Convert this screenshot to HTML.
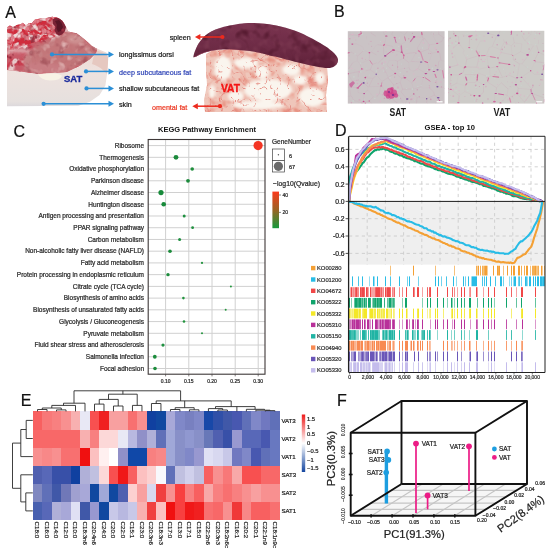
<!DOCTYPE html>
<html><head><meta charset="utf-8"><style>
html,body{margin:0;padding:0;background:#fff;}
body{width:549px;height:550px;overflow:hidden;}
svg{display:block;font-family:'Liberation Sans', Arial, sans-serif;}
</style></head><body>
<svg width="549" height="550" viewBox="0 0 549 550">
<rect width="549" height="550" fill="#fff"/>
<defs><clipPath id="cpA"><path d="M7,27.4 L9.7,25.6 L13,27 L16.8,25 L20,24.5 L22.8,22.7 L26,25.5 L28.7,23.2 L32,23 L34.6,19.7 L40.5,18.5 L46.4,17.9 L52.3,16.7 L58.3,17.9 L62,20.5 L64.2,23.8 L66.8,28.6 L68,31.4 L76.4,33.3 L84.2,39.1 L91.9,45.9 L99.6,49.7 L106.4,52.6 L108.3,58.4 L107.3,71.9 L105.4,85.4 L99.6,95.1 L90,101.8 L78.4,105.7 L7,106.3 Z"/></clipPath>
<linearGradient id="fatG" x1="0" y1="0" x2="0" y2="1"><stop offset="0" stop-color="#ecd4cc"/><stop offset="0.45" stop-color="#eee2de"/><stop offset="0.88" stop-color="#e6e0de"/><stop offset="1" stop-color="#d4d2da"/></linearGradient></defs>
<g clip-path="url(#cpA)">
<rect x="0" y="40" width="115" height="70" fill="url(#fatG)"/>
<path d="M95,50 Q104,52 108,56 L108,75 Q100,66 92,64 Z" fill="#e6c8c0"/>
</g>
<defs><clipPath id="cpM"><path d="M7,27.4 L9.7,25.6 L13,27 L16.8,25 L20,24.5 L22.8,22.7 L26,25.5 L28.7,23.2 L32,23 L34.6,19.7 L40.5,18.5 L46.4,17.9 L52.3,16.7 L58.3,17.9 L62,20.5 L64.2,23.8 L66.8,28.6 L68,31.4 L76.4,33.3 L84.2,39.1 L91.9,45.9 L97,49 L96,53 L90,59 L80.3,65.5 L66.8,71.9 L53.3,72.9 L37.8,73.8 L24.3,71.9 L7,70 Z"/></clipPath></defs>
<path d="M7,27.4 L9.7,25.6 L13,27 L16.8,25 L20,24.5 L22.8,22.7 L26,25.5 L28.7,23.2 L32,23 L34.6,19.7 L40.5,18.5 L46.4,17.9 L52.3,16.7 L58.3,17.9 L62,20.5 L64.2,23.8 L66.8,28.6 L68,31.4 L76.4,33.3 L84.2,39.1 L91.9,45.9 L97,49 L96,53 L90,59 L80.3,65.5 L66.8,71.9 L53.3,72.9 L37.8,73.8 L24.3,71.9 L7,70 Z" fill="#c8626c"/>
<g clip-path="url(#cpM)"><path d="M7,45 Q20,42 35,45 L40,60 L30,70 L7,70 Z" fill="#c85a68"/></g>
<defs>
<filter id="f9" x="0" y="0" width="100%" height="100%" filterUnits="userSpaceOnUse" color-interpolation-filters="sRGB"><feTurbulence type="fractalNoise" baseFrequency="0.15" numOctaves="2" seed="3"/><feColorMatrix type="matrix" values="0 0 0 0 0.784 0 0 0 0 0.227 0 0 0 0 0.298 5 0 0 0 -2.3"/></filter>
</defs>
<g clip-path="url(#cpM)"><rect x="0" y="10" width="110" height="70" filter="url(#f9)" fill="#000"/></g>
<defs>
<filter id="f13" x="0" y="0" width="100%" height="100%" filterUnits="userSpaceOnUse" color-interpolation-filters="sRGB"><feTurbulence type="fractalNoise" baseFrequency="0.12" numOctaves="2" seed="11"/><feColorMatrix type="matrix" values="0 0 0 0 0.91 0 0 0 0 0.8 0 0 0 0 0.8 6 0 0 0 -3.1"/></filter>
</defs>
<g clip-path="url(#cpM)"><rect x="0" y="10" width="110" height="70" filter="url(#f13)" fill="#000"/></g>
<defs>
<filter id="f17" x="0" y="0" width="100%" height="100%" filterUnits="userSpaceOnUse" color-interpolation-filters="sRGB"><feTurbulence type="fractalNoise" baseFrequency="0.2" numOctaves="2" seed="8"/><feColorMatrix type="matrix" values="0 0 0 0 0.596 0 0 0 0 0.157 0 0 0 0 0.227 5 0 0 0 -3.0"/></filter>
</defs>
<g clip-path="url(#cpM)"><rect x="0" y="10" width="110" height="70" filter="url(#f17)" fill="#000"/></g>
<defs><clipPath id="cpT"><path d="M0,10 L70,10 L66,31 L55,37 L40,41 L26,45 L16,50 L0,52 Z"/></clipPath></defs>
<g clip-path="url(#cpM)">
<defs>
<filter id="f23" x="0" y="0" width="100%" height="100%" filterUnits="userSpaceOnUse" color-interpolation-filters="sRGB"><feTurbulence type="fractalNoise" baseFrequency="0.2" numOctaves="2" seed="51"/><feColorMatrix type="matrix" values="0 0 0 0 0.816 0 0 0 0 0.173 0 0 0 0 0.235 6 0 0 0 -2.6"/></filter>
</defs>
<g clip-path="url(#cpT)"><rect x="0" y="10" width="75" height="45" filter="url(#f23)" fill="#000"/></g>
<defs>
<filter id="f27" x="0" y="0" width="100%" height="100%" filterUnits="userSpaceOnUse" color-interpolation-filters="sRGB"><feTurbulence type="fractalNoise" baseFrequency="0.18" numOctaves="2" seed="53"/><feColorMatrix type="matrix" values="0 0 0 0 0.933 0 0 0 0 0.847 0 0 0 0 0.847 6 0 0 0 -3.2"/></filter>
</defs>
<g clip-path="url(#cpT)"><rect x="0" y="10" width="75" height="45" filter="url(#f27)" fill="#000"/></g>
<defs>
<filter id="f31" x="0" y="0" width="100%" height="100%" filterUnits="userSpaceOnUse" color-interpolation-filters="sRGB"><feTurbulence type="fractalNoise" baseFrequency="0.2" numOctaves="2" seed="57"/><feColorMatrix type="matrix" values="0 0 0 0 0.878 0 0 0 0 0.486 0 0 0 0 0.533 5 0 0 0 -2.6"/></filter>
</defs>
<g clip-path="url(#cpT)"><rect x="0" y="10" width="75" height="45" filter="url(#f31)" fill="#000"/></g>
</g>
<defs><filter id="blurM" x="-20%" y="-20%" width="140%" height="140%"><feGaussianBlur stdDeviation="1.5"/></filter></defs>
<defs><clipPath id="cpL"><path d="M24,58 Q32,46 48,41 Q60,37 66,31 L76.4,33.3 L84.2,39.1 L91.9,45.9 L97,49 L96,53 L90,59 L80.3,65.5 L66.8,71.9 L53.3,72.9 L37.8,73.8 L24,71 Z"/></clipPath></defs>
<g clip-path="url(#cpM)"><g filter="url(#blurM)">
<path d="M24,58 Q32,46 48,41 Q60,37 66,31 L76.4,33.3 L84.2,39.1 L91.9,45.9 L97,49 L96,53 L90,59 L80.3,65.5 L66.8,71.9 L53.3,72.9 L37.8,73.8 L24,71 Z" fill="#c27a7c" opacity="0.92"/>
<ellipse cx="76" cy="39" rx="9" ry="5" fill="#d6a0a0" opacity="0.6"/>
<path d="M26,64 Q40,60 58,64 Q70,68 66,74 L40,75 L24,73 Z" fill="#cc8088" opacity="0.6"/>
<path d="M7,49 Q20,47 30,50 L30,53 Q18,52 7,53 Z" fill="#e4c8c8" opacity="0.7"/>
</g></g>
<defs>
<filter id="f44" x="0" y="0" width="100%" height="100%" filterUnits="userSpaceOnUse" color-interpolation-filters="sRGB"><feTurbulence type="fractalNoise" baseFrequency="0.12" numOctaves="2" seed="41"/><feColorMatrix type="matrix" values="0 0 0 0 0.659 0 0 0 0 0.345 0 0 0 0 0.376 4 0 0 0 -2.2"/></filter>
</defs>
<g clip-path="url(#cpL)"><rect x="20" y="28" width="80" height="48" filter="url(#f44)" fill="#000"/></g>
<defs>
<filter id="f48" x="0" y="0" width="100%" height="100%" filterUnits="userSpaceOnUse" color-interpolation-filters="sRGB"><feTurbulence type="fractalNoise" baseFrequency="0.12" numOctaves="2" seed="43"/><feColorMatrix type="matrix" values="0 0 0 0 0.863 0 0 0 0 0.675 0 0 0 0 0.675 4 0 0 0 -2.3"/></filter>
</defs>
<g clip-path="url(#cpL)"><rect x="20" y="28" width="80" height="48" filter="url(#f48)" fill="#000"/></g>
<path d="M52.5,19.5 L56,17.8 L59,18.5 L62,20.5 L64,23.5 L66,27 L65,31 L62,34.5 L59,35.7 L56,33.5 L54.5,30 L55.5,27 L53,24 Z" fill="#7a2436"/>
<path d="M55,21 L59,20 L61.5,23 L63,27 L61,31 L58,32 L56.5,28 L57,25 Z" fill="#581626"/>
<circle cx="63" cy="30" r="1.6" fill="#9a3040"/>
<path d="M30,37 L34,36 L35,42 L31,43 Z" fill="#8a3040" opacity="0.7"/>
<path d="M38,74.5 Q45,73 55,73.4 Q61,74 62,76 Q60,80.5 50,80.5 Q41,80 38,74.5 Z" fill="#f8f3e6"/>
<defs><clipPath id="cpV"><path d="M206,54 L212,50.5 L240,48.5 L270,53 L300,60 L327,65.5 L328,80 L326,95 L327,112 L205,112 L204,100 L207,85 L206,70 Z"/></clipPath></defs>
<path d="M206,54 L212,50.5 L240,48.5 L270,53 L300,60 L327,65.5 L328,80 L326,95 L327,112 L205,112 L204,100 L207,85 L206,70 Z" fill="#efc6ba"/>
<defs>
<filter id="f59" x="0" y="0" width="100%" height="100%" filterUnits="userSpaceOnUse" color-interpolation-filters="sRGB"><feTurbulence type="fractalNoise" baseFrequency="0.12" numOctaves="2" seed="6"/><feColorMatrix type="matrix" values="0 0 0 0 0.91 0 0 0 0 0.58 0 0 0 0 0.518 3 0 0 0 -1.4"/></filter>
</defs>
<g clip-path="url(#cpV)"><rect x="200" y="50" width="130" height="65" filter="url(#f59)" fill="#000"/></g>
<defs>
<filter id="f63" x="0" y="0" width="100%" height="100%" filterUnits="userSpaceOnUse" color-interpolation-filters="sRGB"><feTurbulence type="turbulence" baseFrequency="0.05" numOctaves="2" seed="21"/><feColorMatrix type="matrix" values="0 0 0 0 0.902 0 0 0 0 0.525 0 0 0 0 0.478 -8 0 0 0 1.0"/></filter>
</defs>
<g clip-path="url(#cpV)"><rect x="200" y="50" width="130" height="65" filter="url(#f63)" fill="#000"/></g>
<defs><filter id="blurV" x="-50%" y="-50%" width="200%" height="200%"><feGaussianBlur stdDeviation="1.8"/></filter></defs>
<g clip-path="url(#cpV)"><g filter="url(#blurV)" fill="#faf5ee">
<ellipse cx="223" cy="68" rx="9" ry="12"/>
<ellipse cx="246" cy="63" rx="12" ry="5.5"/>
<ellipse cx="268" cy="90" rx="24" ry="11"/>
<ellipse cx="312" cy="97" rx="13" ry="10"/>
<ellipse cx="291" cy="70" rx="9" ry="6"/>
<ellipse cx="236" cy="96" rx="8" ry="6"/>
<ellipse cx="258" cy="105" rx="26" ry="4.5"/>
<ellipse cx="262" cy="72" rx="7" ry="7"/>
<ellipse cx="212" cy="92" rx="3.5" ry="7"/>
<ellipse cx="300" cy="80" rx="7" ry="5"/>
<ellipse cx="320" cy="78" rx="5" ry="6"/>
</g></g>
<defs>
<filter id="f81" x="0" y="0" width="100%" height="100%" filterUnits="userSpaceOnUse" color-interpolation-filters="sRGB"><feTurbulence type="turbulence" baseFrequency="0.09" numOctaves="2" seed="33"/><feColorMatrix type="matrix" values="0 0 0 0 0.894 0 0 0 0 0.541 0 0 0 0 0.502 -9 0 0 0 0.9"/></filter>
</defs>
<g clip-path="url(#cpV)"><rect x="200" y="50" width="130" height="65" filter="url(#f81)" fill="#000"/></g>
<defs><clipPath id="cpS"><path d="M193.3,57.3 C195,48 200,39 208,33.5 C216,28 230,24.5 245,23.2 C258,22.5 272,24 285,27.5 C298,31 310,37 320,43 C330,49 337,54 338,59.5 C338,64 335,67 330,68 C322,68.5 312,65.5 299.3,62.8 C288,60 280,57.5 272,56 C262,53 252,51 244.6,50.5 C235,49.5 228,49 222.8,49.2 C214,49.8 206,51.5 200,54.5 C197,56 195,57.5 193.3,57.3 Z"/></clipPath><linearGradient id="splG" x1="0" y1="0" x2="0" y2="1"><stop offset="0" stop-color="#7a3450"/><stop offset="0.6" stop-color="#6c2a44"/><stop offset="1" stop-color="#5e2038"/></linearGradient></defs>
<path d="M193.3,57.3 C195,48 200,39 208,33.5 C216,28 230,24.5 245,23.2 C258,22.5 272,24 285,27.5 C298,31 310,37 320,43 C330,49 337,54 338,59.5 C338,64 335,67 330,68 C322,68.5 312,65.5 299.3,62.8 C288,60 280,57.5 272,56 C262,53 252,51 244.6,50.5 C235,49.5 228,49 222.8,49.2 C214,49.8 206,51.5 200,54.5 C197,56 195,57.5 193.3,57.3 Z" fill="url(#splG)"/>
<defs>
<filter id="f87" x="0" y="0" width="100%" height="100%" filterUnits="userSpaceOnUse" color-interpolation-filters="sRGB"><feTurbulence type="fractalNoise" baseFrequency="0.1" numOctaves="2" seed="12"/><feColorMatrix type="matrix" values="0 0 0 0 0.494 0 0 0 0 0.227 0 0 0 0 0.322 3 0 0 0 -1.5"/></filter>
</defs>
<g clip-path="url(#cpS)"><rect x="190" y="20" width="150" height="50" filter="url(#f87)" fill="#000"/></g>
<defs>
<filter id="f91" x="0" y="0" width="100%" height="100%" filterUnits="userSpaceOnUse" color-interpolation-filters="sRGB"><feTurbulence type="fractalNoise" baseFrequency="0.1" numOctaves="2" seed="14"/><feColorMatrix type="matrix" values="0 0 0 0 0.337 0 0 0 0 0.102 0 0 0 0 0.188 3 0 0 0 -1.5"/></filter>
</defs>
<g clip-path="url(#cpS)"><rect x="190" y="20" width="150" height="50" filter="url(#f91)" fill="#000"/></g>
<g clip-path="url(#cpS)"><path d="M194,58 C200,54 210,50.5 222.8,49.8 C235,49.8 250,51.5 262,54" stroke="#a04862" stroke-width="1.4" fill="none" opacity="0.8"/></g>
<line x1="52" y1="54.4" x2="110" y2="54.4" stroke="#2b8fd6" stroke-width="1.5"/>
<circle cx="52" cy="54.4" r="2.1" fill="#2b8fd6"/>
<path d="M108.5,51.4 L114,54.4 L108.5,57.4 Z" fill="#2b8fd6"/>
<line x1="86" y1="71.4" x2="110" y2="71.4" stroke="#2b8fd6" stroke-width="1.5"/>
<circle cx="86" cy="71.4" r="2.1" fill="#2b8fd6"/>
<path d="M108.5,68.4 L114,71.4 L108.5,74.4 Z" fill="#2b8fd6"/>
<line x1="86.5" y1="88.4" x2="110" y2="88.4" stroke="#2b8fd6" stroke-width="1.5"/>
<circle cx="86.5" cy="88.4" r="2.1" fill="#2b8fd6"/>
<path d="M108.5,85.4 L114,88.4 L108.5,91.4 Z" fill="#2b8fd6"/>
<line x1="43.6" y1="103.8" x2="110" y2="103.8" stroke="#2b8fd6" stroke-width="1.5"/>
<circle cx="43.6" cy="103.8" r="2.1" fill="#2b8fd6"/>
<path d="M108.5,100.8 L114,103.8 L108.5,106.8 Z" fill="#2b8fd6"/>
<line x1="222.4" y1="37" x2="198.9" y2="37" stroke="#ec2a1e" stroke-width="1.5"/>
<circle cx="222.4" cy="37" r="2.1" fill="#ec2a1e"/>
<path d="M200.4,34 L194.9,37 L200.4,40 Z" fill="#ec2a1e"/>
<line x1="220" y1="106.2" x2="196.3" y2="106.2" stroke="#ec2a1e" stroke-width="1.5"/>
<circle cx="220" cy="106.2" r="2.1" fill="#ec2a1e"/>
<path d="M197.8,103.2 L192.3,106.2 L197.8,109.2 Z" fill="#ec2a1e"/>
<text x="119" y="57" font-size="7.15" fill="#1a1a1a" stroke="#1a1a1a" stroke-width="0.22" text-anchor="start" font-weight="normal" >longissimus dorsi</text>
<text x="119" y="74.6" font-size="7.15" fill="#3348b8" stroke="#3348b8" stroke-width="0.22" text-anchor="start" font-weight="normal" >deep subcutaneous fat</text>
<text x="119" y="91.2" font-size="7.15" fill="#1a1a1a" stroke="#1a1a1a" stroke-width="0.22" text-anchor="start" font-weight="normal" >shallow subcutaneous fat</text>
<text x="119" y="106.6" font-size="7.15" fill="#1a1a1a" stroke="#1a1a1a" stroke-width="0.22" text-anchor="start" font-weight="normal" >skin</text>
<text x="169.7" y="40" font-size="7.15" fill="#1a1a1a" stroke="#1a1a1a" stroke-width="0.22" text-anchor="start" font-weight="normal" >spleen</text>
<text x="152" y="109.6" font-size="7.15" fill="#ec3a24" stroke="#ec3a24" stroke-width="0.22" text-anchor="start" font-weight="normal" >omental fat</text>
<text x="64" y="81.6" font-size="9.3" font-weight="bold" fill="#1a2a9c" stroke="#1a2a9c" stroke-width="0.3" textLength="18.2" lengthAdjust="spacingAndGlyphs">SAT</text>
<text x="221" y="92.2" font-size="10.5" font-weight="bold" fill="#f41414" stroke="#f41414" stroke-width="0.35" textLength="19" lengthAdjust="spacingAndGlyphs">VAT</text>
<rect x="347.8" y="31.2" width="96.8" height="72.4" fill="#cac3c5"/>
<clipPath id="cpB1"><rect x="347.8" y="31.2" width="96.8" height="72.4"/></clipPath><g clip-path="url(#cpB1)">
<line x1="347.0" y1="40.3" x2="347.3" y2="37.1" stroke="#d080a8" stroke-width="0.7" opacity="0.11"/>
<line x1="348.0" y1="74.2" x2="351.9" y2="80.6" stroke="#d080a8" stroke-width="0.7" opacity="0.10"/>
<line x1="351.9" y1="80.6" x2="350.3" y2="86.7" stroke="#d080a8" stroke-width="0.7" opacity="0.18"/>
<line x1="350.3" y1="86.7" x2="349.6" y2="87.6" stroke="#d080a8" stroke-width="0.7" opacity="0.10"/>
<line x1="349.6" y1="87.6" x2="341.1" y2="86.5" stroke="#d080a8" stroke-width="0.7" opacity="0.13"/>
<line x1="412.4" y1="28.5" x2="421.2" y2="29.8" stroke="#d080a8" stroke-width="0.7" opacity="0.14"/>
<line x1="394.8" y1="60.3" x2="389.1" y2="60.6" stroke="#d080a8" stroke-width="0.7" opacity="0.06"/>
<line x1="393.8" y1="50.2" x2="393.3" y2="49.7" stroke="#d080a8" stroke-width="0.7" opacity="0.09"/>
<line x1="376.2" y1="74.2" x2="370.3" y2="69.7" stroke="#d080a8" stroke-width="0.7" opacity="0.12"/>
<line x1="376.2" y1="74.2" x2="382.7" y2="67.8" stroke="#d080a8" stroke-width="0.7" opacity="0.07"/>
<line x1="370.3" y1="69.7" x2="372.4" y2="64.4" stroke="#d080a8" stroke-width="0.7" opacity="0.17"/>
<line x1="378.0" y1="63.3" x2="376.4" y2="62.9" stroke="#d080a8" stroke-width="0.7" opacity="0.08"/>
<line x1="372.4" y1="64.4" x2="376.4" y2="62.9" stroke="#d080a8" stroke-width="0.7" opacity="0.20"/>
<line x1="383.8" y1="54.4" x2="385.2" y2="55.8" stroke="#d080a8" stroke-width="0.7" opacity="0.10"/>
<line x1="378.0" y1="63.3" x2="385.3" y2="56.1" stroke="#d080a8" stroke-width="0.7" opacity="0.19"/>
<line x1="375.7" y1="45.7" x2="371.4" y2="52.1" stroke="#d080a8" stroke-width="0.7" opacity="0.07"/>
<line x1="375.7" y1="45.7" x2="377.6" y2="44.6" stroke="#d080a8" stroke-width="0.7" opacity="0.05"/>
<line x1="377.6" y1="44.6" x2="383.4" y2="45.5" stroke="#d080a8" stroke-width="0.7" opacity="0.19"/>
<line x1="383.8" y1="54.4" x2="383.4" y2="45.5" stroke="#d080a8" stroke-width="0.7" opacity="0.19"/>
<line x1="376.6" y1="55.0" x2="371.4" y2="52.1" stroke="#d080a8" stroke-width="0.7" opacity="0.16"/>
<line x1="383.4" y1="45.5" x2="384.5" y2="44.6" stroke="#d080a8" stroke-width="0.7" opacity="0.08"/>
<line x1="393.3" y1="49.7" x2="392.7" y2="46.4" stroke="#d080a8" stroke-width="0.7" opacity="0.07"/>
<line x1="392.7" y1="46.4" x2="384.5" y2="44.6" stroke="#d080a8" stroke-width="0.7" opacity="0.15"/>
<line x1="384.2" y1="34.7" x2="386.3" y2="36.1" stroke="#d080a8" stroke-width="0.7" opacity="0.17"/>
<line x1="384.5" y1="44.6" x2="386.3" y2="36.1" stroke="#d080a8" stroke-width="0.7" opacity="0.13"/>
<line x1="393.8" y1="29.1" x2="391.8" y2="34.4" stroke="#d080a8" stroke-width="0.7" opacity="0.12"/>
<line x1="384.2" y1="34.7" x2="381.3" y2="25.3" stroke="#d080a8" stroke-width="0.7" opacity="0.10"/>
<line x1="408.3" y1="30.4" x2="404.3" y2="35.0" stroke="#d080a8" stroke-width="0.7" opacity="0.11"/>
<line x1="404.3" y1="35.0" x2="395.8" y2="28.0" stroke="#d080a8" stroke-width="0.7" opacity="0.06"/>
<line x1="410.1" y1="30.4" x2="412.4" y2="28.5" stroke="#d080a8" stroke-width="0.7" opacity="0.07"/>
<line x1="401.2" y1="44.3" x2="405.8" y2="41.6" stroke="#d080a8" stroke-width="0.7" opacity="0.11"/>
<line x1="401.2" y1="44.3" x2="396.1" y2="43.0" stroke="#d080a8" stroke-width="0.7" opacity="0.14"/>
<line x1="404.2" y1="35.3" x2="405.8" y2="41.6" stroke="#d080a8" stroke-width="0.7" opacity="0.13"/>
<line x1="401.8" y1="52.2" x2="401.2" y2="44.3" stroke="#d080a8" stroke-width="0.7" opacity="0.12"/>
<line x1="401.8" y1="52.2" x2="393.8" y2="50.2" stroke="#d080a8" stroke-width="0.7" opacity="0.16"/>
<line x1="391.8" y1="34.4" x2="394.6" y2="37.4" stroke="#d080a8" stroke-width="0.7" opacity="0.12"/>
<line x1="344.3" y1="58.3" x2="345.4" y2="53.4" stroke="#d080a8" stroke-width="0.7" opacity="0.13"/>
<line x1="344.3" y1="58.3" x2="340.7" y2="61.7" stroke="#d080a8" stroke-width="0.7" opacity="0.19"/>
<line x1="347.0" y1="40.3" x2="352.3" y2="44.1" stroke="#d080a8" stroke-width="0.7" opacity="0.06"/>
<line x1="351.6" y1="52.3" x2="345.4" y2="53.4" stroke="#d080a8" stroke-width="0.7" opacity="0.18"/>
<line x1="352.9" y1="62.5" x2="347.2" y2="71.0" stroke="#d080a8" stroke-width="0.7" opacity="0.18"/>
<line x1="348.0" y1="74.2" x2="348.1" y2="73.8" stroke="#d080a8" stroke-width="0.7" opacity="0.15"/>
<line x1="358.5" y1="80.7" x2="351.9" y2="80.6" stroke="#d080a8" stroke-width="0.7" opacity="0.11"/>
<line x1="358.5" y1="80.7" x2="358.2" y2="71.6" stroke="#d080a8" stroke-width="0.7" opacity="0.16"/>
<line x1="358.2" y1="71.6" x2="348.1" y2="73.8" stroke="#d080a8" stroke-width="0.7" opacity="0.18"/>
<line x1="348.1" y1="73.8" x2="347.2" y2="71.0" stroke="#d080a8" stroke-width="0.7" opacity="0.19"/>
<line x1="405.4" y1="105.7" x2="416.2" y2="104.4" stroke="#d080a8" stroke-width="0.7" opacity="0.08"/>
<line x1="373.4" y1="96.9" x2="369.2" y2="101.0" stroke="#d080a8" stroke-width="0.7" opacity="0.16"/>
<line x1="369.2" y1="101.0" x2="376.8" y2="109.0" stroke="#d080a8" stroke-width="0.7" opacity="0.16"/>
<line x1="386.7" y1="104.1" x2="380.2" y2="105.0" stroke="#d080a8" stroke-width="0.7" opacity="0.13"/>
<line x1="389.9" y1="99.1" x2="379.3" y2="93.6" stroke="#d080a8" stroke-width="0.7" opacity="0.06"/>
<line x1="379.3" y1="93.6" x2="376.5" y2="97.2" stroke="#d080a8" stroke-width="0.7" opacity="0.17"/>
<line x1="358.5" y1="80.7" x2="362.6" y2="83.0" stroke="#d080a8" stroke-width="0.7" opacity="0.09"/>
<line x1="350.3" y1="86.7" x2="357.8" y2="87.9" stroke="#d080a8" stroke-width="0.7" opacity="0.19"/>
<line x1="369.2" y1="101.0" x2="364.9" y2="102.1" stroke="#d080a8" stroke-width="0.7" opacity="0.18"/>
<line x1="364.9" y1="102.1" x2="371.6" y2="121.2" stroke="#d080a8" stroke-width="0.7" opacity="0.16"/>
<line x1="345.6" y1="96.6" x2="342.7" y2="102.9" stroke="#d080a8" stroke-width="0.7" opacity="0.19"/>
<line x1="349.6" y1="87.6" x2="350.9" y2="96.0" stroke="#d080a8" stroke-width="0.7" opacity="0.11"/>
<line x1="345.6" y1="96.6" x2="350.9" y2="96.0" stroke="#d080a8" stroke-width="0.7" opacity="0.11"/>
<line x1="366.4" y1="39.3" x2="366.6" y2="36.0" stroke="#d080a8" stroke-width="0.7" opacity="0.07"/>
<line x1="375.7" y1="36.1" x2="371.1" y2="33.2" stroke="#d080a8" stroke-width="0.7" opacity="0.19"/>
<line x1="371.1" y1="33.2" x2="371.5" y2="31.8" stroke="#d080a8" stroke-width="0.7" opacity="0.11"/>
<line x1="430.8" y1="34.9" x2="432.1" y2="28.1" stroke="#d080a8" stroke-width="0.7" opacity="0.05"/>
<line x1="433.0" y1="35.9" x2="438.8" y2="34.3" stroke="#d080a8" stroke-width="0.7" opacity="0.05"/>
<line x1="438.1" y1="27.2" x2="438.8" y2="34.3" stroke="#d080a8" stroke-width="0.7" opacity="0.14"/>
<line x1="429.2" y1="61.3" x2="432.3" y2="53.1" stroke="#d080a8" stroke-width="0.7" opacity="0.08"/>
<line x1="432.3" y1="53.1" x2="438.0" y2="51.8" stroke="#d080a8" stroke-width="0.7" opacity="0.09"/>
<line x1="438.9" y1="61.2" x2="440.9" y2="60.1" stroke="#d080a8" stroke-width="0.7" opacity="0.09"/>
<line x1="440.9" y1="60.1" x2="439.7" y2="52.8" stroke="#d080a8" stroke-width="0.7" opacity="0.17"/>
<line x1="438.0" y1="51.8" x2="439.7" y2="52.8" stroke="#d080a8" stroke-width="0.7" opacity="0.20"/>
<line x1="432.3" y1="53.1" x2="428.4" y2="49.1" stroke="#d080a8" stroke-width="0.7" opacity="0.12"/>
<line x1="429.4" y1="44.8" x2="428.4" y2="49.1" stroke="#d080a8" stroke-width="0.7" opacity="0.17"/>
<line x1="429.4" y1="44.8" x2="437.1" y2="43.7" stroke="#d080a8" stroke-width="0.7" opacity="0.11"/>
<line x1="433.0" y1="35.9" x2="437.2" y2="43.4" stroke="#d080a8" stroke-width="0.7" opacity="0.07"/>
<line x1="429.4" y1="44.8" x2="424.5" y2="38.3" stroke="#d080a8" stroke-width="0.7" opacity="0.13"/>
<line x1="437.1" y1="43.7" x2="437.2" y2="43.4" stroke="#d080a8" stroke-width="0.7" opacity="0.16"/>
<line x1="401.8" y1="52.2" x2="403.8" y2="55.3" stroke="#d080a8" stroke-width="0.7" opacity="0.07"/>
<line x1="394.8" y1="60.3" x2="397.4" y2="61.1" stroke="#d080a8" stroke-width="0.7" opacity="0.14"/>
<line x1="403.8" y1="55.3" x2="403.5" y2="58.3" stroke="#d080a8" stroke-width="0.7" opacity="0.13"/>
<line x1="397.4" y1="61.1" x2="403.5" y2="58.3" stroke="#d080a8" stroke-width="0.7" opacity="0.13"/>
<line x1="383.8" y1="67.7" x2="388.3" y2="77.3" stroke="#d080a8" stroke-width="0.7" opacity="0.12"/>
<line x1="387.1" y1="65.1" x2="395.2" y2="73.5" stroke="#d080a8" stroke-width="0.7" opacity="0.11"/>
<line x1="388.3" y1="77.3" x2="395.2" y2="73.5" stroke="#d080a8" stroke-width="0.7" opacity="0.15"/>
<line x1="382.7" y1="67.8" x2="383.8" y2="67.7" stroke="#d080a8" stroke-width="0.7" opacity="0.15"/>
<line x1="389.1" y1="60.6" x2="387.1" y2="65.1" stroke="#d080a8" stroke-width="0.7" opacity="0.08"/>
<line x1="397.4" y1="61.1" x2="397.4" y2="69.7" stroke="#d080a8" stroke-width="0.7" opacity="0.18"/>
<line x1="396.0" y1="73.4" x2="401.5" y2="78.5" stroke="#d080a8" stroke-width="0.7" opacity="0.13"/>
<line x1="400.2" y1="82.4" x2="401.5" y2="78.5" stroke="#d080a8" stroke-width="0.7" opacity="0.12"/>
<line x1="400.2" y1="82.4" x2="393.8" y2="85.0" stroke="#d080a8" stroke-width="0.7" opacity="0.11"/>
<line x1="387.9" y1="77.8" x2="393.8" y2="85.0" stroke="#d080a8" stroke-width="0.7" opacity="0.20"/>
<line x1="387.9" y1="77.8" x2="388.3" y2="77.3" stroke="#d080a8" stroke-width="0.7" opacity="0.08"/>
<line x1="413.8" y1="93.9" x2="407.2" y2="99.0" stroke="#d080a8" stroke-width="0.7" opacity="0.13"/>
<line x1="413.8" y1="93.9" x2="413.7" y2="89.1" stroke="#d080a8" stroke-width="0.7" opacity="0.05"/>
<line x1="413.7" y1="89.1" x2="413.5" y2="89.0" stroke="#d080a8" stroke-width="0.7" opacity="0.11"/>
<line x1="413.5" y1="89.0" x2="402.6" y2="89.2" stroke="#d080a8" stroke-width="0.7" opacity="0.18"/>
<line x1="407.2" y1="99.0" x2="401.0" y2="91.9" stroke="#d080a8" stroke-width="0.7" opacity="0.16"/>
<line x1="402.6" y1="89.2" x2="401.0" y2="91.9" stroke="#d080a8" stroke-width="0.7" opacity="0.16"/>
<line x1="417.1" y1="97.6" x2="416.2" y2="104.4" stroke="#d080a8" stroke-width="0.7" opacity="0.16"/>
<line x1="417.1" y1="97.6" x2="413.8" y2="93.9" stroke="#d080a8" stroke-width="0.7" opacity="0.15"/>
<line x1="405.4" y1="105.7" x2="405.0" y2="104.9" stroke="#d080a8" stroke-width="0.7" opacity="0.11"/>
<line x1="405.0" y1="104.9" x2="407.2" y2="99.0" stroke="#d080a8" stroke-width="0.7" opacity="0.15"/>
<line x1="400.2" y1="82.4" x2="402.6" y2="89.2" stroke="#d080a8" stroke-width="0.7" opacity="0.17"/>
<line x1="401.5" y1="78.5" x2="404.9" y2="77.7" stroke="#d080a8" stroke-width="0.7" opacity="0.17"/>
<line x1="404.9" y1="77.7" x2="411.8" y2="83.0" stroke="#d080a8" stroke-width="0.7" opacity="0.14"/>
<line x1="411.8" y1="83.0" x2="413.5" y2="89.0" stroke="#d080a8" stroke-width="0.7" opacity="0.09"/>
<line x1="417.1" y1="76.3" x2="411.8" y2="83.0" stroke="#d080a8" stroke-width="0.7" opacity="0.18"/>
<line x1="417.1" y1="76.3" x2="423.4" y2="77.6" stroke="#d080a8" stroke-width="0.7" opacity="0.07"/>
<line x1="413.7" y1="89.1" x2="421.1" y2="86.8" stroke="#d080a8" stroke-width="0.7" opacity="0.12"/>
<line x1="423.4" y1="77.6" x2="421.1" y2="86.8" stroke="#d080a8" stroke-width="0.7" opacity="0.06"/>
<line x1="446.2" y1="67.4" x2="442.7" y2="70.6" stroke="#d080a8" stroke-width="0.7" opacity="0.16"/>
<line x1="443.8" y1="78.0" x2="442.7" y2="70.6" stroke="#d080a8" stroke-width="0.7" opacity="0.10"/>
<line x1="445.9" y1="62.1" x2="440.9" y2="60.1" stroke="#d080a8" stroke-width="0.7" opacity="0.05"/>
<line x1="438.9" y1="61.2" x2="437.5" y2="69.8" stroke="#d080a8" stroke-width="0.7" opacity="0.19"/>
<line x1="442.7" y1="70.6" x2="437.5" y2="69.8" stroke="#d080a8" stroke-width="0.7" opacity="0.11"/>
<line x1="427.6" y1="62.5" x2="429.2" y2="69.8" stroke="#d080a8" stroke-width="0.7" opacity="0.14"/>
<line x1="433.9" y1="71.5" x2="437.5" y2="69.8" stroke="#d080a8" stroke-width="0.7" opacity="0.09"/>
<line x1="423.2" y1="105.9" x2="444.5" y2="272.0" stroke="#d080a8" stroke-width="0.7" opacity="0.13"/>
<line x1="426.6" y1="102.6" x2="431.7" y2="107.7" stroke="#d080a8" stroke-width="0.7" opacity="0.13"/>
<line x1="431.7" y1="107.7" x2="439.3" y2="146.0" stroke="#d080a8" stroke-width="0.7" opacity="0.08"/>
<line x1="417.2" y1="105.6" x2="423.2" y2="105.9" stroke="#d080a8" stroke-width="0.7" opacity="0.16"/>
<line x1="359.9" y1="63.8" x2="357.2" y2="60.8" stroke="#d080a8" stroke-width="0.7" opacity="0.09"/>
<line x1="359.9" y1="63.8" x2="369.3" y2="59.6" stroke="#d080a8" stroke-width="0.7" opacity="0.08"/>
<line x1="357.2" y1="60.8" x2="357.7" y2="56.0" stroke="#d080a8" stroke-width="0.7" opacity="0.08"/>
<line x1="357.7" y1="56.0" x2="363.8" y2="50.4" stroke="#d080a8" stroke-width="0.7" opacity="0.18"/>
<line x1="363.8" y1="50.4" x2="369.4" y2="52.7" stroke="#d080a8" stroke-width="0.7" opacity="0.08"/>
<line x1="369.3" y1="59.6" x2="369.4" y2="52.7" stroke="#d080a8" stroke-width="0.7" opacity="0.16"/>
<line x1="352.9" y1="62.5" x2="357.2" y2="60.8" stroke="#d080a8" stroke-width="0.7" opacity="0.05"/>
<line x1="361.8" y1="68.9" x2="359.9" y2="63.8" stroke="#d080a8" stroke-width="0.7" opacity="0.14"/>
<line x1="361.8" y1="68.9" x2="358.2" y2="71.6" stroke="#d080a8" stroke-width="0.7" opacity="0.11"/>
<line x1="365.7" y1="70.8" x2="370.3" y2="69.7" stroke="#d080a8" stroke-width="0.7" opacity="0.17"/>
<line x1="372.4" y1="64.4" x2="369.3" y2="59.6" stroke="#d080a8" stroke-width="0.7" opacity="0.07"/>
<line x1="351.6" y1="52.3" x2="357.7" y2="56.0" stroke="#d080a8" stroke-width="0.7" opacity="0.12"/>
<line x1="352.3" y1="44.1" x2="356.4" y2="43.8" stroke="#d080a8" stroke-width="0.7" opacity="0.16"/>
<line x1="356.4" y1="43.8" x2="362.9" y2="46.9" stroke="#d080a8" stroke-width="0.7" opacity="0.09"/>
<line x1="362.9" y1="46.9" x2="363.8" y2="50.4" stroke="#d080a8" stroke-width="0.7" opacity="0.07"/>
<line x1="371.4" y1="52.1" x2="369.4" y2="52.7" stroke="#d080a8" stroke-width="0.7" opacity="0.10"/>
<line x1="398.9" y1="104.1" x2="404.2" y2="104.7" stroke="#d080a8" stroke-width="0.7" opacity="0.09"/>
<line x1="398.9" y1="104.1" x2="391.3" y2="98.3" stroke="#d080a8" stroke-width="0.7" opacity="0.16"/>
<line x1="404.2" y1="104.7" x2="397.7" y2="93.6" stroke="#d080a8" stroke-width="0.7" opacity="0.07"/>
<line x1="391.3" y1="98.3" x2="394.1" y2="94.2" stroke="#d080a8" stroke-width="0.7" opacity="0.12"/>
<line x1="390.4" y1="98.7" x2="391.3" y2="98.3" stroke="#d080a8" stroke-width="0.7" opacity="0.18"/>
<line x1="392.1" y1="88.7" x2="394.1" y2="94.2" stroke="#d080a8" stroke-width="0.7" opacity="0.17"/>
<line x1="390.4" y1="98.7" x2="381.8" y2="86.2" stroke="#d080a8" stroke-width="0.7" opacity="0.14"/>
<line x1="392.1" y1="88.7" x2="393.8" y2="85.0" stroke="#d080a8" stroke-width="0.7" opacity="0.18"/>
<line x1="362.6" y1="83.0" x2="363.6" y2="82.9" stroke="#d080a8" stroke-width="0.7" opacity="0.06"/>
<line x1="365.3" y1="77.6" x2="363.6" y2="82.9" stroke="#d080a8" stroke-width="0.7" opacity="0.12"/>
<line x1="358.2" y1="92.7" x2="364.1" y2="93.6" stroke="#d080a8" stroke-width="0.7" opacity="0.08"/>
<line x1="352.3" y1="97.2" x2="353.3" y2="100.0" stroke="#d080a8" stroke-width="0.7" opacity="0.12"/>
<line x1="353.3" y1="100.0" x2="360.3" y2="102.4" stroke="#d080a8" stroke-width="0.7" opacity="0.08"/>
<line x1="364.1" y1="93.6" x2="363.6" y2="101.5" stroke="#d080a8" stroke-width="0.7" opacity="0.10"/>
<line x1="363.6" y1="101.5" x2="360.3" y2="102.4" stroke="#d080a8" stroke-width="0.7" opacity="0.19"/>
<line x1="367.7" y1="90.0" x2="368.2" y2="86.9" stroke="#d080a8" stroke-width="0.7" opacity="0.06"/>
<line x1="367.7" y1="90.0" x2="364.1" y2="93.6" stroke="#d080a8" stroke-width="0.7" opacity="0.18"/>
<line x1="357.8" y1="87.9" x2="358.2" y2="92.7" stroke="#d080a8" stroke-width="0.7" opacity="0.11"/>
<line x1="368.2" y1="86.9" x2="363.6" y2="82.9" stroke="#d080a8" stroke-width="0.7" opacity="0.19"/>
<line x1="350.9" y1="96.0" x2="352.3" y2="97.2" stroke="#d080a8" stroke-width="0.7" opacity="0.18"/>
<line x1="373.4" y1="96.9" x2="367.7" y2="90.0" stroke="#d080a8" stroke-width="0.7" opacity="0.07"/>
<line x1="364.9" y1="102.1" x2="363.6" y2="101.5" stroke="#d080a8" stroke-width="0.7" opacity="0.05"/>
<line x1="351.1" y1="26.2" x2="349.7" y2="34.8" stroke="#d080a8" stroke-width="0.7" opacity="0.06"/>
<line x1="351.1" y1="26.2" x2="357.6" y2="25.8" stroke="#d080a8" stroke-width="0.7" opacity="0.07"/>
<line x1="349.7" y1="34.8" x2="358.0" y2="35.2" stroke="#d080a8" stroke-width="0.7" opacity="0.18"/>
<line x1="359.6" y1="27.4" x2="361.4" y2="33.6" stroke="#d080a8" stroke-width="0.7" opacity="0.06"/>
<line x1="347.3" y1="37.1" x2="349.7" y2="34.8" stroke="#d080a8" stroke-width="0.7" opacity="0.06"/>
<line x1="409.5" y1="43.0" x2="414.1" y2="36.8" stroke="#d080a8" stroke-width="0.7" opacity="0.16"/>
<line x1="421.2" y1="29.8" x2="422.5" y2="37.2" stroke="#d080a8" stroke-width="0.7" opacity="0.18"/>
<line x1="414.1" y1="36.8" x2="422.5" y2="37.2" stroke="#d080a8" stroke-width="0.7" opacity="0.11"/>
<line x1="424.5" y1="38.3" x2="423.3" y2="38.1" stroke="#d080a8" stroke-width="0.7" opacity="0.20"/>
<line x1="422.5" y1="37.2" x2="423.3" y2="38.1" stroke="#d080a8" stroke-width="0.7" opacity="0.09"/>
<line x1="446.9" y1="49.9" x2="451.8" y2="55.9" stroke="#d080a8" stroke-width="0.7" opacity="0.14"/>
<line x1="443.7" y1="37.8" x2="447.9" y2="35.4" stroke="#d080a8" stroke-width="0.7" opacity="0.14"/>
<line x1="443.7" y1="37.8" x2="441.8" y2="41.3" stroke="#d080a8" stroke-width="0.7" opacity="0.13"/>
<line x1="447.9" y1="35.4" x2="452.8" y2="39.4" stroke="#d080a8" stroke-width="0.7" opacity="0.11"/>
<line x1="448.7" y1="29.3" x2="447.9" y2="35.4" stroke="#d080a8" stroke-width="0.7" opacity="0.11"/>
<line x1="438.8" y1="34.3" x2="443.7" y2="37.8" stroke="#d080a8" stroke-width="0.7" opacity="0.16"/>
<line x1="437.2" y1="43.4" x2="441.8" y2="41.3" stroke="#d080a8" stroke-width="0.7" opacity="0.16"/>
<line x1="446.9" y1="49.9" x2="447.1" y2="48.5" stroke="#d080a8" stroke-width="0.7" opacity="0.09"/>
<line x1="397.4" y1="69.7" x2="409.1" y2="67.7" stroke="#d080a8" stroke-width="0.7" opacity="0.07"/>
<line x1="403.5" y1="58.3" x2="408.6" y2="62.4" stroke="#d080a8" stroke-width="0.7" opacity="0.18"/>
<line x1="408.6" y1="62.4" x2="409.1" y2="67.7" stroke="#d080a8" stroke-width="0.7" opacity="0.06"/>
<line x1="425.9" y1="73.6" x2="418.0" y2="68.5" stroke="#d080a8" stroke-width="0.7" opacity="0.12"/>
<line x1="425.9" y1="73.6" x2="424.3" y2="77.1" stroke="#d080a8" stroke-width="0.7" opacity="0.20"/>
<line x1="418.0" y1="68.5" x2="413.6" y2="71.3" stroke="#d080a8" stroke-width="0.7" opacity="0.12"/>
<line x1="409.1" y1="67.7" x2="410.0" y2="70.1" stroke="#d080a8" stroke-width="0.7" opacity="0.16"/>
<line x1="413.6" y1="71.3" x2="410.0" y2="70.1" stroke="#d080a8" stroke-width="0.7" opacity="0.05"/>
<line x1="417.1" y1="97.6" x2="425.6" y2="98.0" stroke="#d080a8" stroke-width="0.7" opacity="0.06"/>
<line x1="421.1" y1="86.8" x2="423.3" y2="88.1" stroke="#d080a8" stroke-width="0.7" opacity="0.06"/>
<line x1="426.6" y1="102.6" x2="426.7" y2="98.7" stroke="#d080a8" stroke-width="0.7" opacity="0.16"/>
<line x1="425.6" y1="98.0" x2="426.7" y2="98.7" stroke="#d080a8" stroke-width="0.7" opacity="0.07"/>
<line x1="368.8" y1="86.7" x2="372.9" y2="78.4" stroke="#d080a8" stroke-width="0.7" opacity="0.17"/>
<line x1="368.8" y1="86.7" x2="380.6" y2="86.4" stroke="#d080a8" stroke-width="0.7" opacity="0.10"/>
<line x1="382.1" y1="81.4" x2="381.2" y2="85.9" stroke="#d080a8" stroke-width="0.7" opacity="0.09"/>
<line x1="382.1" y1="81.4" x2="376.5" y2="75.2" stroke="#d080a8" stroke-width="0.7" opacity="0.10"/>
<line x1="376.5" y1="75.2" x2="372.9" y2="78.4" stroke="#d080a8" stroke-width="0.7" opacity="0.17"/>
<line x1="380.6" y1="86.4" x2="381.2" y2="85.9" stroke="#d080a8" stroke-width="0.7" opacity="0.14"/>
<line x1="365.3" y1="77.6" x2="372.9" y2="78.4" stroke="#d080a8" stroke-width="0.7" opacity="0.12"/>
<line x1="379.3" y1="93.6" x2="380.6" y2="86.4" stroke="#d080a8" stroke-width="0.7" opacity="0.16"/>
<line x1="387.9" y1="77.8" x2="382.1" y2="81.4" stroke="#d080a8" stroke-width="0.7" opacity="0.16"/>
<line x1="381.8" y1="86.2" x2="381.2" y2="85.9" stroke="#d080a8" stroke-width="0.7" opacity="0.18"/>
<line x1="376.2" y1="74.2" x2="376.5" y2="75.2" stroke="#d080a8" stroke-width="0.7" opacity="0.09"/>
<line x1="423.3" y1="38.1" x2="417.4" y2="47.9" stroke="#d080a8" stroke-width="0.7" opacity="0.13"/>
<line x1="403.8" y1="55.3" x2="405.8" y2="53.7" stroke="#d080a8" stroke-width="0.7" opacity="0.14"/>
<line x1="411.1" y1="61.4" x2="421.1" y2="62.0" stroke="#d080a8" stroke-width="0.7" opacity="0.15"/>
<line x1="411.1" y1="61.4" x2="416.0" y2="52.4" stroke="#d080a8" stroke-width="0.7" opacity="0.09"/>
<line x1="420.5" y1="52.2" x2="418.3" y2="50.6" stroke="#d080a8" stroke-width="0.7" opacity="0.10"/>
<line x1="420.5" y1="52.2" x2="423.4" y2="60.8" stroke="#d080a8" stroke-width="0.7" opacity="0.13"/>
<line x1="423.4" y1="60.8" x2="421.1" y2="62.0" stroke="#d080a8" stroke-width="0.7" opacity="0.07"/>
<line x1="416.0" y1="52.4" x2="418.3" y2="50.6" stroke="#d080a8" stroke-width="0.7" opacity="0.10"/>
<line x1="408.6" y1="62.4" x2="411.1" y2="61.4" stroke="#d080a8" stroke-width="0.7" opacity="0.06"/>
<line x1="418.0" y1="68.5" x2="421.1" y2="62.0" stroke="#d080a8" stroke-width="0.7" opacity="0.12"/>
<line x1="405.8" y1="53.7" x2="416.0" y2="52.4" stroke="#d080a8" stroke-width="0.7" opacity="0.19"/>
<line x1="428.4" y1="49.1" x2="420.5" y2="52.2" stroke="#d080a8" stroke-width="0.7" opacity="0.17"/>
<line x1="417.4" y1="47.9" x2="418.3" y2="50.6" stroke="#d080a8" stroke-width="0.7" opacity="0.19"/>
<line x1="427.6" y1="62.5" x2="423.4" y2="60.8" stroke="#d080a8" stroke-width="0.7" opacity="0.07"/>
<line x1="429.2" y1="69.8" x2="425.9" y2="73.6" stroke="#d080a8" stroke-width="0.7" opacity="0.14"/>
<line x1="431.7" y1="107.7" x2="438.9" y2="99.7" stroke="#d080a8" stroke-width="0.7" opacity="0.17"/>
<line x1="426.7" y1="98.7" x2="434.3" y2="95.2" stroke="#d080a8" stroke-width="0.7" opacity="0.16"/>
<line x1="434.3" y1="95.2" x2="438.2" y2="97.7" stroke="#d080a8" stroke-width="0.7" opacity="0.19"/>
<line x1="438.9" y1="99.7" x2="438.2" y2="97.7" stroke="#d080a8" stroke-width="0.7" opacity="0.11"/>
<line x1="438.9" y1="99.7" x2="440.6" y2="101.6" stroke="#d080a8" stroke-width="0.7" opacity="0.20"/>
<line x1="440.6" y1="101.6" x2="447.1" y2="102.8" stroke="#d080a8" stroke-width="0.7" opacity="0.08"/>
<line x1="447.1" y1="102.8" x2="449.4" y2="94.3" stroke="#d080a8" stroke-width="0.7" opacity="0.13"/>
<line x1="444.6" y1="93.1" x2="449.4" y2="94.3" stroke="#d080a8" stroke-width="0.7" opacity="0.08"/>
<line x1="443.8" y1="78.0" x2="443.4" y2="78.6" stroke="#d080a8" stroke-width="0.7" opacity="0.16"/>
<line x1="443.4" y1="78.6" x2="446.0" y2="84.4" stroke="#d080a8" stroke-width="0.7" opacity="0.09"/>
<line x1="429.1" y1="87.6" x2="433.9" y2="92.3" stroke="#d080a8" stroke-width="0.7" opacity="0.13"/>
<line x1="437.4" y1="86.8" x2="436.0" y2="80.6" stroke="#d080a8" stroke-width="0.7" opacity="0.15"/>
<line x1="423.3" y1="88.1" x2="429.1" y2="87.6" stroke="#d080a8" stroke-width="0.7" opacity="0.05"/>
<line x1="434.3" y1="95.2" x2="433.9" y2="92.3" stroke="#d080a8" stroke-width="0.7" opacity="0.18"/>
<line x1="424.3" y1="77.1" x2="430.9" y2="81.7" stroke="#d080a8" stroke-width="0.7" opacity="0.09"/>
<line x1="443.8" y1="87.4" x2="437.4" y2="86.8" stroke="#d080a8" stroke-width="0.7" opacity="0.14"/>
<line x1="436.9" y1="79.4" x2="436.0" y2="80.6" stroke="#d080a8" stroke-width="0.7" opacity="0.18"/>
<line x1="401.7" y1="51.3" x2="401.3" y2="45.9" stroke="#c84090" stroke-width="1.4" opacity="0.49" stroke-linecap="round"/>
<line x1="419.7" y1="51.6" x2="418.5" y2="50.8" stroke="#d86098" stroke-width="1.3" opacity="0.69" stroke-linecap="round"/>
<line x1="435.0" y1="74.2" x2="436.2" y2="77.5" stroke="#d86098" stroke-width="1.1" opacity="0.74" stroke-linecap="round"/>
<line x1="390.3" y1="98.8" x2="390.0" y2="99.0" stroke="#c84090" stroke-width="1.0" opacity="0.54" stroke-linecap="round"/>
<line x1="389.4" y1="97.2" x2="384.8" y2="90.6" stroke="#d86098" stroke-width="1.1" opacity="0.52" stroke-linecap="round"/>
<line x1="372.2" y1="64.0" x2="370.0" y2="60.7" stroke="#d86098" stroke-width="0.8" opacity="0.67" stroke-linecap="round"/>
<line x1="415.1" y1="78.8" x2="413.4" y2="81.0" stroke="#d04888" stroke-width="1.0" opacity="0.49" stroke-linecap="round"/>
<line x1="425.2" y1="77.8" x2="430.0" y2="81.1" stroke="#d86098" stroke-width="1.0" opacity="0.67" stroke-linecap="round"/>
<line x1="381.8" y1="82.8" x2="381.4" y2="85.0" stroke="#d86098" stroke-width="0.8" opacity="0.57" stroke-linecap="round"/>
<line x1="447.7" y1="100.5" x2="448.6" y2="97.2" stroke="#d86098" stroke-width="0.9" opacity="0.80" stroke-linecap="round"/>
<line x1="396.0" y1="42.5" x2="394.7" y2="37.7" stroke="#c84090" stroke-width="1.0" opacity="0.57" stroke-linecap="round"/>
<line x1="439.0" y1="99.8" x2="440.5" y2="101.5" stroke="#c84090" stroke-width="1.0" opacity="0.84" stroke-linecap="round"/>
<line x1="365.3" y1="103.2" x2="369.7" y2="115.8" stroke="#d86098" stroke-width="1.3" opacity="0.69" stroke-linecap="round"/>
<line x1="443.8" y1="78.0" x2="442.7" y2="70.7" stroke="#d86098" stroke-width="0.9" opacity="0.75" stroke-linecap="round"/>
<line x1="421.7" y1="32.6" x2="422.0" y2="34.5" stroke="#d04888" stroke-width="1.3" opacity="0.69" stroke-linecap="round"/>
<line x1="386.6" y1="54.8" x2="393.1" y2="49.9" stroke="#c84090" stroke-width="1.0" opacity="0.63" stroke-linecap="round"/>
<line x1="420.7" y1="52.6" x2="423.1" y2="60.1" stroke="#d86098" stroke-width="1.2" opacity="0.45" stroke-linecap="round"/>
<line x1="427.5" y1="62.5" x2="424.9" y2="61.4" stroke="#d04888" stroke-width="1.1" opacity="0.76" stroke-linecap="round"/>
<line x1="358.8" y1="34.8" x2="361.1" y2="33.7" stroke="#d86098" stroke-width="1.3" opacity="0.71" stroke-linecap="round"/>
<line x1="383.7" y1="45.2" x2="384.4" y2="44.6" stroke="#d04888" stroke-width="1.4" opacity="0.70" stroke-linecap="round"/>
<line x1="403.8" y1="55.5" x2="403.5" y2="58.3" stroke="#d04888" stroke-width="0.9" opacity="0.47" stroke-linecap="round"/>
<line x1="402.4" y1="53.1" x2="403.4" y2="54.6" stroke="#d86098" stroke-width="1.0" opacity="0.71" stroke-linecap="round"/>
<line x1="349.2" y1="52.7" x2="346.0" y2="53.3" stroke="#d04888" stroke-width="1.2" opacity="0.62" stroke-linecap="round"/>
<line x1="361.9" y1="83.7" x2="358.3" y2="87.4" stroke="#c84090" stroke-width="1.1" opacity="0.73" stroke-linecap="round"/>
<line x1="404.6" y1="36.9" x2="405.5" y2="40.4" stroke="#d04888" stroke-width="1.0" opacity="0.50" stroke-linecap="round"/>
<line x1="385.3" y1="56.1" x2="385.2" y2="55.9" stroke="#d86098" stroke-width="1.1" opacity="0.59" stroke-linecap="round"/>
<line x1="360.1" y1="29.2" x2="361.4" y2="33.5" stroke="#d04888" stroke-width="1.1" opacity="0.53" stroke-linecap="round"/>
<line x1="410.6" y1="41.4" x2="414.0" y2="36.9" stroke="#c84090" stroke-width="1.2" opacity="0.49" stroke-linecap="round"/>
<circle cx="380.3" cy="101.4" r="0.8" fill="#e0b0c8" opacity="0.6"/>
<circle cx="392.5" cy="65.3" r="0.7" fill="#d090b0" opacity="0.6"/>
<circle cx="412.0" cy="99.0" r="0.6" fill="#d090b0" opacity="0.6"/>
<circle cx="400.3" cy="72.6" r="0.8" fill="#c8d8d0" opacity="0.6"/>
<circle cx="362.3" cy="58.4" r="0.8" fill="#d8a0bc" opacity="0.6"/>
<circle cx="411.0" cy="99.4" r="0.8" fill="#d090b0" opacity="0.6"/>
<circle cx="412.4" cy="89.0" r="0.9" fill="#c8d8d0" opacity="0.6"/>
<circle cx="362.7" cy="69.2" r="0.9" fill="#d8a0bc" opacity="0.6"/>
<circle cx="349.6" cy="59.9" r="0.7" fill="#e0b0c8" opacity="0.6"/>
<circle cx="385.6" cy="31.6" r="0.9" fill="#e0b0c8" opacity="0.6"/>
<circle cx="435.6" cy="79.1" r="0.7" fill="#c8d8d0" opacity="0.6"/>
<circle cx="355.2" cy="70.0" r="0.5" fill="#e0b0c8" opacity="0.6"/>
<circle cx="404.5" cy="68.3" r="0.5" fill="#d090b0" opacity="0.6"/>
<circle cx="351.7" cy="68.5" r="0.8" fill="#e0b0c8" opacity="0.6"/>
<circle cx="414.7" cy="78.5" r="0.5" fill="#d8a0bc" opacity="0.6"/>
<circle cx="423.3" cy="39.8" r="0.6" fill="#d8a0bc" opacity="0.6"/>
<circle cx="402.0" cy="77.6" r="0.4" fill="#d090b0" opacity="0.6"/>
<circle cx="398.0" cy="87.5" r="0.9" fill="#d8a0bc" opacity="0.6"/>
<circle cx="378.0" cy="51.3" r="0.5" fill="#d090b0" opacity="0.6"/>
<circle cx="360.7" cy="71.9" r="0.8" fill="#c8d8d0" opacity="0.6"/>
<circle cx="409.4" cy="103.0" r="0.7" fill="#d090b0" opacity="0.6"/>
<circle cx="415.5" cy="81.8" r="0.6" fill="#e0b0c8" opacity="0.6"/>
<circle cx="374.8" cy="98.4" r="0.7" fill="#c8d8d0" opacity="0.6"/>
<circle cx="429.6" cy="87.7" r="0.8" fill="#d8a0bc" opacity="0.6"/>
<circle cx="380.3" cy="41.5" r="0.5" fill="#c8d8d0" opacity="0.6"/>
<circle cx="385.0" cy="72.1" r="0.5" fill="#d8a0bc" opacity="0.6"/>
<circle cx="360.4" cy="49.5" r="0.4" fill="#e0b0c8" opacity="0.6"/>
<circle cx="403.9" cy="76.0" r="0.8" fill="#d090b0" opacity="0.6"/>
<circle cx="371.0" cy="41.3" r="0.6" fill="#d090b0" opacity="0.6"/>
<circle cx="366.8" cy="76.5" r="0.5" fill="#d8a0bc" opacity="0.6"/>
<circle cx="412.4" cy="33.4" r="0.6" fill="#d090b0" opacity="0.6"/>
<circle cx="413.9" cy="74.0" r="0.7" fill="#e0b0c8" opacity="0.6"/>
<circle cx="400.7" cy="98.3" r="0.5" fill="#d090b0" opacity="0.6"/>
<circle cx="367.4" cy="83.2" r="0.6" fill="#d090b0" opacity="0.6"/>
<circle cx="429.0" cy="47.5" r="0.6" fill="#e0b0c8" opacity="0.6"/>
<circle cx="399.6" cy="37.6" r="0.5" fill="#c8d8d0" opacity="0.6"/>
<circle cx="392.7" cy="52.2" r="0.7" fill="#d8a0bc" opacity="0.6"/>
<circle cx="420.9" cy="49.7" r="0.4" fill="#d8a0bc" opacity="0.6"/>
<circle cx="423.4" cy="42.8" r="0.9" fill="#e0b0c8" opacity="0.6"/>
<circle cx="408.7" cy="38.7" r="0.7" fill="#d090b0" opacity="0.6"/>
<circle cx="371.6" cy="46.2" r="0.5" fill="#d090b0" opacity="0.6"/>
<circle cx="435.5" cy="82.4" r="0.7" fill="#d090b0" opacity="0.6"/>
<circle cx="397.9" cy="90.1" r="0.8" fill="#c8d8d0" opacity="0.6"/>
<circle cx="417.3" cy="89.7" r="0.7" fill="#d090b0" opacity="0.6"/>
<circle cx="400.6" cy="47.9" r="0.7" fill="#d8a0bc" opacity="0.6"/>
<circle cx="412.8" cy="97.9" r="0.8" fill="#e0b0c8" opacity="0.6"/>
<circle cx="441.5" cy="86.9" r="0.6" fill="#d090b0" opacity="0.6"/>
<circle cx="395.6" cy="79.7" r="0.5" fill="#e0b0c8" opacity="0.6"/>
<circle cx="349.3" cy="85.8" r="0.5" fill="#d090b0" opacity="0.6"/>
<circle cx="427.5" cy="70.2" r="0.9" fill="#c8d8d0" opacity="0.6"/>
<circle cx="356.9" cy="80.3" r="0.8" fill="#d8a0bc" opacity="0.6"/>
<circle cx="428.5" cy="44.9" r="0.7" fill="#e0b0c8" opacity="0.6"/>
<circle cx="366.2" cy="68.1" r="0.5" fill="#c8d8d0" opacity="0.6"/>
<circle cx="382.6" cy="94.7" r="0.6" fill="#d8a0bc" opacity="0.6"/>
<circle cx="352.8" cy="34.4" r="0.8" fill="#e0b0c8" opacity="0.6"/>
<circle cx="430.4" cy="99.1" r="0.4" fill="#d090b0" opacity="0.6"/>
<circle cx="396.3" cy="102.9" r="0.4" fill="#d090b0" opacity="0.6"/>
<circle cx="386.5" cy="68.2" r="0.6" fill="#c8d8d0" opacity="0.6"/>
<circle cx="435.5" cy="65.3" r="0.7" fill="#d8a0bc" opacity="0.6"/>
<circle cx="435.9" cy="65.7" r="0.6" fill="#d090b0" opacity="0.6"/>
<circle cx="420.3" cy="88.8" r="0.4" fill="#c8d8d0" opacity="0.6"/>
<circle cx="406.6" cy="88.5" r="0.6" fill="#c8d8d0" opacity="0.6"/>
<circle cx="444.5" cy="88.5" r="0.4" fill="#d8a0bc" opacity="0.6"/>
<circle cx="399.1" cy="38.5" r="0.6" fill="#c8d8d0" opacity="0.6"/>
<circle cx="383.5" cy="71.1" r="0.7" fill="#c8d8d0" opacity="0.6"/>
<circle cx="394.7" cy="77.1" r="0.6" fill="#d090b0" opacity="0.6"/>
<circle cx="436.8" cy="70.6" r="0.9" fill="#e0b0c8" opacity="0.6"/>
<circle cx="382.7" cy="41.8" r="0.7" fill="#e0b0c8" opacity="0.6"/>
<circle cx="386.9" cy="94.0" r="0.8" fill="#d090b0" opacity="0.6"/>
<circle cx="444.2" cy="92.9" r="0.4" fill="#c8d8d0" opacity="0.6"/>
<circle cx="353.9" cy="76.9" r="0.8" fill="#c8d8d0" opacity="0.6"/>
<circle cx="386.2" cy="51.8" r="0.4" fill="#d8a0bc" opacity="0.6"/>
<circle cx="364.3" cy="99.0" r="0.6" fill="#c8d8d0" opacity="0.6"/>
<circle cx="360.0" cy="71.1" r="0.5" fill="#c8d8d0" opacity="0.6"/>
<circle cx="357.4" cy="83.5" r="0.8" fill="#d8a0bc" opacity="0.6"/>
<circle cx="377.0" cy="94.4" r="0.8" fill="#e0b0c8" opacity="0.6"/>
<circle cx="355.1" cy="54.0" r="0.8" fill="#c8d8d0" opacity="0.6"/>
<circle cx="360.7" cy="63.2" r="0.8" fill="#c8d8d0" opacity="0.6"/>
<circle cx="351.4" cy="102.8" r="0.8" fill="#d090b0" opacity="0.6"/>
<circle cx="433.6" cy="34.1" r="0.5" fill="#d090b0" opacity="0.6"/>
<circle cx="435.2" cy="48.1" r="0.9" fill="#e0b0c8" opacity="0.6"/>
<circle cx="396.8" cy="83.4" r="0.5" fill="#d090b0" opacity="0.6"/>
<circle cx="353.2" cy="100.9" r="0.9" fill="#c8d8d0" opacity="0.6"/>
<circle cx="407.3" cy="56.9" r="0.4" fill="#d8a0bc" opacity="0.6"/>
<circle cx="395.1" cy="43.1" r="0.4" fill="#d8a0bc" opacity="0.6"/>
<circle cx="421.8" cy="37.3" r="0.4" fill="#e0b0c8" opacity="0.6"/>
<circle cx="398.9" cy="46.4" r="0.5" fill="#c8d8d0" opacity="0.6"/>
<circle cx="396.8" cy="54.7" r="0.5" fill="#d8a0bc" opacity="0.6"/>
<circle cx="365.4" cy="80.8" r="0.9" fill="#c8d8d0" opacity="0.6"/>
<circle cx="404.1" cy="75.6" r="0.4" fill="#c8d8d0" opacity="0.6"/>
<circle cx="349.8" cy="38.8" r="0.8" fill="#d090b0" opacity="0.6"/>
<circle cx="404.2" cy="55.7" r="0.5" fill="#d090b0" opacity="0.6"/>
<circle cx="397.6" cy="67.0" r="0.7" fill="#d090b0" opacity="0.6"/>
<circle cx="419.3" cy="96.7" r="0.7" fill="#d090b0" opacity="0.6"/>
<circle cx="363.8" cy="50.6" r="0.7" fill="#c8d8d0" opacity="0.6"/>
<circle cx="425.8" cy="75.2" r="0.5" fill="#c8d8d0" opacity="0.6"/>
<circle cx="349.2" cy="86.0" r="0.6" fill="#d090b0" opacity="0.6"/>
<circle cx="382.2" cy="68.0" r="0.7" fill="#e0b0c8" opacity="0.6"/>
<circle cx="437.4" cy="81.6" r="0.6" fill="#e0b0c8" opacity="0.6"/>
<circle cx="390.1" cy="77.7" r="0.8" fill="#c8d8d0" opacity="0.6"/>
<circle cx="436.4" cy="49.7" r="0.6" fill="#d8a0bc" opacity="0.6"/>
<circle cx="349.2" cy="55.7" r="0.5" fill="#d8a0bc" opacity="0.6"/>
<circle cx="355.7" cy="39.9" r="0.5" fill="#d8a0bc" opacity="0.6"/>
<circle cx="414.7" cy="100.7" r="0.5" fill="#c8d8d0" opacity="0.6"/>
<circle cx="441.0" cy="81.9" r="0.8" fill="#e0b0c8" opacity="0.6"/>
<circle cx="421.1" cy="85.5" r="0.6" fill="#c8d8d0" opacity="0.6"/>
<circle cx="384.4" cy="98.3" r="0.8" fill="#d090b0" opacity="0.6"/>
<circle cx="430.8" cy="99.3" r="0.9" fill="#d090b0" opacity="0.6"/>
<circle cx="406.6" cy="75.9" r="0.5" fill="#e0b0c8" opacity="0.6"/>
<circle cx="386.0" cy="46.4" r="0.8" fill="#e0b0c8" opacity="0.6"/>
<circle cx="376.8" cy="83.2" r="0.4" fill="#c8d8d0" opacity="0.6"/>
<circle cx="416.0" cy="53.4" r="0.5" fill="#d090b0" opacity="0.6"/>
<circle cx="362.0" cy="103.0" r="0.7" fill="#d090b0" opacity="0.6"/>
<circle cx="432.4" cy="68.4" r="0.9" fill="#c8d8d0" opacity="0.6"/>
<circle cx="358.6" cy="78.0" r="0.6" fill="#c8d8d0" opacity="0.6"/>
<circle cx="429.3" cy="85.7" r="0.5" fill="#d090b0" opacity="0.6"/>
<circle cx="369.2" cy="75.0" r="0.6" fill="#c8d8d0" opacity="0.6"/>
<circle cx="423.7" cy="35.1" r="0.5" fill="#e0b0c8" opacity="0.6"/>
<circle cx="437.1" cy="102.0" r="0.5" fill="#d8a0bc" opacity="0.6"/>
<circle cx="412.9" cy="61.8" r="0.4" fill="#d8a0bc" opacity="0.6"/>
<circle cx="348.7" cy="70.1" r="0.8" fill="#c8d8d0" opacity="0.6"/>
<circle cx="407.0" cy="71.7" r="0.5" fill="#d090b0" opacity="0.6"/>
<circle cx="376.4" cy="71.1" r="0.8" fill="#c8d8d0" opacity="0.6"/>
<circle cx="365.5" cy="59.5" r="0.5" fill="#d8a0bc" opacity="0.6"/>
<circle cx="401.6" cy="64.0" r="0.6" fill="#c8d8d0" opacity="0.6"/>
<circle cx="359.4" cy="71.9" r="0.8" fill="#d8a0bc" opacity="0.6"/>
<circle cx="368.9" cy="44.0" r="0.4" fill="#d8a0bc" opacity="0.6"/>
<circle cx="378.2" cy="83.8" r="0.8" fill="#d8a0bc" opacity="0.6"/>
<circle cx="362.3" cy="34.3" r="0.9" fill="#c8d8d0" opacity="0.6"/>
<circle cx="353.4" cy="37.7" r="0.8" fill="#e0b0c8" opacity="0.6"/>
<circle cx="412.1" cy="39.8" r="0.4" fill="#e0b0c8" opacity="0.6"/>
<circle cx="418.3" cy="37.5" r="0.9" fill="#e0b0c8" opacity="0.6"/>
<circle cx="416.9" cy="69.4" r="0.8" fill="#e0b0c8" opacity="0.6"/>
<circle cx="417.9" cy="86.6" r="0.6" fill="#c8d8d0" opacity="0.6"/>
<circle cx="391.8" cy="94.5" r="0.8" fill="#d090b0" opacity="0.6"/>
<circle cx="385.2" cy="62.0" r="0.8" fill="#e0b0c8" opacity="0.6"/>
<circle cx="395.2" cy="56.1" r="0.7" fill="#e0b0c8" opacity="0.6"/>
<circle cx="358.8" cy="36.4" r="0.8" fill="#d090b0" opacity="0.6"/>
<circle cx="399.3" cy="97.9" r="0.8" fill="#c8d8d0" opacity="0.6"/>
<circle cx="383.7" cy="64.2" r="0.6" fill="#c8d8d0" opacity="0.6"/>
<circle cx="440.5" cy="68.2" r="0.5" fill="#c8d8d0" opacity="0.6"/>
<circle cx="364.1" cy="72.2" r="0.5" fill="#e0b0c8" opacity="0.6"/>
<circle cx="410.2" cy="42.2" r="0.4" fill="#e0b0c8" opacity="0.6"/>
<circle cx="407.0" cy="48.2" r="0.5" fill="#c8d8d0" opacity="0.6"/>
<circle cx="430.7" cy="53.6" r="0.5" fill="#d090b0" opacity="0.6"/>
<circle cx="382.0" cy="63.8" r="0.8" fill="#d8a0bc" opacity="0.6"/>
<circle cx="414.1" cy="36.2" r="0.6" fill="#e0b0c8" opacity="0.6"/>
<circle cx="351.2" cy="34.6" r="0.7" fill="#e0b0c8" opacity="0.6"/>
<circle cx="419.0" cy="57.7" r="0.8" fill="#c8d8d0" opacity="0.6"/>
<circle cx="423.5" cy="76.6" r="0.6" fill="#c8d8d0" opacity="0.6"/>
<circle cx="359.5" cy="99.9" r="0.9" fill="#d8a0bc" opacity="0.6"/>
<circle cx="433.5" cy="82.7" r="0.4" fill="#e0b0c8" opacity="0.6"/>
<circle cx="428.9" cy="53.2" r="0.5" fill="#d090b0" opacity="0.6"/>
<circle cx="422.6" cy="48.0" r="0.7" fill="#c8d8d0" opacity="0.6"/>
<circle cx="348.5" cy="38.2" r="0.5" fill="#e0b0c8" opacity="0.6"/>
<circle cx="396.8" cy="50.5" r="0.5" fill="#e0b0c8" opacity="0.6"/>
<circle cx="377.9" cy="68.2" r="0.8" fill="#d090b0" opacity="0.6"/>
<circle cx="390.3" cy="68.3" r="0.7" fill="#e0b0c8" opacity="0.6"/>
<circle cx="382.2" cy="62.6" r="0.5" fill="#d8a0bc" opacity="0.6"/>
<circle cx="370.0" cy="41.5" r="0.4" fill="#e0b0c8" opacity="0.6"/>
<ellipse cx="364.1" cy="93.6" rx="1.0" ry="0.7" fill="#b0308a" opacity="0.85"/>
<ellipse cx="437.4" cy="86.8" rx="1.1" ry="0.8" fill="#6a3a9a" opacity="0.85"/>
<ellipse cx="385.2" cy="55.8" rx="1.1" ry="0.8" fill="#6a3a9a" opacity="0.85"/>
<ellipse cx="426.7" cy="98.7" rx="0.7" ry="0.7" fill="#6a3a9a" opacity="0.85"/>
<ellipse cx="393.8" cy="50.2" rx="1.2" ry="0.7" fill="#c03880" opacity="0.85"/>
<ellipse cx="381.2" cy="85.9" rx="1.0" ry="0.7" fill="#d05a98" opacity="0.85"/>
<ellipse cx="421.1" cy="62.0" rx="1.3" ry="0.5" fill="#6a3a9a" opacity="0.85"/>
<ellipse cx="413.8" cy="93.9" rx="0.7" ry="0.7" fill="#c83c88" opacity="0.85"/>
<ellipse cx="403.8" cy="55.3" rx="0.9" ry="0.7" fill="#d05a98" opacity="0.85"/>
<ellipse cx="386.3" cy="36.1" rx="1.3" ry="0.5" fill="#c03880" opacity="0.85"/>
<ellipse cx="425.9" cy="73.6" rx="1.4" ry="0.7" fill="#b0308a" opacity="0.85"/>
<ellipse cx="438.0" cy="51.8" rx="0.9" ry="0.9" fill="#d05a98" opacity="0.85"/>
<ellipse cx="433.9" cy="71.5" rx="1.3" ry="0.6" fill="#b0308a" opacity="0.85"/>
<ellipse cx="395.2" cy="73.5" rx="1.0" ry="0.8" fill="#c83c88" opacity="0.85"/>
<ellipse cx="404.9" cy="77.7" rx="1.4" ry="0.7" fill="#c83c88" opacity="0.85"/>
<ellipse cx="429.2" cy="69.8" rx="1.3" ry="0.7" fill="#d05a98" opacity="0.85"/>
<ellipse cx="363.6" cy="101.5" rx="0.9" ry="0.8" fill="#c83c88" opacity="0.85"/>
<ellipse cx="407.2" cy="99.0" rx="1.3" ry="0.7" fill="#6a3a9a" opacity="0.85"/>
<ellipse cx="348.1" cy="73.8" rx="0.7" ry="0.7" fill="#c03880" opacity="0.85"/>
<ellipse cx="385.3" cy="56.1" rx="1.3" ry="0.7" fill="#d05a98" opacity="0.85"/>
<ellipse cx="394.6" cy="37.4" rx="1.0" ry="0.6" fill="#d05a98" opacity="0.85"/>
<ellipse cx="438.2" cy="97.7" rx="1.4" ry="0.7" fill="#6a3a9a" opacity="0.85"/>
<ellipse cx="414.1" cy="36.8" rx="1.2" ry="0.9" fill="#b0308a" opacity="0.85"/>
<ellipse cx="437.2" cy="43.4" rx="1.1" ry="0.6" fill="#d05a98" opacity="0.85"/>
<ellipse cx="369.4" cy="52.7" rx="0.9" ry="0.7" fill="#c83c88" opacity="0.85"/>
<ellipse cx="363.6" cy="82.9" rx="1.0" ry="0.9" fill="#6a3a9a" opacity="0.85"/>
<ellipse cx="369.2" cy="101.0" rx="0.6" ry="0.7" fill="#d05a98" opacity="0.85"/>
<ellipse cx="361.8" cy="68.9" rx="0.8" ry="0.8" fill="#d05a98" opacity="0.85"/>
<ellipse cx="365.3" cy="77.6" rx="0.9" ry="0.8" fill="#c03880" opacity="0.85"/>
<ellipse cx="376.2" cy="74.2" rx="0.7" ry="0.7" fill="#6a3a9a" opacity="0.85"/>
<ellipse cx="423.4" cy="77.6" rx="0.7" ry="0.5" fill="#d05a98" opacity="0.85"/>
<ellipse cx="352.3" cy="44.1" rx="1.0" ry="0.6" fill="#c83c88" opacity="0.85"/>
<ellipse cx="393.3" cy="49.7" rx="1.4" ry="0.7" fill="#d05a98" opacity="0.85"/>
<ellipse cx="437.5" cy="69.8" rx="1.2" ry="0.6" fill="#6a3a9a" opacity="0.85"/>
<ellipse cx="401.8" cy="52.2" rx="1.2" ry="0.6" fill="#c03880" opacity="0.85"/>
<ellipse cx="357.8" cy="87.9" rx="1.3" ry="0.9" fill="#d05a98" opacity="0.85"/>
</g>
<rect x="436.6" y="101.0" width="6" height="1.5" fill="#f4f4f4"/>
<rect x="448" y="30.8" width="96.3" height="72.8" fill="#cdcbc8"/>
<clipPath id="cpB2"><rect x="448" y="30.8" width="96.3" height="72.8"/></clipPath><g clip-path="url(#cpB2)">
<line x1="449.4" y1="73.0" x2="443.0" y2="74.3" stroke="#d080a8" stroke-width="0.7" opacity="0.12"/>
<line x1="449.4" y1="73.0" x2="449.9" y2="67.1" stroke="#d080a8" stroke-width="0.7" opacity="0.09"/>
<line x1="449.9" y1="67.1" x2="446.4" y2="62.9" stroke="#d080a8" stroke-width="0.7" opacity="0.12"/>
<line x1="487.0" y1="106.3" x2="494.4" y2="101.6" stroke="#d080a8" stroke-width="0.7" opacity="0.17"/>
<line x1="446.4" y1="62.9" x2="446.0" y2="58.4" stroke="#d080a8" stroke-width="0.7" opacity="0.18"/>
<line x1="464.1" y1="50.3" x2="463.0" y2="52.8" stroke="#d080a8" stroke-width="0.7" opacity="0.09"/>
<line x1="478.8" y1="55.5" x2="475.9" y2="50.3" stroke="#d080a8" stroke-width="0.7" opacity="0.15"/>
<line x1="478.8" y1="55.5" x2="466.7" y2="59.4" stroke="#d080a8" stroke-width="0.7" opacity="0.14"/>
<line x1="463.0" y1="52.8" x2="466.7" y2="59.4" stroke="#d080a8" stroke-width="0.7" opacity="0.06"/>
<line x1="449.9" y1="67.1" x2="458.1" y2="65.0" stroke="#d080a8" stroke-width="0.7" opacity="0.20"/>
<line x1="454.7" y1="55.6" x2="458.1" y2="65.0" stroke="#d080a8" stroke-width="0.7" opacity="0.06"/>
<line x1="448.9" y1="38.4" x2="447.0" y2="45.2" stroke="#d080a8" stroke-width="0.7" opacity="0.20"/>
<line x1="464.1" y1="50.3" x2="458.9" y2="43.0" stroke="#d080a8" stroke-width="0.7" opacity="0.07"/>
<line x1="458.9" y1="43.0" x2="452.8" y2="48.4" stroke="#d080a8" stroke-width="0.7" opacity="0.15"/>
<line x1="455.2" y1="54.9" x2="454.7" y2="55.6" stroke="#d080a8" stroke-width="0.7" opacity="0.13"/>
<line x1="466.7" y1="59.4" x2="465.3" y2="66.9" stroke="#d080a8" stroke-width="0.7" opacity="0.19"/>
<line x1="458.1" y1="65.0" x2="464.0" y2="68.0" stroke="#d080a8" stroke-width="0.7" opacity="0.06"/>
<line x1="464.0" y1="68.0" x2="465.3" y2="66.9" stroke="#d080a8" stroke-width="0.7" opacity="0.16"/>
<line x1="451.2" y1="74.7" x2="449.7" y2="84.2" stroke="#d080a8" stroke-width="0.7" opacity="0.12"/>
<line x1="467.4" y1="82.4" x2="464.9" y2="74.6" stroke="#d080a8" stroke-width="0.7" opacity="0.11"/>
<line x1="467.4" y1="82.4" x2="465.2" y2="85.9" stroke="#d080a8" stroke-width="0.7" opacity="0.17"/>
<line x1="465.2" y1="85.9" x2="456.8" y2="83.2" stroke="#d080a8" stroke-width="0.7" opacity="0.07"/>
<line x1="456.8" y1="83.2" x2="458.3" y2="75.0" stroke="#d080a8" stroke-width="0.7" opacity="0.05"/>
<line x1="458.3" y1="75.0" x2="463.4" y2="72.4" stroke="#d080a8" stroke-width="0.7" opacity="0.18"/>
<line x1="451.2" y1="74.7" x2="458.3" y2="75.0" stroke="#d080a8" stroke-width="0.7" opacity="0.12"/>
<line x1="449.7" y1="84.2" x2="451.0" y2="86.1" stroke="#d080a8" stroke-width="0.7" opacity="0.16"/>
<line x1="451.0" y1="86.1" x2="456.8" y2="83.2" stroke="#d080a8" stroke-width="0.7" opacity="0.16"/>
<line x1="464.0" y1="68.0" x2="463.4" y2="72.4" stroke="#d080a8" stroke-width="0.7" opacity="0.19"/>
<line x1="497.2" y1="66.6" x2="489.7" y2="68.0" stroke="#d080a8" stroke-width="0.7" opacity="0.16"/>
<line x1="497.2" y1="66.6" x2="502.5" y2="77.3" stroke="#d080a8" stroke-width="0.7" opacity="0.16"/>
<line x1="490.0" y1="76.1" x2="489.7" y2="68.0" stroke="#d080a8" stroke-width="0.7" opacity="0.08"/>
<line x1="490.0" y1="76.1" x2="502.2" y2="77.7" stroke="#d080a8" stroke-width="0.7" opacity="0.11"/>
<line x1="502.5" y1="77.3" x2="502.2" y2="77.7" stroke="#d080a8" stroke-width="0.7" opacity="0.20"/>
<line x1="548.5" y1="60.8" x2="548.7" y2="57.1" stroke="#d080a8" stroke-width="0.7" opacity="0.05"/>
<line x1="548.5" y1="60.8" x2="552.0" y2="63.5" stroke="#d080a8" stroke-width="0.7" opacity="0.16"/>
<line x1="548.7" y1="57.1" x2="552.4" y2="50.1" stroke="#d080a8" stroke-width="0.7" opacity="0.15"/>
<line x1="448.9" y1="38.4" x2="455.6" y2="35.7" stroke="#d080a8" stroke-width="0.7" opacity="0.05"/>
<line x1="451.3" y1="26.8" x2="455.6" y2="35.7" stroke="#d080a8" stroke-width="0.7" opacity="0.16"/>
<line x1="469.2" y1="47.6" x2="469.6" y2="36.4" stroke="#d080a8" stroke-width="0.7" opacity="0.19"/>
<line x1="469.6" y1="36.4" x2="462.1" y2="34.5" stroke="#d080a8" stroke-width="0.7" opacity="0.07"/>
<line x1="458.9" y1="43.0" x2="458.5" y2="36.2" stroke="#d080a8" stroke-width="0.7" opacity="0.17"/>
<line x1="455.6" y1="35.7" x2="458.5" y2="36.2" stroke="#d080a8" stroke-width="0.7" opacity="0.14"/>
<line x1="542.6" y1="30.5" x2="541.8" y2="28.4" stroke="#d080a8" stroke-width="0.7" opacity="0.07"/>
<line x1="541.8" y1="28.4" x2="546.1" y2="23.6" stroke="#d080a8" stroke-width="0.7" opacity="0.12"/>
<line x1="494.5" y1="101.5" x2="494.4" y2="101.6" stroke="#d080a8" stroke-width="0.7" opacity="0.12"/>
<line x1="506.1" y1="107.7" x2="500.4" y2="103.0" stroke="#d080a8" stroke-width="0.7" opacity="0.06"/>
<line x1="465.3" y1="66.9" x2="476.8" y2="67.2" stroke="#d080a8" stroke-width="0.7" opacity="0.18"/>
<line x1="479.2" y1="55.8" x2="476.8" y2="67.2" stroke="#d080a8" stroke-width="0.7" opacity="0.16"/>
<line x1="444.4" y1="93.7" x2="448.7" y2="105.1" stroke="#d080a8" stroke-width="0.7" opacity="0.15"/>
<line x1="451.0" y1="86.1" x2="450.8" y2="89.3" stroke="#d080a8" stroke-width="0.7" opacity="0.09"/>
<line x1="450.8" y1="89.3" x2="444.4" y2="93.7" stroke="#d080a8" stroke-width="0.7" opacity="0.05"/>
<line x1="449.9" y1="105.4" x2="480.4" y2="290.1" stroke="#d080a8" stroke-width="0.7" opacity="0.08"/>
<line x1="532.1" y1="93.5" x2="536.5" y2="103.1" stroke="#d080a8" stroke-width="0.7" opacity="0.17"/>
<line x1="532.1" y1="93.5" x2="544.5" y2="98.0" stroke="#d080a8" stroke-width="0.7" opacity="0.15"/>
<line x1="536.5" y1="103.1" x2="544.4" y2="102.6" stroke="#d080a8" stroke-width="0.7" opacity="0.18"/>
<line x1="530.8" y1="108.0" x2="537.7" y2="119.1" stroke="#d080a8" stroke-width="0.7" opacity="0.12"/>
<line x1="544.9" y1="62.8" x2="542.1" y2="74.3" stroke="#d080a8" stroke-width="0.7" opacity="0.20"/>
<line x1="546.9" y1="77.8" x2="542.1" y2="74.3" stroke="#d080a8" stroke-width="0.7" opacity="0.13"/>
<line x1="530.7" y1="71.0" x2="534.3" y2="74.3" stroke="#d080a8" stroke-width="0.7" opacity="0.12"/>
<line x1="530.7" y1="71.0" x2="521.5" y2="77.2" stroke="#d080a8" stroke-width="0.7" opacity="0.10"/>
<line x1="521.5" y1="77.2" x2="531.5" y2="88.5" stroke="#d080a8" stroke-width="0.7" opacity="0.12"/>
<line x1="531.5" y1="88.5" x2="533.1" y2="86.9" stroke="#d080a8" stroke-width="0.7" opacity="0.19"/>
<line x1="530.7" y1="71.0" x2="530.7" y2="70.7" stroke="#d080a8" stroke-width="0.7" opacity="0.10"/>
<line x1="544.9" y1="62.8" x2="535.0" y2="61.7" stroke="#d080a8" stroke-width="0.7" opacity="0.17"/>
<line x1="542.1" y1="74.3" x2="534.3" y2="74.3" stroke="#d080a8" stroke-width="0.7" opacity="0.11"/>
<line x1="530.7" y1="70.7" x2="535.0" y2="61.7" stroke="#d080a8" stroke-width="0.7" opacity="0.06"/>
<line x1="548.7" y1="57.1" x2="538.6" y2="52.2" stroke="#d080a8" stroke-width="0.7" opacity="0.11"/>
<line x1="538.6" y1="52.2" x2="534.5" y2="60.4" stroke="#d080a8" stroke-width="0.7" opacity="0.18"/>
<line x1="534.5" y1="60.4" x2="535.0" y2="61.7" stroke="#d080a8" stroke-width="0.7" opacity="0.14"/>
<line x1="488.7" y1="67.2" x2="478.5" y2="69.2" stroke="#d080a8" stroke-width="0.7" opacity="0.08"/>
<line x1="488.7" y1="67.2" x2="486.9" y2="56.2" stroke="#d080a8" stroke-width="0.7" opacity="0.08"/>
<line x1="476.8" y1="67.2" x2="478.5" y2="69.2" stroke="#d080a8" stroke-width="0.7" opacity="0.07"/>
<line x1="486.9" y1="56.2" x2="486.2" y2="55.5" stroke="#d080a8" stroke-width="0.7" opacity="0.11"/>
<line x1="488.9" y1="77.2" x2="478.4" y2="73.0" stroke="#d080a8" stroke-width="0.7" opacity="0.10"/>
<line x1="487.4" y1="81.9" x2="483.6" y2="84.5" stroke="#d080a8" stroke-width="0.7" opacity="0.07"/>
<line x1="483.6" y1="84.5" x2="477.0" y2="81.3" stroke="#d080a8" stroke-width="0.7" opacity="0.09"/>
<line x1="477.0" y1="81.3" x2="477.6" y2="74.6" stroke="#d080a8" stroke-width="0.7" opacity="0.19"/>
<line x1="477.6" y1="74.6" x2="478.4" y2="73.0" stroke="#d080a8" stroke-width="0.7" opacity="0.15"/>
<line x1="490.0" y1="76.1" x2="488.9" y2="77.2" stroke="#d080a8" stroke-width="0.7" opacity="0.10"/>
<line x1="501.2" y1="82.7" x2="496.6" y2="87.8" stroke="#d080a8" stroke-width="0.7" opacity="0.11"/>
<line x1="496.6" y1="87.8" x2="487.4" y2="81.9" stroke="#d080a8" stroke-width="0.7" opacity="0.17"/>
<line x1="494.8" y1="94.5" x2="495.8" y2="93.5" stroke="#d080a8" stroke-width="0.7" opacity="0.14"/>
<line x1="495.8" y1="93.5" x2="496.6" y2="87.8" stroke="#d080a8" stroke-width="0.7" opacity="0.17"/>
<line x1="483.5" y1="92.2" x2="483.6" y2="84.5" stroke="#d080a8" stroke-width="0.7" opacity="0.18"/>
<line x1="467.4" y1="82.4" x2="474.3" y2="82.6" stroke="#d080a8" stroke-width="0.7" opacity="0.13"/>
<line x1="464.9" y1="74.6" x2="477.6" y2="74.6" stroke="#d080a8" stroke-width="0.7" opacity="0.19"/>
<line x1="474.3" y1="82.6" x2="477.0" y2="81.3" stroke="#d080a8" stroke-width="0.7" opacity="0.16"/>
<line x1="487.0" y1="106.3" x2="482.6" y2="103.3" stroke="#d080a8" stroke-width="0.7" opacity="0.19"/>
<line x1="483.5" y1="92.2" x2="479.5" y2="95.9" stroke="#d080a8" stroke-width="0.7" opacity="0.20"/>
<line x1="475.3" y1="95.4" x2="479.5" y2="95.9" stroke="#d080a8" stroke-width="0.7" opacity="0.15"/>
<line x1="494.5" y1="101.5" x2="494.8" y2="94.5" stroke="#d080a8" stroke-width="0.7" opacity="0.11"/>
<line x1="458.3" y1="102.8" x2="460.5" y2="104.9" stroke="#d080a8" stroke-width="0.7" opacity="0.10"/>
<line x1="458.3" y1="102.8" x2="459.2" y2="95.8" stroke="#d080a8" stroke-width="0.7" opacity="0.18"/>
<line x1="459.2" y1="95.8" x2="464.8" y2="91.5" stroke="#d080a8" stroke-width="0.7" opacity="0.07"/>
<line x1="464.8" y1="91.5" x2="474.2" y2="95.7" stroke="#d080a8" stroke-width="0.7" opacity="0.10"/>
<line x1="449.9" y1="105.4" x2="458.3" y2="102.8" stroke="#d080a8" stroke-width="0.7" opacity="0.18"/>
<line x1="450.8" y1="89.3" x2="459.2" y2="95.8" stroke="#d080a8" stroke-width="0.7" opacity="0.12"/>
<line x1="465.2" y1="85.9" x2="464.8" y2="91.5" stroke="#d080a8" stroke-width="0.7" opacity="0.09"/>
<line x1="475.3" y1="95.4" x2="474.2" y2="95.7" stroke="#d080a8" stroke-width="0.7" opacity="0.11"/>
<line x1="511.3" y1="104.9" x2="518.6" y2="107.8" stroke="#d080a8" stroke-width="0.7" opacity="0.07"/>
<line x1="530.8" y1="108.0" x2="524.1" y2="104.0" stroke="#d080a8" stroke-width="0.7" opacity="0.19"/>
<line x1="544.9" y1="97.4" x2="553.7" y2="92.6" stroke="#d080a8" stroke-width="0.7" opacity="0.09"/>
<line x1="546.9" y1="77.8" x2="546.3" y2="83.0" stroke="#d080a8" stroke-width="0.7" opacity="0.09"/>
<line x1="544.5" y1="98.0" x2="544.9" y2="97.4" stroke="#d080a8" stroke-width="0.7" opacity="0.10"/>
<line x1="538.6" y1="52.2" x2="536.7" y2="45.5" stroke="#d080a8" stroke-width="0.7" opacity="0.17"/>
<line x1="538.6" y1="39.8" x2="538.3" y2="44.1" stroke="#d080a8" stroke-width="0.7" opacity="0.11"/>
<line x1="497.2" y1="66.6" x2="499.6" y2="62.8" stroke="#d080a8" stroke-width="0.7" opacity="0.07"/>
<line x1="486.9" y1="56.2" x2="498.0" y2="57.9" stroke="#d080a8" stroke-width="0.7" opacity="0.18"/>
<line x1="499.6" y1="62.8" x2="498.0" y2="57.9" stroke="#d080a8" stroke-width="0.7" opacity="0.17"/>
<line x1="540.2" y1="27.8" x2="541.8" y2="28.4" stroke="#d080a8" stroke-width="0.7" opacity="0.11"/>
<line x1="540.2" y1="27.8" x2="523.2" y2="-24.8" stroke="#d080a8" stroke-width="0.7" opacity="0.11"/>
<line x1="501.7" y1="26.0" x2="493.5" y2="22.2" stroke="#d080a8" stroke-width="0.7" opacity="0.14"/>
<line x1="501.7" y1="26.0" x2="501.8" y2="26.0" stroke="#d080a8" stroke-width="0.7" opacity="0.18"/>
<line x1="501.8" y1="26.0" x2="521.4" y2="-78.7" stroke="#d080a8" stroke-width="0.7" opacity="0.14"/>
<line x1="501.2" y1="82.7" x2="508.0" y2="88.9" stroke="#d080a8" stroke-width="0.7" opacity="0.20"/>
<line x1="495.8" y1="93.5" x2="507.1" y2="95.2" stroke="#d080a8" stroke-width="0.7" opacity="0.18"/>
<line x1="508.0" y1="88.9" x2="507.1" y2="95.2" stroke="#d080a8" stroke-width="0.7" opacity="0.11"/>
<line x1="500.4" y1="103.0" x2="507.4" y2="95.7" stroke="#d080a8" stroke-width="0.7" opacity="0.06"/>
<line x1="509.4" y1="97.3" x2="507.4" y2="95.7" stroke="#d080a8" stroke-width="0.7" opacity="0.07"/>
<line x1="507.4" y1="95.7" x2="507.1" y2="95.2" stroke="#d080a8" stroke-width="0.7" opacity="0.15"/>
<line x1="524.8" y1="41.0" x2="533.4" y2="45.8" stroke="#d080a8" stroke-width="0.7" opacity="0.06"/>
<line x1="524.8" y1="41.0" x2="524.8" y2="40.4" stroke="#d080a8" stroke-width="0.7" opacity="0.17"/>
<line x1="524.8" y1="40.4" x2="530.9" y2="34.5" stroke="#d080a8" stroke-width="0.7" opacity="0.08"/>
<line x1="530.9" y1="34.5" x2="532.2" y2="27.9" stroke="#d080a8" stroke-width="0.7" opacity="0.06"/>
<line x1="501.7" y1="26.0" x2="498.3" y2="35.4" stroke="#d080a8" stroke-width="0.7" opacity="0.15"/>
<line x1="511.1" y1="35.4" x2="511.8" y2="27.1" stroke="#d080a8" stroke-width="0.7" opacity="0.09"/>
<line x1="501.8" y1="26.0" x2="511.8" y2="27.1" stroke="#d080a8" stroke-width="0.7" opacity="0.13"/>
<line x1="530.7" y1="70.7" x2="522.0" y2="63.9" stroke="#d080a8" stroke-width="0.7" opacity="0.06"/>
<line x1="528.0" y1="55.9" x2="522.0" y2="63.9" stroke="#d080a8" stroke-width="0.7" opacity="0.17"/>
<line x1="533.4" y1="45.8" x2="527.6" y2="54.9" stroke="#d080a8" stroke-width="0.7" opacity="0.15"/>
<line x1="528.0" y1="55.9" x2="527.6" y2="54.9" stroke="#d080a8" stroke-width="0.7" opacity="0.07"/>
<line x1="488.2" y1="33.3" x2="486.1" y2="29.1" stroke="#d080a8" stroke-width="0.7" opacity="0.07"/>
<line x1="480.2" y1="41.1" x2="483.4" y2="40.8" stroke="#d080a8" stroke-width="0.7" opacity="0.14"/>
<line x1="498.3" y1="35.4" x2="496.8" y2="35.8" stroke="#d080a8" stroke-width="0.7" opacity="0.19"/>
<line x1="496.8" y1="35.8" x2="488.2" y2="33.3" stroke="#d080a8" stroke-width="0.7" opacity="0.13"/>
<line x1="489.3" y1="47.6" x2="492.2" y2="46.5" stroke="#d080a8" stroke-width="0.7" opacity="0.07"/>
<line x1="492.2" y1="46.5" x2="496.8" y2="35.8" stroke="#d080a8" stroke-width="0.7" opacity="0.14"/>
<line x1="475.9" y1="50.3" x2="480.2" y2="41.1" stroke="#d080a8" stroke-width="0.7" opacity="0.09"/>
<line x1="489.3" y1="47.6" x2="486.2" y2="55.5" stroke="#d080a8" stroke-width="0.7" opacity="0.11"/>
<line x1="518.2" y1="88.3" x2="517.2" y2="93.4" stroke="#d080a8" stroke-width="0.7" opacity="0.17"/>
<line x1="518.2" y1="88.3" x2="531.0" y2="89.5" stroke="#d080a8" stroke-width="0.7" opacity="0.13"/>
<line x1="517.2" y1="93.4" x2="524.4" y2="102.3" stroke="#d080a8" stroke-width="0.7" opacity="0.09"/>
<line x1="524.4" y1="102.3" x2="531.3" y2="92.9" stroke="#d080a8" stroke-width="0.7" opacity="0.20"/>
<line x1="515.9" y1="84.8" x2="518.2" y2="88.3" stroke="#d080a8" stroke-width="0.7" opacity="0.15"/>
<line x1="515.9" y1="84.8" x2="508.0" y2="88.9" stroke="#d080a8" stroke-width="0.7" opacity="0.05"/>
<line x1="509.4" y1="97.3" x2="517.2" y2="93.4" stroke="#d080a8" stroke-width="0.7" opacity="0.08"/>
<line x1="532.1" y1="93.5" x2="531.3" y2="92.9" stroke="#d080a8" stroke-width="0.7" opacity="0.15"/>
<line x1="531.5" y1="88.5" x2="531.0" y2="89.5" stroke="#d080a8" stroke-width="0.7" opacity="0.16"/>
<line x1="513.4" y1="26.2" x2="522.0" y2="0.8" stroke="#d080a8" stroke-width="0.7" opacity="0.12"/>
<line x1="521.5" y1="30.9" x2="528.7" y2="25.8" stroke="#d080a8" stroke-width="0.7" opacity="0.17"/>
<line x1="511.8" y1="27.1" x2="513.4" y2="26.2" stroke="#d080a8" stroke-width="0.7" opacity="0.14"/>
<line x1="521.9" y1="35.7" x2="524.8" y2="40.4" stroke="#d080a8" stroke-width="0.7" opacity="0.13"/>
<line x1="519.4" y1="63.8" x2="513.3" y2="60.0" stroke="#d080a8" stroke-width="0.7" opacity="0.20"/>
<line x1="519.4" y1="63.8" x2="517.1" y2="77.7" stroke="#d080a8" stroke-width="0.7" opacity="0.12"/>
<line x1="508.7" y1="75.0" x2="516.0" y2="78.3" stroke="#d080a8" stroke-width="0.7" opacity="0.16"/>
<line x1="521.5" y1="77.2" x2="517.1" y2="77.7" stroke="#d080a8" stroke-width="0.7" opacity="0.14"/>
<line x1="522.0" y1="63.9" x2="519.4" y2="63.8" stroke="#d080a8" stroke-width="0.7" opacity="0.11"/>
<line x1="502.5" y1="77.3" x2="508.7" y2="75.0" stroke="#d080a8" stroke-width="0.7" opacity="0.12"/>
<line x1="499.6" y1="62.8" x2="509.3" y2="64.4" stroke="#d080a8" stroke-width="0.7" opacity="0.07"/>
<line x1="515.9" y1="84.8" x2="516.0" y2="78.3" stroke="#d080a8" stroke-width="0.7" opacity="0.09"/>
<line x1="492.2" y1="46.5" x2="500.5" y2="49.7" stroke="#d080a8" stroke-width="0.7" opacity="0.08"/>
<line x1="503.5" y1="39.5" x2="504.3" y2="42.2" stroke="#d080a8" stroke-width="0.7" opacity="0.13"/>
<line x1="504.3" y1="42.2" x2="500.5" y2="49.7" stroke="#d080a8" stroke-width="0.7" opacity="0.13"/>
<line x1="498.0" y1="57.9" x2="501.5" y2="52.5" stroke="#d080a8" stroke-width="0.7" opacity="0.08"/>
<line x1="501.5" y1="52.5" x2="500.5" y2="49.7" stroke="#d080a8" stroke-width="0.7" opacity="0.15"/>
<line x1="520.7" y1="51.7" x2="513.2" y2="56.0" stroke="#d080a8" stroke-width="0.7" opacity="0.12"/>
<line x1="520.7" y1="51.7" x2="521.9" y2="43.9" stroke="#d080a8" stroke-width="0.7" opacity="0.10"/>
<line x1="521.9" y1="43.9" x2="514.3" y2="43.0" stroke="#d080a8" stroke-width="0.7" opacity="0.09"/>
<line x1="512.1" y1="54.9" x2="511.2" y2="45.8" stroke="#d080a8" stroke-width="0.7" opacity="0.08"/>
<line x1="514.3" y1="43.0" x2="511.2" y2="45.8" stroke="#d080a8" stroke-width="0.7" opacity="0.14"/>
<line x1="527.6" y1="54.9" x2="520.7" y2="51.7" stroke="#d080a8" stroke-width="0.7" opacity="0.08"/>
<line x1="513.3" y1="60.0" x2="513.2" y2="56.0" stroke="#d080a8" stroke-width="0.7" opacity="0.18"/>
<line x1="513.2" y1="37.2" x2="514.3" y2="43.0" stroke="#d080a8" stroke-width="0.7" opacity="0.15"/>
<line x1="501.5" y1="52.5" x2="512.1" y2="54.9" stroke="#d080a8" stroke-width="0.7" opacity="0.15"/>
<line x1="504.3" y1="42.2" x2="511.2" y2="45.8" stroke="#d080a8" stroke-width="0.7" opacity="0.08"/>
<line x1="474.9" y1="95.5" x2="474.4" y2="95.6" stroke="#d86098" stroke-width="1.2" opacity="0.84" stroke-linecap="round"/>
<line x1="459.3" y1="74.5" x2="461.8" y2="73.3" stroke="#c84090" stroke-width="1.0" opacity="0.54" stroke-linecap="round"/>
<line x1="531.2" y1="91.9" x2="531.0" y2="89.5" stroke="#c84090" stroke-width="1.2" opacity="0.46" stroke-linecap="round"/>
<line x1="500.8" y1="63.0" x2="508.7" y2="64.3" stroke="#d86098" stroke-width="1.1" opacity="0.55" stroke-linecap="round"/>
<line x1="548.1" y1="61.0" x2="545.7" y2="62.4" stroke="#c84090" stroke-width="1.0" opacity="0.79" stroke-linecap="round"/>
<line x1="478.3" y1="54.6" x2="476.3" y2="51.0" stroke="#d86098" stroke-width="1.3" opacity="0.51" stroke-linecap="round"/>
<line x1="548.5" y1="60.3" x2="548.7" y2="57.2" stroke="#c84090" stroke-width="1.1" opacity="0.65" stroke-linecap="round"/>
<line x1="510.7" y1="102.2" x2="509.6" y2="98.1" stroke="#d86098" stroke-width="1.2" opacity="0.60" stroke-linecap="round"/>
<line x1="488.6" y1="78.0" x2="487.7" y2="80.9" stroke="#d86098" stroke-width="1.1" opacity="0.84" stroke-linecap="round"/>
<line x1="470.8" y1="36.0" x2="471.9" y2="35.6" stroke="#d86098" stroke-width="1.4" opacity="0.73" stroke-linecap="round"/>
<line x1="548.2" y1="84.8" x2="552.5" y2="88.8" stroke="#d86098" stroke-width="1.0" opacity="0.51" stroke-linecap="round"/>
<line x1="507.5" y1="107.0" x2="510.6" y2="105.3" stroke="#c84090" stroke-width="1.1" opacity="0.73" stroke-linecap="round"/>
<line x1="466.7" y1="80.1" x2="465.8" y2="77.2" stroke="#c84090" stroke-width="1.3" opacity="0.68" stroke-linecap="round"/>
<line x1="511.2" y1="34.1" x2="511.7" y2="28.3" stroke="#c84090" stroke-width="1.2" opacity="0.72" stroke-linecap="round"/>
<line x1="544.5" y1="64.7" x2="543.2" y2="69.9" stroke="#c84090" stroke-width="0.9" opacity="0.45" stroke-linecap="round"/>
<line x1="544.5" y1="99.5" x2="544.4" y2="101.3" stroke="#c84090" stroke-width="1.2" opacity="0.52" stroke-linecap="round"/>
<line x1="466.7" y1="83.6" x2="465.8" y2="84.9" stroke="#d04888" stroke-width="1.1" opacity="0.64" stroke-linecap="round"/>
<line x1="493.0" y1="76.5" x2="498.5" y2="77.2" stroke="#d04888" stroke-width="1.2" opacity="0.59" stroke-linecap="round"/>
<line x1="532.7" y1="94.6" x2="535.0" y2="99.8" stroke="#d86098" stroke-width="0.8" opacity="0.58" stroke-linecap="round"/>
<line x1="477.1" y1="80.0" x2="477.6" y2="74.8" stroke="#d04888" stroke-width="1.3" opacity="0.71" stroke-linecap="round"/>
<line x1="531.9" y1="93.3" x2="531.6" y2="93.1" stroke="#d86098" stroke-width="1.0" opacity="0.58" stroke-linecap="round"/>
<line x1="490.4" y1="56.7" x2="495.3" y2="57.5" stroke="#d86098" stroke-width="1.2" opacity="0.64" stroke-linecap="round"/>
<line x1="546.8" y1="78.4" x2="546.4" y2="82.0" stroke="#d86098" stroke-width="1.0" opacity="0.59" stroke-linecap="round"/>
<line x1="464.2" y1="67.9" x2="465.2" y2="66.9" stroke="#d04888" stroke-width="1.1" opacity="0.71" stroke-linecap="round"/>
<line x1="498.6" y1="93.9" x2="503.5" y2="94.7" stroke="#c84090" stroke-width="0.9" opacity="0.80" stroke-linecap="round"/>
<line x1="512.9" y1="55.7" x2="512.3" y2="55.1" stroke="#d04888" stroke-width="0.8" opacity="0.76" stroke-linecap="round"/>
<line x1="481.3" y1="55.7" x2="485.2" y2="55.5" stroke="#d86098" stroke-width="0.9" opacity="0.73" stroke-linecap="round"/>
<line x1="484.2" y1="28.1" x2="481.2" y2="26.7" stroke="#d86098" stroke-width="0.8" opacity="0.74" stroke-linecap="round"/>
<circle cx="536.4" cy="103.1" r="0.4" fill="#e0b0c8" opacity="0.6"/>
<circle cx="456.1" cy="87.5" r="0.8" fill="#e0b0c8" opacity="0.6"/>
<circle cx="474.3" cy="75.7" r="0.4" fill="#d8a0bc" opacity="0.6"/>
<circle cx="532.5" cy="53.0" r="0.6" fill="#c8d8d0" opacity="0.6"/>
<circle cx="459.7" cy="100.6" r="0.5" fill="#e0b0c8" opacity="0.6"/>
<circle cx="532.7" cy="86.9" r="0.5" fill="#d8a0bc" opacity="0.6"/>
<circle cx="531.8" cy="69.9" r="0.5" fill="#c8d8d0" opacity="0.6"/>
<circle cx="450.6" cy="95.6" r="0.4" fill="#e0b0c8" opacity="0.6"/>
<circle cx="535.8" cy="44.4" r="0.6" fill="#c8d8d0" opacity="0.6"/>
<circle cx="467.1" cy="33.6" r="0.6" fill="#c8d8d0" opacity="0.6"/>
<circle cx="454.0" cy="102.4" r="0.7" fill="#c8d8d0" opacity="0.6"/>
<circle cx="525.5" cy="77.8" r="0.5" fill="#e0b0c8" opacity="0.6"/>
<circle cx="536.8" cy="32.9" r="0.5" fill="#d8a0bc" opacity="0.6"/>
<circle cx="483.9" cy="36.0" r="0.6" fill="#e0b0c8" opacity="0.6"/>
<circle cx="540.2" cy="84.1" r="0.6" fill="#e0b0c8" opacity="0.6"/>
<circle cx="521.3" cy="85.6" r="0.7" fill="#c8d8d0" opacity="0.6"/>
<circle cx="517.3" cy="93.5" r="0.5" fill="#d8a0bc" opacity="0.6"/>
<circle cx="519.1" cy="102.2" r="0.6" fill="#c8d8d0" opacity="0.6"/>
<circle cx="476.4" cy="35.4" r="0.9" fill="#e0b0c8" opacity="0.6"/>
<circle cx="459.1" cy="90.6" r="0.6" fill="#e0b0c8" opacity="0.6"/>
<circle cx="529.5" cy="42.1" r="0.8" fill="#c8d8d0" opacity="0.6"/>
<circle cx="513.3" cy="97.9" r="0.4" fill="#e0b0c8" opacity="0.6"/>
<circle cx="537.5" cy="72.4" r="0.8" fill="#e0b0c8" opacity="0.6"/>
<circle cx="543.2" cy="94.5" r="0.5" fill="#d090b0" opacity="0.6"/>
<circle cx="510.5" cy="33.5" r="0.6" fill="#c8d8d0" opacity="0.6"/>
<circle cx="495.9" cy="71.6" r="0.7" fill="#e0b0c8" opacity="0.6"/>
<circle cx="459.3" cy="93.6" r="0.7" fill="#e0b0c8" opacity="0.6"/>
<circle cx="484.4" cy="61.5" r="0.7" fill="#e0b0c8" opacity="0.6"/>
<circle cx="507.3" cy="81.8" r="0.4" fill="#d8a0bc" opacity="0.6"/>
<circle cx="528.3" cy="83.3" r="0.5" fill="#e0b0c8" opacity="0.6"/>
<circle cx="542.4" cy="79.9" r="0.7" fill="#d8a0bc" opacity="0.6"/>
<circle cx="478.2" cy="67.4" r="0.7" fill="#e0b0c8" opacity="0.6"/>
<circle cx="512.8" cy="64.0" r="0.5" fill="#c8d8d0" opacity="0.6"/>
<circle cx="481.2" cy="59.5" r="0.8" fill="#d8a0bc" opacity="0.6"/>
<circle cx="472.9" cy="71.2" r="0.6" fill="#c8d8d0" opacity="0.6"/>
<circle cx="452.2" cy="43.0" r="0.9" fill="#e0b0c8" opacity="0.6"/>
<circle cx="528.0" cy="43.3" r="0.9" fill="#e0b0c8" opacity="0.6"/>
<circle cx="510.1" cy="86.4" r="0.4" fill="#d090b0" opacity="0.6"/>
<circle cx="488.7" cy="81.0" r="0.5" fill="#d8a0bc" opacity="0.6"/>
<circle cx="448.2" cy="88.7" r="0.8" fill="#d090b0" opacity="0.6"/>
<circle cx="529.6" cy="43.5" r="0.8" fill="#c8d8d0" opacity="0.6"/>
<circle cx="502.9" cy="101.1" r="0.6" fill="#c8d8d0" opacity="0.6"/>
<circle cx="488.1" cy="66.0" r="0.8" fill="#d090b0" opacity="0.6"/>
<circle cx="542.9" cy="43.4" r="0.5" fill="#d090b0" opacity="0.6"/>
<circle cx="503.5" cy="69.2" r="0.7" fill="#c8d8d0" opacity="0.6"/>
<circle cx="502.2" cy="49.4" r="0.8" fill="#d090b0" opacity="0.6"/>
<circle cx="492.3" cy="37.3" r="0.7" fill="#d090b0" opacity="0.6"/>
<circle cx="474.8" cy="101.1" r="0.8" fill="#c8d8d0" opacity="0.6"/>
<circle cx="518.7" cy="102.4" r="0.5" fill="#d090b0" opacity="0.6"/>
<circle cx="497.2" cy="44.7" r="0.8" fill="#d090b0" opacity="0.6"/>
<circle cx="463.7" cy="35.9" r="0.5" fill="#d090b0" opacity="0.6"/>
<circle cx="497.6" cy="84.4" r="0.5" fill="#e0b0c8" opacity="0.6"/>
<circle cx="523.8" cy="33.9" r="0.8" fill="#d8a0bc" opacity="0.6"/>
<circle cx="500.6" cy="52.8" r="0.8" fill="#e0b0c8" opacity="0.6"/>
<circle cx="524.2" cy="96.0" r="0.7" fill="#e0b0c8" opacity="0.6"/>
<circle cx="527.4" cy="67.3" r="0.7" fill="#c8d8d0" opacity="0.6"/>
<circle cx="506.3" cy="42.3" r="0.7" fill="#d090b0" opacity="0.6"/>
<circle cx="517.1" cy="34.9" r="0.5" fill="#d090b0" opacity="0.6"/>
<circle cx="479.2" cy="52.1" r="0.6" fill="#d8a0bc" opacity="0.6"/>
<circle cx="465.7" cy="34.3" r="0.5" fill="#c8d8d0" opacity="0.6"/>
<circle cx="519.6" cy="50.0" r="0.4" fill="#c8d8d0" opacity="0.6"/>
<circle cx="478.9" cy="61.2" r="0.5" fill="#e0b0c8" opacity="0.6"/>
<circle cx="514.4" cy="65.8" r="0.7" fill="#d090b0" opacity="0.6"/>
<circle cx="476.6" cy="78.6" r="0.8" fill="#e0b0c8" opacity="0.6"/>
<circle cx="453.3" cy="96.2" r="0.9" fill="#d8a0bc" opacity="0.6"/>
<circle cx="504.0" cy="32.3" r="0.5" fill="#c8d8d0" opacity="0.6"/>
<circle cx="513.5" cy="72.0" r="0.6" fill="#d090b0" opacity="0.6"/>
<circle cx="512.5" cy="87.1" r="0.5" fill="#c8d8d0" opacity="0.6"/>
<circle cx="448.7" cy="45.8" r="0.5" fill="#d8a0bc" opacity="0.6"/>
<circle cx="476.4" cy="39.5" r="0.9" fill="#d8a0bc" opacity="0.6"/>
<circle cx="534.6" cy="38.5" r="0.6" fill="#e0b0c8" opacity="0.6"/>
<circle cx="470.8" cy="95.3" r="0.7" fill="#d090b0" opacity="0.6"/>
<circle cx="451.2" cy="50.9" r="0.7" fill="#e0b0c8" opacity="0.6"/>
<circle cx="452.5" cy="90.4" r="0.7" fill="#e0b0c8" opacity="0.6"/>
<circle cx="464.9" cy="96.5" r="0.5" fill="#d8a0bc" opacity="0.6"/>
<circle cx="459.9" cy="45.4" r="0.5" fill="#e0b0c8" opacity="0.6"/>
<circle cx="514.6" cy="94.6" r="0.7" fill="#e0b0c8" opacity="0.6"/>
<circle cx="502.9" cy="100.6" r="0.6" fill="#d8a0bc" opacity="0.6"/>
<circle cx="514.6" cy="46.1" r="0.5" fill="#d090b0" opacity="0.6"/>
<circle cx="456.1" cy="90.4" r="0.7" fill="#c8d8d0" opacity="0.6"/>
<circle cx="476.1" cy="87.2" r="0.9" fill="#c8d8d0" opacity="0.6"/>
<circle cx="452.1" cy="53.4" r="0.9" fill="#d8a0bc" opacity="0.6"/>
<circle cx="496.2" cy="41.0" r="0.5" fill="#c8d8d0" opacity="0.6"/>
<circle cx="535.3" cy="61.5" r="0.8" fill="#d090b0" opacity="0.6"/>
<circle cx="526.3" cy="100.1" r="0.7" fill="#e0b0c8" opacity="0.6"/>
<circle cx="470.4" cy="76.2" r="0.4" fill="#e0b0c8" opacity="0.6"/>
<circle cx="455.8" cy="41.2" r="0.5" fill="#d8a0bc" opacity="0.6"/>
<circle cx="466.3" cy="58.1" r="0.6" fill="#e0b0c8" opacity="0.6"/>
<circle cx="467.3" cy="55.4" r="0.6" fill="#c8d8d0" opacity="0.6"/>
<circle cx="471.8" cy="49.6" r="0.9" fill="#c8d8d0" opacity="0.6"/>
<circle cx="518.3" cy="91.1" r="0.5" fill="#d8a0bc" opacity="0.6"/>
<circle cx="476.3" cy="88.3" r="0.5" fill="#e0b0c8" opacity="0.6"/>
<circle cx="528.8" cy="33.2" r="0.6" fill="#d8a0bc" opacity="0.6"/>
<circle cx="488.0" cy="99.0" r="0.7" fill="#d090b0" opacity="0.6"/>
<circle cx="539.3" cy="85.6" r="0.5" fill="#d8a0bc" opacity="0.6"/>
<circle cx="535.7" cy="97.7" r="0.4" fill="#e0b0c8" opacity="0.6"/>
<circle cx="516.8" cy="68.6" r="0.5" fill="#c8d8d0" opacity="0.6"/>
<circle cx="542.5" cy="44.1" r="0.5" fill="#c8d8d0" opacity="0.6"/>
<circle cx="506.6" cy="43.7" r="0.9" fill="#d8a0bc" opacity="0.6"/>
<circle cx="512.3" cy="96.7" r="0.6" fill="#d090b0" opacity="0.6"/>
<circle cx="510.1" cy="73.5" r="0.8" fill="#e0b0c8" opacity="0.6"/>
<circle cx="479.9" cy="36.0" r="0.8" fill="#c8d8d0" opacity="0.6"/>
<circle cx="541.9" cy="39.3" r="0.4" fill="#e0b0c8" opacity="0.6"/>
<circle cx="543.5" cy="51.0" r="0.9" fill="#d090b0" opacity="0.6"/>
<circle cx="474.3" cy="76.1" r="0.6" fill="#c8d8d0" opacity="0.6"/>
<circle cx="504.5" cy="47.1" r="0.6" fill="#d090b0" opacity="0.6"/>
<circle cx="494.8" cy="78.6" r="0.8" fill="#c8d8d0" opacity="0.6"/>
<circle cx="453.8" cy="33.9" r="0.8" fill="#d090b0" opacity="0.6"/>
<circle cx="512.2" cy="82.5" r="0.8" fill="#e0b0c8" opacity="0.6"/>
<circle cx="487.2" cy="77.7" r="0.8" fill="#d8a0bc" opacity="0.6"/>
<circle cx="526.1" cy="101.2" r="0.5" fill="#c8d8d0" opacity="0.6"/>
<circle cx="475.7" cy="85.4" r="0.9" fill="#d090b0" opacity="0.6"/>
<circle cx="520.7" cy="94.9" r="0.8" fill="#e0b0c8" opacity="0.6"/>
<circle cx="471.4" cy="39.4" r="0.5" fill="#d8a0bc" opacity="0.6"/>
<circle cx="515.4" cy="59.2" r="0.7" fill="#d090b0" opacity="0.6"/>
<circle cx="451.1" cy="80.7" r="0.4" fill="#d8a0bc" opacity="0.6"/>
<circle cx="467.9" cy="90.8" r="0.7" fill="#c8d8d0" opacity="0.6"/>
<circle cx="528.5" cy="42.2" r="0.7" fill="#c8d8d0" opacity="0.6"/>
<circle cx="515.9" cy="103.1" r="0.5" fill="#e0b0c8" opacity="0.6"/>
<circle cx="475.7" cy="31.1" r="0.8" fill="#e0b0c8" opacity="0.6"/>
<circle cx="453.6" cy="47.2" r="0.7" fill="#e0b0c8" opacity="0.6"/>
<circle cx="532.9" cy="85.4" r="0.9" fill="#d090b0" opacity="0.6"/>
<circle cx="539.5" cy="33.6" r="0.8" fill="#d090b0" opacity="0.6"/>
<circle cx="508.0" cy="99.6" r="0.8" fill="#e0b0c8" opacity="0.6"/>
<circle cx="457.5" cy="64.4" r="0.7" fill="#e0b0c8" opacity="0.6"/>
<circle cx="476.8" cy="99.5" r="0.7" fill="#d8a0bc" opacity="0.6"/>
<circle cx="450.7" cy="83.7" r="0.7" fill="#d8a0bc" opacity="0.6"/>
<circle cx="506.6" cy="76.5" r="0.6" fill="#d090b0" opacity="0.6"/>
<circle cx="505.7" cy="72.8" r="0.4" fill="#e0b0c8" opacity="0.6"/>
<circle cx="472.1" cy="73.5" r="0.8" fill="#c8d8d0" opacity="0.6"/>
<circle cx="453.2" cy="89.6" r="0.8" fill="#e0b0c8" opacity="0.6"/>
<circle cx="452.7" cy="57.1" r="0.8" fill="#d8a0bc" opacity="0.6"/>
<circle cx="494.8" cy="74.8" r="0.7" fill="#d8a0bc" opacity="0.6"/>
<circle cx="488.1" cy="54.2" r="0.5" fill="#e0b0c8" opacity="0.6"/>
<circle cx="529.1" cy="49.1" r="0.8" fill="#d090b0" opacity="0.6"/>
<circle cx="513.4" cy="64.7" r="0.6" fill="#e0b0c8" opacity="0.6"/>
<circle cx="448.3" cy="92.6" r="0.6" fill="#d8a0bc" opacity="0.6"/>
<circle cx="489.0" cy="75.4" r="0.6" fill="#c8d8d0" opacity="0.6"/>
<circle cx="534.8" cy="31.2" r="0.4" fill="#d8a0bc" opacity="0.6"/>
<circle cx="463.6" cy="77.8" r="0.5" fill="#e0b0c8" opacity="0.6"/>
<circle cx="527.1" cy="95.4" r="0.5" fill="#c8d8d0" opacity="0.6"/>
<circle cx="535.5" cy="34.4" r="0.7" fill="#c8d8d0" opacity="0.6"/>
<circle cx="476.8" cy="99.2" r="0.5" fill="#e0b0c8" opacity="0.6"/>
<circle cx="495.2" cy="70.9" r="0.5" fill="#c8d8d0" opacity="0.6"/>
<circle cx="479.4" cy="86.5" r="0.6" fill="#d090b0" opacity="0.6"/>
<circle cx="485.3" cy="59.6" r="0.5" fill="#e0b0c8" opacity="0.6"/>
<circle cx="485.9" cy="86.6" r="0.8" fill="#d8a0bc" opacity="0.6"/>
<circle cx="486.7" cy="75.8" r="0.9" fill="#c8d8d0" opacity="0.6"/>
<circle cx="543.2" cy="66.0" r="0.8" fill="#d090b0" opacity="0.6"/>
<circle cx="482.7" cy="61.5" r="0.7" fill="#e0b0c8" opacity="0.6"/>
<circle cx="456.0" cy="43.4" r="0.8" fill="#c8d8d0" opacity="0.6"/>
<circle cx="476.1" cy="101.1" r="0.7" fill="#d8a0bc" opacity="0.6"/>
<circle cx="522.9" cy="59.7" r="0.8" fill="#e0b0c8" opacity="0.6"/>
<circle cx="489.5" cy="67.7" r="0.6" fill="#d090b0" opacity="0.6"/>
<circle cx="448.0" cy="44.1" r="0.4" fill="#c8d8d0" opacity="0.6"/>
<circle cx="450.1" cy="44.2" r="0.7" fill="#c8d8d0" opacity="0.6"/>
<circle cx="520.9" cy="81.5" r="0.7" fill="#d090b0" opacity="0.6"/>
<circle cx="450.1" cy="38.2" r="0.7" fill="#d090b0" opacity="0.6"/>
<circle cx="484.6" cy="40.9" r="0.9" fill="#e0b0c8" opacity="0.6"/>
<circle cx="540.9" cy="79.8" r="0.8" fill="#d090b0" opacity="0.6"/>
<ellipse cx="479.5" cy="95.9" rx="1.1" ry="0.8" fill="#b0308a" opacity="0.85"/>
<ellipse cx="465.3" cy="66.9" rx="1.1" ry="0.7" fill="#c03880" opacity="0.85"/>
<ellipse cx="451.2" cy="74.7" rx="0.9" ry="0.8" fill="#c83c88" opacity="0.85"/>
<ellipse cx="538.6" cy="52.2" rx="0.8" ry="0.5" fill="#b0308a" opacity="0.85"/>
<ellipse cx="521.5" cy="77.2" rx="0.9" ry="0.5" fill="#b0308a" opacity="0.85"/>
<ellipse cx="536.5" cy="103.1" rx="0.7" ry="0.7" fill="#c83c88" opacity="0.85"/>
<ellipse cx="482.6" cy="103.3" rx="0.8" ry="0.7" fill="#c83c88" opacity="0.85"/>
<ellipse cx="469.2" cy="47.6" rx="1.1" ry="0.6" fill="#d05a98" opacity="0.85"/>
<ellipse cx="499.6" cy="62.8" rx="1.1" ry="0.6" fill="#d05a98" opacity="0.85"/>
<ellipse cx="495.8" cy="93.5" rx="1.3" ry="0.5" fill="#b0308a" opacity="0.85"/>
<ellipse cx="532.1" cy="93.5" rx="0.8" ry="0.8" fill="#b0308a" opacity="0.85"/>
<ellipse cx="498.3" cy="35.4" rx="1.2" ry="0.9" fill="#6a3a9a" opacity="0.85"/>
<ellipse cx="458.3" cy="102.8" rx="1.2" ry="0.7" fill="#d05a98" opacity="0.85"/>
<ellipse cx="500.4" cy="103.0" rx="1.1" ry="0.5" fill="#c03880" opacity="0.85"/>
<ellipse cx="458.9" cy="43.0" rx="1.0" ry="0.6" fill="#c03880" opacity="0.85"/>
<ellipse cx="483.6" cy="84.5" rx="0.8" ry="0.6" fill="#b0308a" opacity="0.85"/>
<ellipse cx="497.2" cy="66.6" rx="1.2" ry="0.6" fill="#d05a98" opacity="0.85"/>
<ellipse cx="488.2" cy="33.3" rx="1.1" ry="0.7" fill="#6a3a9a" opacity="0.85"/>
<ellipse cx="469.6" cy="36.4" rx="1.4" ry="0.9" fill="#d05a98" opacity="0.85"/>
<ellipse cx="542.1" cy="74.3" rx="1.0" ry="0.7" fill="#6a3a9a" opacity="0.85"/>
<ellipse cx="527.6" cy="54.9" rx="1.4" ry="0.8" fill="#b0308a" opacity="0.85"/>
<ellipse cx="534.5" cy="60.4" rx="1.1" ry="0.5" fill="#d05a98" opacity="0.85"/>
<ellipse cx="494.4" cy="101.6" rx="1.4" ry="0.9" fill="#d05a98" opacity="0.85"/>
<ellipse cx="530.7" cy="70.7" rx="0.7" ry="0.7" fill="#c83c88" opacity="0.85"/>
<ellipse cx="517.2" cy="93.4" rx="1.2" ry="0.8" fill="#c83c88" opacity="0.85"/>
<ellipse cx="515.9" cy="84.8" rx="1.2" ry="0.7" fill="#b0308a" opacity="0.85"/>
<ellipse cx="455.6" cy="35.7" rx="0.9" ry="0.6" fill="#c03880" opacity="0.85"/>
<ellipse cx="479.2" cy="55.8" rx="1.0" ry="0.8" fill="#c03880" opacity="0.85"/>
<ellipse cx="450.8" cy="89.3" rx="1.2" ry="0.6" fill="#d05a98" opacity="0.85"/>
<ellipse cx="509.3" cy="64.4" rx="1.1" ry="0.6" fill="#c03880" opacity="0.85"/>
<ellipse cx="517.1" cy="77.7" rx="1.1" ry="0.5" fill="#b0308a" opacity="0.85"/>
<ellipse cx="474.2" cy="95.7" rx="0.9" ry="0.7" fill="#c83c88" opacity="0.85"/>
<ellipse cx="521.5" cy="30.9" rx="0.7" ry="0.7" fill="#d05a98" opacity="0.85"/>
<ellipse cx="498.0" cy="57.9" rx="0.6" ry="0.7" fill="#c83c88" opacity="0.85"/>
<ellipse cx="449.9" cy="67.1" rx="0.7" ry="0.7" fill="#b0308a" opacity="0.85"/>
<ellipse cx="488.7" cy="67.2" rx="0.7" ry="0.6" fill="#b0308a" opacity="0.85"/>
</g>
<rect x="536.3" y="101.0" width="6" height="1.5" fill="#f4f4f4"/>
<circle cx="386.5" cy="93.5" r="3" fill="#d03c88" opacity="0.75"/>
<circle cx="390" cy="91" r="3.2" fill="#d03c88" opacity="0.75"/>
<circle cx="394" cy="92.5" r="3" fill="#d03c88" opacity="0.75"/>
<circle cx="391.5" cy="95.5" r="3.2" fill="#d03c88" opacity="0.75"/>
<circle cx="396" cy="95.5" r="2.2" fill="#d03c88" opacity="0.75"/>
<circle cx="388" cy="96.5" r="2.2" fill="#d03c88" opacity="0.75"/>
<circle cx="392" cy="88.8" r="1.8" fill="#d03c88" opacity="0.75"/>
<circle cx="393" cy="95" r="1.1" fill="#7a3090"/>
<circle cx="389" cy="92" r="0.9" fill="#7a3090"/>
<path d="M349,84 L353,81 L355,83 L351,88 Z" fill="#c8408a" opacity="0.6"/>
<text x="389.5" y="115.8" font-size="10.3" font-weight="bold" fill="#1e1e1e" textLength="16.6" lengthAdjust="spacingAndGlyphs">SAT</text>
<text x="493.6" y="115.8" font-size="10.3" font-weight="bold" fill="#1e1e1e" textLength="16.8" lengthAdjust="spacingAndGlyphs">VAT</text>
<rect x="148" y="139.5" width="117" height="234.7" fill="#fff"/>
<line x1="165.6" y1="139.5" x2="165.6" y2="374.2" stroke="#d0d0d0" stroke-width="1"/>
<line x1="188.8" y1="139.5" x2="188.8" y2="374.2" stroke="#d0d0d0" stroke-width="1"/>
<line x1="212.0" y1="139.5" x2="212.0" y2="374.2" stroke="#d0d0d0" stroke-width="1"/>
<line x1="235.2" y1="139.5" x2="235.2" y2="374.2" stroke="#d0d0d0" stroke-width="1"/>
<line x1="258.2" y1="139.5" x2="258.2" y2="374.2" stroke="#d0d0d0" stroke-width="1"/>
<line x1="148" y1="145.60" x2="265" y2="145.60" stroke="#d0d0d0" stroke-width="1"/>
<line x1="148" y1="157.33" x2="265" y2="157.33" stroke="#d0d0d0" stroke-width="1"/>
<line x1="148" y1="169.06" x2="265" y2="169.06" stroke="#d0d0d0" stroke-width="1"/>
<line x1="148" y1="180.79" x2="265" y2="180.79" stroke="#d0d0d0" stroke-width="1"/>
<line x1="148" y1="192.53" x2="265" y2="192.53" stroke="#d0d0d0" stroke-width="1"/>
<line x1="148" y1="204.26" x2="265" y2="204.26" stroke="#d0d0d0" stroke-width="1"/>
<line x1="148" y1="215.99" x2="265" y2="215.99" stroke="#d0d0d0" stroke-width="1"/>
<line x1="148" y1="227.72" x2="265" y2="227.72" stroke="#d0d0d0" stroke-width="1"/>
<line x1="148" y1="239.45" x2="265" y2="239.45" stroke="#d0d0d0" stroke-width="1"/>
<line x1="148" y1="251.18" x2="265" y2="251.18" stroke="#d0d0d0" stroke-width="1"/>
<line x1="148" y1="262.92" x2="265" y2="262.92" stroke="#d0d0d0" stroke-width="1"/>
<line x1="148" y1="274.65" x2="265" y2="274.65" stroke="#d0d0d0" stroke-width="1"/>
<line x1="148" y1="286.38" x2="265" y2="286.38" stroke="#d0d0d0" stroke-width="1"/>
<line x1="148" y1="298.11" x2="265" y2="298.11" stroke="#d0d0d0" stroke-width="1"/>
<line x1="148" y1="309.84" x2="265" y2="309.84" stroke="#d0d0d0" stroke-width="1"/>
<line x1="148" y1="321.57" x2="265" y2="321.57" stroke="#d0d0d0" stroke-width="1"/>
<line x1="148" y1="333.31" x2="265" y2="333.31" stroke="#d0d0d0" stroke-width="1"/>
<line x1="148" y1="345.04" x2="265" y2="345.04" stroke="#d0d0d0" stroke-width="1"/>
<line x1="148" y1="356.77" x2="265" y2="356.77" stroke="#d0d0d0" stroke-width="1"/>
<line x1="148" y1="368.50" x2="265" y2="368.50" stroke="#d0d0d0" stroke-width="1"/>
<rect x="148.2" y="139.5" width="116.8" height="234.7" fill="none" stroke="#3e3838" stroke-width="1.1"/>
<text x="144" y="147.90" font-size="6.5" fill="#2a2a2a" stroke="#2a2a2a" stroke-width="0.22" text-anchor="end" font-weight="normal" >Ribosome</text>
<text x="144" y="159.63" font-size="6.5" fill="#2a2a2a" stroke="#2a2a2a" stroke-width="0.22" text-anchor="end" font-weight="normal" >Thermogenesis</text>
<text x="144" y="171.36" font-size="6.5" fill="#2a2a2a" stroke="#2a2a2a" stroke-width="0.22" text-anchor="end" font-weight="normal" >Oxidative phosphorylation</text>
<text x="144" y="183.09" font-size="6.5" fill="#2a2a2a" stroke="#2a2a2a" stroke-width="0.22" text-anchor="end" font-weight="normal" >Parkinson disease</text>
<text x="144" y="194.83" font-size="6.5" fill="#2a2a2a" stroke="#2a2a2a" stroke-width="0.22" text-anchor="end" font-weight="normal" >Alzheimer disease</text>
<text x="144" y="206.56" font-size="6.5" fill="#2a2a2a" stroke="#2a2a2a" stroke-width="0.22" text-anchor="end" font-weight="normal" >Huntington disease</text>
<text x="144" y="218.29" font-size="6.5" fill="#2a2a2a" stroke="#2a2a2a" stroke-width="0.22" text-anchor="end" font-weight="normal" >Antigen processing and presentation</text>
<text x="144" y="230.02" font-size="6.5" fill="#2a2a2a" stroke="#2a2a2a" stroke-width="0.22" text-anchor="end" font-weight="normal" >PPAR signaling pathway</text>
<text x="144" y="241.75" font-size="6.5" fill="#2a2a2a" stroke="#2a2a2a" stroke-width="0.22" text-anchor="end" font-weight="normal" >Carbon metabolism</text>
<text x="144" y="253.48" font-size="6.5" fill="#2a2a2a" stroke="#2a2a2a" stroke-width="0.22" text-anchor="end" font-weight="normal" >Non-alcoholic fatty liver disease (NAFLD)</text>
<text x="144" y="265.22" font-size="6.5" fill="#2a2a2a" stroke="#2a2a2a" stroke-width="0.22" text-anchor="end" font-weight="normal" >Fatty acid metabolism</text>
<text x="144" y="276.95" font-size="6.5" fill="#2a2a2a" stroke="#2a2a2a" stroke-width="0.22" text-anchor="end" font-weight="normal" >Protein processing in endoplasmic reticulum</text>
<text x="144" y="288.68" font-size="6.5" fill="#2a2a2a" stroke="#2a2a2a" stroke-width="0.22" text-anchor="end" font-weight="normal" >Citrate cycle (TCA cycle)</text>
<text x="144" y="300.41" font-size="6.5" fill="#2a2a2a" stroke="#2a2a2a" stroke-width="0.22" text-anchor="end" font-weight="normal" >Biosynthesis of amino acids</text>
<text x="144" y="312.14" font-size="6.5" fill="#2a2a2a" stroke="#2a2a2a" stroke-width="0.22" text-anchor="end" font-weight="normal" >Biosynthesis of unsaturated fatty acids</text>
<text x="144" y="323.87" font-size="6.5" fill="#2a2a2a" stroke="#2a2a2a" stroke-width="0.22" text-anchor="end" font-weight="normal" >Glycolysis / Gluconeogenesis</text>
<text x="144" y="335.61" font-size="6.5" fill="#2a2a2a" stroke="#2a2a2a" stroke-width="0.22" text-anchor="end" font-weight="normal" >Pyruvate metabolism</text>
<text x="144" y="347.34" font-size="6.5" fill="#2a2a2a" stroke="#2a2a2a" stroke-width="0.22" text-anchor="end" font-weight="normal" >Fluid shear stress and atherosclerosis</text>
<text x="144" y="359.07" font-size="6.5" fill="#2a2a2a" stroke="#2a2a2a" stroke-width="0.22" text-anchor="end" font-weight="normal" >Salmonella infection</text>
<text x="144" y="370.80" font-size="6.5" fill="#2a2a2a" stroke="#2a2a2a" stroke-width="0.22" text-anchor="end" font-weight="normal" >Focal adhesion</text>
<circle cx="258.1" cy="145.60" r="4.6" fill="#f43524"/>
<circle cx="176" cy="157.33" r="2.4" fill="#1c8a3c"/>
<circle cx="192.2" cy="169.06" r="1.8" fill="#1f8e3c"/>
<circle cx="188" cy="180.79" r="1.9" fill="#1c8a3c"/>
<circle cx="161" cy="192.53" r="2.6" fill="#178a3a"/>
<circle cx="163.7" cy="204.26" r="2.3" fill="#178a3a"/>
<circle cx="184.2" cy="215.99" r="1.5" fill="#1f9040"/>
<circle cx="192.6" cy="227.72" r="1.4" fill="#229040"/>
<circle cx="179.6" cy="239.45" r="1.5" fill="#1f9040"/>
<circle cx="170" cy="251.18" r="1.8" fill="#1c8c3c"/>
<circle cx="202" cy="262.92" r="1.1" fill="#22943e"/>
<circle cx="168" cy="274.65" r="1.7" fill="#1c8c3c"/>
<circle cx="230.9" cy="286.38" r="1.0" fill="#24963e"/>
<circle cx="183.4" cy="298.11" r="1.3" fill="#22943e"/>
<circle cx="225.7" cy="309.84" r="1.0" fill="#24963e"/>
<circle cx="184" cy="321.57" r="1.3" fill="#22943e"/>
<circle cx="202" cy="333.31" r="1.0" fill="#24963e"/>
<circle cx="163" cy="345.04" r="1.6" fill="#1f9040"/>
<circle cx="154.8" cy="356.77" r="1.9" fill="#1c8c3c"/>
<circle cx="155" cy="368.50" r="1.8" fill="#1c8c3c"/>
<line x1="165.6" y1="374.2" x2="165.6" y2="376.4" stroke="#4a4444" stroke-width="0.7"/>
<text x="165.6" y="382.5" font-size="5" fill="#2a2a2a" stroke="#2a2a2a" stroke-width="0.22" text-anchor="middle" font-weight="normal" >0.10</text>
<line x1="188.8" y1="374.2" x2="188.8" y2="376.4" stroke="#4a4444" stroke-width="0.7"/>
<text x="188.8" y="382.5" font-size="5" fill="#2a2a2a" stroke="#2a2a2a" stroke-width="0.22" text-anchor="middle" font-weight="normal" >0.15</text>
<line x1="212.0" y1="374.2" x2="212.0" y2="376.4" stroke="#4a4444" stroke-width="0.7"/>
<text x="212.0" y="382.5" font-size="5" fill="#2a2a2a" stroke="#2a2a2a" stroke-width="0.22" text-anchor="middle" font-weight="normal" >0.20</text>
<line x1="235.2" y1="374.2" x2="235.2" y2="376.4" stroke="#4a4444" stroke-width="0.7"/>
<text x="235.2" y="382.5" font-size="5" fill="#2a2a2a" stroke="#2a2a2a" stroke-width="0.22" text-anchor="middle" font-weight="normal" >0.25</text>
<line x1="258.2" y1="374.2" x2="258.2" y2="376.4" stroke="#4a4444" stroke-width="0.7"/>
<text x="258.2" y="382.5" font-size="5" fill="#2a2a2a" stroke="#2a2a2a" stroke-width="0.22" text-anchor="middle" font-weight="normal" >0.30</text>
<text x="207" y="132.2" font-size="7.5" fill="#111" stroke="#111" stroke-width="0" text-anchor="middle" font-weight="bold" >KEGG Pathway Enrichment</text>
<text x="272" y="144.3" font-size="6.5" fill="#2a2a2a" stroke="#2a2a2a" stroke-width="0.22" text-anchor="start" font-weight="normal" >GeneNumber</text>
<rect x="272.4" y="149" width="12" height="11.5" fill="#fff" stroke="#444" stroke-width="0.7"/>
<rect x="272.4" y="160.5" width="12" height="11.5" fill="#fff" stroke="#444" stroke-width="0.7"/>
<circle cx="278.4" cy="154.8" r="0.7" fill="#555"/>
<circle cx="278.4" cy="166.3" r="4.6" fill="#6a6a6a"/>
<text x="289" y="157.5" font-size="5.5" fill="#2a2a2a" stroke="#2a2a2a" stroke-width="0.22" text-anchor="start" font-weight="normal" >6</text>
<text x="289" y="169" font-size="5.5" fill="#2a2a2a" stroke="#2a2a2a" stroke-width="0.22" text-anchor="start" font-weight="normal" >67</text>
<text x="273" y="186.4" font-size="6.85" fill="#2a2a2a" stroke="#2a2a2a" stroke-width="0.22" text-anchor="start" font-weight="normal" >−log10(Qvalue)</text>
<defs><linearGradient id="qG" x1="0" y1="0" x2="0" y2="1"><stop offset="0" stop-color="#fb3a1c"/><stop offset="0.5" stop-color="#9a6424"/><stop offset="1" stop-color="#169a3c"/></linearGradient></defs>
<rect x="272.4" y="191.6" width="6.6" height="36.6" fill="url(#qG)"/>
<line x1="279" y1="195" x2="281" y2="195" stroke="#333" stroke-width="0.6"/>
<line x1="279" y1="212.4" x2="281" y2="212.4" stroke="#333" stroke-width="0.6"/>
<text x="282.5" y="197" font-size="5" fill="#2a2a2a" stroke="#2a2a2a" stroke-width="0.22" text-anchor="start" font-weight="normal" >40</text>
<text x="282.5" y="214.4" font-size="5" fill="#2a2a2a" stroke="#2a2a2a" stroke-width="0.22" text-anchor="start" font-weight="normal" >20</text>
<rect x="349" y="201.4" width="196" height="63.20000000000002" fill="#efefef"/>
<line x1="367.2" y1="136.3" x2="367.2" y2="264.6" stroke="#c6c6c6" stroke-width="0.8" stroke-dasharray="3.2,3.2"/>
<line x1="385.4" y1="136.3" x2="385.4" y2="264.6" stroke="#c6c6c6" stroke-width="0.8" stroke-dasharray="3.2,3.2"/>
<line x1="403.6" y1="136.3" x2="403.6" y2="264.6" stroke="#c6c6c6" stroke-width="0.8" stroke-dasharray="3.2,3.2"/>
<line x1="421.8" y1="136.3" x2="421.8" y2="264.6" stroke="#c6c6c6" stroke-width="0.8" stroke-dasharray="3.2,3.2"/>
<line x1="440.0" y1="136.3" x2="440.0" y2="264.6" stroke="#c6c6c6" stroke-width="0.8" stroke-dasharray="3.2,3.2"/>
<line x1="458.2" y1="136.3" x2="458.2" y2="264.6" stroke="#c6c6c6" stroke-width="0.8" stroke-dasharray="3.2,3.2"/>
<line x1="476.4" y1="136.3" x2="476.4" y2="264.6" stroke="#c6c6c6" stroke-width="0.8" stroke-dasharray="3.2,3.2"/>
<line x1="494.6" y1="136.3" x2="494.6" y2="264.6" stroke="#c6c6c6" stroke-width="0.8" stroke-dasharray="3.2,3.2"/>
<line x1="512.8" y1="136.3" x2="512.8" y2="264.6" stroke="#c6c6c6" stroke-width="0.8" stroke-dasharray="3.2,3.2"/>
<line x1="531.0" y1="136.3" x2="531.0" y2="264.6" stroke="#c6c6c6" stroke-width="0.8" stroke-dasharray="3.2,3.2"/>
<line x1="349" y1="149.4" x2="545" y2="149.4" stroke="#c6c6c6" stroke-width="0.8" stroke-dasharray="3.2,3.2"/>
<line x1="349" y1="166.8" x2="545" y2="166.8" stroke="#c6c6c6" stroke-width="0.8" stroke-dasharray="3.2,3.2"/>
<line x1="349" y1="184.1" x2="545" y2="184.1" stroke="#c6c6c6" stroke-width="0.8" stroke-dasharray="3.2,3.2"/>
<line x1="349" y1="218.7" x2="545" y2="218.7" stroke="#c6c6c6" stroke-width="0.8" stroke-dasharray="3.2,3.2"/>
<line x1="349" y1="236.0" x2="545" y2="236.0" stroke="#c6c6c6" stroke-width="0.8" stroke-dasharray="3.2,3.2"/>
<line x1="349" y1="253.4" x2="545" y2="253.4" stroke="#c6c6c6" stroke-width="0.8" stroke-dasharray="3.2,3.2"/>
<text x="344.6" y="151.8" font-size="6.8" fill="#222" stroke="#222" stroke-width="0.22" text-anchor="end" font-weight="normal" >0.6</text>
<line x1="345.6" y1="149.4" x2="349" y2="149.4" stroke="#222" stroke-width="0.8"/>
<text x="344.6" y="169.2" font-size="6.8" fill="#222" stroke="#222" stroke-width="0.22" text-anchor="end" font-weight="normal" >0.4</text>
<line x1="345.6" y1="166.8" x2="349" y2="166.8" stroke="#222" stroke-width="0.8"/>
<text x="344.6" y="186.5" font-size="6.8" fill="#222" stroke="#222" stroke-width="0.22" text-anchor="end" font-weight="normal" >0.2</text>
<line x1="345.6" y1="184.1" x2="349" y2="184.1" stroke="#222" stroke-width="0.8"/>
<text x="344.6" y="203.8" font-size="6.8" fill="#222" stroke="#222" stroke-width="0.22" text-anchor="end" font-weight="normal" >0.0</text>
<line x1="345.6" y1="201.4" x2="349" y2="201.4" stroke="#222" stroke-width="0.8"/>
<text x="344.6" y="221.1" font-size="6.8" fill="#222" stroke="#222" stroke-width="0.22" text-anchor="end" font-weight="normal" >-0.2</text>
<line x1="345.6" y1="218.7" x2="349" y2="218.7" stroke="#222" stroke-width="0.8"/>
<text x="344.6" y="238.4" font-size="6.8" fill="#222" stroke="#222" stroke-width="0.22" text-anchor="end" font-weight="normal" >-0.4</text>
<line x1="345.6" y1="236.0" x2="349" y2="236.0" stroke="#222" stroke-width="0.8"/>
<text x="344.6" y="255.8" font-size="6.8" fill="#222" stroke="#222" stroke-width="0.22" text-anchor="end" font-weight="normal" >-0.6</text>
<line x1="345.6" y1="253.4" x2="349" y2="253.4" stroke="#222" stroke-width="0.8"/>
<polyline points="349.0,201.0 350.0,190.0 352.0,180.3 353.3,177.5 354.7,174.9 356.0,171.9 357.3,170.7 358.7,168.9 360.0,166.9 361.2,165.4 362.5,163.2 363.8,162.3 365.0,160.4 366.2,158.6 367.5,157.3 368.8,156.5 370.0,154.7 371.2,153.4 372.5,152.2 373.8,151.1 375.0,150.1 376.3,150.2 377.7,149.2 379.0,149.7 380.3,149.1 381.7,149.2 383.0,148.8 384.2,148.6 385.4,149.6 386.6,149.5 387.9,149.9 389.1,150.7 390.3,151.6 391.5,151.9 392.7,152.0 393.9,153.1 395.1,153.6 396.3,153.4 397.6,154.1 398.8,154.8 400.0,155.5 401.2,155.2 402.4,156.1 403.6,157.0 404.8,157.1 406.0,157.7 407.3,158.2 408.5,158.4 409.7,158.6 410.9,159.4 412.1,159.8 413.3,160.1 414.5,161.1 415.7,161.1 417.0,161.6 418.2,162.4 419.4,162.9 420.6,163.5 421.8,163.7 423.0,163.8 424.2,164.8 425.4,165.4 426.7,165.6 427.9,166.2 429.1,166.4 430.3,166.8 431.5,167.4 432.7,167.4 433.9,168.4 435.1,169.1 436.4,168.9 437.6,169.9 438.8,170.3 440.0,170.2 441.2,170.6 442.4,171.5 443.6,171.6 444.8,172.1 446.0,172.8 447.2,173.2 448.4,173.7 449.6,174.0 450.8,174.1 452.0,174.2 453.2,174.7 454.4,175.2 455.6,176.0 456.8,176.6 458.0,176.5 459.2,177.1 460.5,178.0 461.7,177.9 462.9,178.6 464.1,179.0 465.3,179.4 466.5,179.6 467.7,180.1 468.9,180.7 470.1,180.6 471.3,181.6 472.5,182.1 473.7,181.7 474.9,182.2 476.1,182.7 477.3,183.0 478.5,183.4 479.7,184.3 480.9,184.2 482.1,184.6 483.3,185.9 484.5,185.8 485.7,186.3 486.9,186.6 488.1,186.9 489.3,187.5 490.5,187.6 491.7,188.4 492.9,188.5 494.1,188.8 495.3,189.3 496.5,189.9 497.7,190.8 498.9,190.9 500.2,191.7 501.4,191.5 502.6,191.8 503.8,192.7 505.0,192.5 506.2,193.8 507.4,193.6 508.6,193.9 509.8,194.3 511.0,194.7 512.2,195.8 513.4,196.2 514.6,196.2 515.8,196.3 517.0,196.5 518.2,197.0 519.4,197.6 520.7,198.1 521.9,198.3 523.2,198.8 524.4,198.9 525.7,198.7 526.9,199.2 528.2,199.1 529.4,199.6 530.7,199.3 532.0,200.3 533.2,199.5 534.5,200.3 535.7,200.3 537.0,200.9 538.2,200.4 539.5,201.4 540.7,200.7 542.0,201.4" fill="none" stroke="#10a46c" stroke-width="2.1" stroke-linejoin="round"/>
<polyline points="349.0,201.5 350.0,191.7 351.5,185.5 353.0,178.4 354.3,174.6 355.7,171.5 357.0,167.7 358.2,165.7 359.5,163.8 360.8,162.2 362.0,159.7 363.2,158.7 364.5,156.1 365.8,154.4 367.0,152.6 368.2,152.3 369.4,150.9 370.6,150.0 371.8,148.8 373.0,148.1 374.2,147.8 375.5,147.4 376.8,147.5 378.0,147.2 379.2,146.9 380.5,147.4 381.8,147.1 383.0,147.0 384.2,147.7 385.4,147.6 386.6,148.1 387.9,148.6 389.1,149.0 390.3,149.8 391.5,149.6 392.7,150.5 393.9,151.0 395.1,151.3 396.3,151.5 397.6,152.6 398.8,152.4 400.0,153.4 401.2,153.5 402.4,153.8 403.6,154.4 404.8,154.8 406.0,155.3 407.3,156.3 408.5,156.9 409.7,157.0 410.9,157.7 412.1,158.0 413.3,158.5 414.5,159.3 415.7,159.2 417.0,160.3 418.2,160.6 419.4,161.0 420.6,160.8 421.8,161.4 423.0,161.8 424.2,162.6 425.4,163.6 426.7,164.0 427.9,164.5 429.1,164.2 430.3,165.3 431.5,165.8 432.7,166.3 433.9,166.8 435.1,166.6 436.4,167.1 437.6,168.2 438.8,168.6 440.0,169.2 441.2,169.2 442.4,170.0 443.6,169.7 444.8,170.9 446.0,171.3 447.2,171.2 448.4,171.3 449.6,172.2 450.8,172.8 452.0,172.9 453.2,173.0 454.4,173.6 455.6,174.6 456.8,174.3 458.0,175.6 459.2,175.3 460.5,175.7 461.7,176.0 462.9,177.3 464.1,177.6 465.3,177.5 466.5,177.7 467.7,178.6 468.9,179.3 470.1,178.8 471.3,179.9 472.5,180.5 473.7,180.6 474.9,181.1 476.1,181.7 477.3,181.6 478.5,182.1 479.7,182.9 480.9,183.2 482.1,183.6 483.3,183.8 484.5,184.8 485.7,184.6 486.9,185.4 488.1,186.0 489.3,186.0 490.5,186.0 491.7,186.6 492.9,186.9 494.1,187.4 495.3,187.8 496.5,188.4 497.7,188.9 498.9,189.4 500.2,190.0 501.4,190.5 502.6,190.9 503.8,191.0 505.0,191.7 506.2,192.0 507.4,192.0 508.6,192.9 509.8,193.0 511.0,193.8 512.2,194.3 513.4,194.2 514.6,194.9 515.8,195.3 517.0,195.6 518.2,195.7 519.4,196.1 520.7,197.4 521.9,197.4 523.2,197.3 524.4,197.8 525.7,197.7 526.9,198.4 528.2,198.9 529.4,199.0 530.7,199.0 532.0,199.8 533.2,200.0 534.5,199.4 535.7,200.0 537.0,200.3 538.2,200.4 539.5,201.0 540.7,200.8 542.0,201.4" fill="none" stroke="#f04848" stroke-width="2.1" stroke-linejoin="round"/>
<polyline points="349.0,201.0 349.5,185.1 350.0,177.1 351.5,172.9 353.0,168.1 354.5,164.8 356.0,162.0 357.3,159.7 358.7,156.8 360.0,155.0 361.2,154.1 362.4,153.0 363.6,152.4 364.8,151.2 366.0,149.9 367.2,148.9 368.4,148.0 369.6,147.9 370.8,147.0 372.0,146.1 373.3,145.7 374.6,145.5 375.9,145.0 377.2,145.0 378.5,144.4 379.8,144.6 381.1,144.4 382.4,144.2 383.7,143.5 385.0,143.1 386.2,143.8 387.4,144.7 388.7,145.0 389.9,145.8 391.1,146.0 392.3,146.5 393.6,147.5 394.8,147.3 396.0,147.8 397.2,148.7 398.4,149.3 399.7,149.6 400.9,150.2 402.1,150.6 403.3,151.3 404.6,152.1 405.8,152.5 407.0,152.8 408.2,153.2 409.4,154.2 410.7,154.2 411.9,154.9 413.1,155.6 414.3,156.0 415.6,156.2 416.8,157.0 418.0,157.4 419.2,158.2 420.4,158.4 421.7,158.9 422.9,159.8 424.1,159.9 425.3,160.3 426.6,161.3 427.8,161.8 429.0,161.6 430.2,162.0 431.4,163.3 432.7,163.8 433.9,163.8 435.1,164.2 436.3,165.2 437.6,165.9 438.8,165.7 440.0,166.4 441.2,167.1 442.4,167.1 443.6,167.7 444.8,167.9 446.0,168.7 447.2,168.9 448.4,169.2 449.6,169.9 450.8,170.1 452.0,170.5 453.2,171.0 454.4,171.7 455.6,172.0 456.8,172.9 458.0,173.0 459.2,173.3 460.5,173.7 461.7,174.2 462.9,175.1 464.1,175.0 465.3,175.7 466.5,176.5 467.7,176.9 468.9,177.0 470.1,177.8 471.3,178.1 472.5,178.1 473.7,178.4 474.9,178.9 476.1,180.0 477.3,180.0 478.5,180.9 479.7,181.5 480.9,181.9 482.1,181.8 483.3,181.8 484.5,182.5 485.7,182.9 486.9,183.8 488.1,184.3 489.3,184.9 490.5,185.2 491.7,185.9 492.9,186.0 494.1,186.2 495.3,187.0 496.5,186.9 497.7,187.9 498.9,188.3 500.2,188.8 501.4,188.5 502.6,189.0 503.8,190.2 505.0,189.9 506.2,190.6 507.4,191.2 508.6,191.5 509.8,192.4 511.0,192.9 512.2,192.7 513.4,192.9 514.6,194.2 515.8,194.1 517.0,194.4 518.2,194.7 519.4,195.0 520.7,195.9 521.9,195.9 523.2,196.5 524.4,197.2 525.7,197.1 526.9,197.9 528.2,197.4 529.4,198.4 530.7,198.7 532.0,199.2 533.2,198.6 534.5,199.4 535.7,199.8 537.0,200.2 538.2,200.4 539.5,200.5 540.7,201.5 542.0,201.4" fill="none" stroke="#20b4a4" stroke-width="2.1" stroke-linejoin="round"/>
<polyline points="349.0,201.9 350.0,195.0 351.5,188.7 353.0,182.2 354.3,177.7 355.7,173.6 357.0,170.1 358.3,166.3 359.7,163.2 361.0,160.4 362.2,158.4 363.5,155.6 364.8,153.6 366.0,151.7 367.2,151.1 368.4,149.1 369.6,148.1 370.8,146.8 372.0,145.6 373.3,145.6 374.5,144.8 375.8,144.5 377.1,144.4 378.4,144.0 379.6,143.2 380.9,143.1 382.2,142.4 383.5,142.2 384.7,141.2 386.0,140.9 387.2,141.6 388.4,142.5 389.6,142.6 390.8,143.0 392.0,143.3 393.2,143.8 394.4,144.2 395.6,145.5 396.8,145.9 398.0,146.4 399.2,146.6 400.4,147.2 401.6,147.3 402.8,148.0 404.0,148.2 405.2,149.0 406.4,149.3 407.6,149.6 408.8,151.0 410.0,150.6 411.2,151.9 412.4,152.2 413.6,152.1 414.8,153.0 416.0,154.1 417.2,154.5 418.4,154.6 419.6,155.3 420.8,155.8 422.0,155.9 423.2,156.6 424.4,157.2 425.6,157.5 426.8,158.4 428.0,158.5 429.2,159.3 430.4,159.1 431.6,160.0 432.8,160.1 434.0,161.2 435.2,162.0 436.4,162.1 437.6,162.7 438.8,163.2 440.0,163.3 441.2,163.9 442.4,164.6 443.6,165.1 444.8,165.3 446.0,165.8 447.2,166.1 448.4,166.8 449.6,167.4 450.8,167.5 452.0,168.3 453.2,168.9 454.4,169.1 455.6,170.0 456.8,169.8 458.0,170.8 459.2,170.5 460.5,171.2 461.7,172.1 462.9,171.7 464.1,172.8 465.3,173.5 466.5,174.0 467.7,174.2 468.9,174.3 470.1,174.8 471.3,175.5 472.5,175.4 473.7,175.8 474.9,177.1 476.1,177.3 477.3,177.3 478.5,178.0 479.7,178.3 480.9,179.4 482.1,179.2 483.3,180.1 484.5,180.6 485.7,180.6 486.9,181.0 488.1,181.7 489.3,182.1 490.5,182.7 491.7,182.9 492.9,183.8 494.1,183.9 495.3,184.1 496.5,185.2 497.7,185.7 498.9,186.0 500.2,186.3 501.4,187.1 502.6,187.6 503.8,187.1 505.0,188.1 506.2,188.0 507.4,188.8 508.6,189.2 509.8,189.8 511.0,190.5 512.2,191.1 513.4,191.0 514.6,191.2 515.8,192.6 517.0,192.9 518.2,193.1 519.4,193.1 520.7,193.5 521.9,194.8 523.2,194.8 524.4,195.6 525.7,196.0 526.9,196.4 528.2,196.9 529.4,196.8 530.7,197.2 532.0,197.8 533.2,198.6 534.5,199.1 535.7,199.5 537.0,199.7 538.2,200.1 539.5,200.2 540.7,201.1 542.0,201.4" fill="none" stroke="#f4e828" stroke-width="2.1" stroke-linejoin="round"/>
<polyline points="349.0,201.9 350.0,193.4 351.5,186.7 353.0,179.7 354.3,175.8 355.7,172.2 357.0,168.3 358.2,165.0 359.5,162.7 360.8,160.9 362.0,157.6 363.2,156.6 364.4,154.6 365.6,153.3 366.8,152.0 368.0,150.1 369.2,148.9 370.4,147.8 371.6,147.1 372.8,146.1 374.0,144.9 375.2,144.5 376.4,144.1 377.6,143.3 378.8,142.8 380.0,142.7 381.2,141.7 382.4,141.7 383.6,141.5 384.8,141.0 386.0,140.0 387.2,140.6 388.4,141.6 389.6,141.5 390.8,142.7 392.0,142.4 393.2,143.5 394.4,143.2 395.6,144.3 396.8,145.0 398.0,145.2 399.2,145.8 400.4,146.6 401.6,147.2 402.8,146.8 404.0,147.7 405.2,147.7 406.4,148.5 407.6,148.8 408.8,149.3 410.0,150.3 411.2,150.2 412.4,150.8 413.6,151.2 414.8,152.5 416.0,152.4 417.2,152.7 418.4,153.8 419.6,154.4 420.8,154.8 422.0,155.2 423.2,155.7 424.4,156.3 425.6,156.4 426.8,157.5 428.0,157.8 429.2,158.5 430.4,159.0 431.6,159.5 432.8,159.6 434.0,160.1 435.2,160.8 436.4,161.2 437.6,161.1 438.8,162.5 440.0,162.3 441.2,163.0 442.4,163.5 443.6,163.6 444.8,164.5 446.0,165.0 447.2,165.6 448.4,165.9 449.6,166.0 450.8,166.7 452.0,167.6 453.2,167.7 454.4,168.4 455.6,168.0 456.8,169.1 458.0,169.1 459.2,169.5 460.5,170.1 461.7,170.4 462.9,170.8 464.1,171.4 465.3,171.8 466.5,172.3 467.7,173.3 468.9,173.1 470.1,173.6 471.3,173.9 472.5,174.8 473.7,175.0 474.9,175.8 476.1,175.9 477.3,176.3 478.5,177.1 479.7,177.1 480.9,178.4 482.1,178.5 483.3,178.8 484.5,179.4 485.7,180.3 486.9,180.3 488.1,180.6 489.3,180.9 490.5,181.5 491.7,182.4 492.9,182.6 494.1,182.8 495.3,183.8 496.5,183.5 497.7,184.2 498.9,185.1 500.2,185.7 501.4,185.7 502.6,185.7 503.8,186.7 505.0,187.0 506.2,187.0 507.4,187.8 508.6,188.8 509.8,188.4 511.0,189.0 512.2,189.4 513.4,190.5 514.6,190.5 515.8,191.3 517.0,191.8 518.2,191.6 519.4,192.4 520.7,192.6 521.9,193.8 523.2,194.0 524.4,194.3 525.7,195.3 526.9,195.8 528.2,195.5 529.4,196.1 530.7,196.8 532.0,197.3 533.2,197.9 534.5,198.4 535.7,199.4 537.0,199.6 538.2,200.4 539.5,200.5 540.7,200.6 542.0,201.4" fill="none" stroke="#f88a52" stroke-width="2.1" stroke-linejoin="round"/>
<polyline points="349.0,201.8 350.0,189.8 352.0,176.3 353.5,170.0 355.0,162.8 356.0,155.8 357.2,154.7 358.4,154.0 359.6,153.5 362.0,150.3 363.5,147.8 365.0,146.6 366.5,145.1 368.0,143.7 369.3,142.3 370.7,140.6 372.0,139.0 373.2,139.3 374.4,139.3 375.6,138.6 376.8,139.3 378.0,138.9 379.2,139.2 380.4,139.0 381.6,138.7 382.8,138.4 384.0,139.0 385.2,139.6 386.4,139.7 387.7,139.7 388.9,140.9 390.1,141.4 391.3,142.0 392.5,142.6 393.7,143.1 395.0,143.3 396.2,143.5 397.4,144.1 398.6,144.6 399.8,145.4 401.0,145.7 402.3,146.4 403.5,146.6 404.7,147.2 405.9,148.1 407.1,148.4 408.3,149.0 409.6,149.3 410.8,149.2 412.0,150.0 413.2,150.4 414.4,150.9 415.7,151.2 416.9,151.7 418.1,152.6 419.3,153.4 420.5,154.0 421.7,154.6 423.0,154.7 424.2,154.6 425.4,155.3 426.6,155.7 427.8,157.0 429.0,156.9 430.3,157.8 431.5,158.1 432.7,158.7 433.9,159.5 435.1,159.8 436.3,159.7 437.6,160.7 438.8,161.0 440.0,162.1 441.2,161.8 442.4,162.2 443.6,163.4 444.8,163.3 446.0,163.4 447.2,164.6 448.4,165.1 449.6,165.2 450.8,165.3 452.0,166.4 453.2,166.3 454.4,166.7 455.6,166.9 456.8,168.2 458.0,168.0 459.2,168.3 460.5,169.0 461.7,169.8 462.9,170.6 464.1,170.2 465.3,171.1 466.5,171.2 467.7,172.2 468.9,172.3 470.1,172.9 471.3,173.5 472.5,173.7 473.7,174.0 474.9,174.0 476.1,174.6 477.3,175.6 478.5,176.1 479.7,176.4 480.9,176.3 482.1,177.4 483.3,178.0 484.5,178.4 485.7,178.8 486.9,179.1 488.1,179.3 489.3,179.7 490.5,180.0 491.7,180.9 492.9,181.0 494.1,182.0 495.3,181.8 496.5,182.3 497.7,182.6 498.9,183.2 500.2,184.2 501.4,184.6 502.6,185.2 503.8,184.7 505.0,185.8 506.2,186.2 507.4,186.4 508.6,187.4 509.8,187.6 511.0,187.7 512.2,188.7 513.4,188.7 514.6,189.2 515.8,189.6 517.0,190.1 518.2,190.1 519.4,191.3 520.7,191.4 521.9,192.1 523.2,192.4 524.4,193.4 525.7,193.5 526.9,194.0 528.2,194.8 529.4,196.0 530.7,196.4 532.0,197.0 533.2,196.9 534.5,197.9 535.7,198.7 537.0,199.3 538.2,199.6 539.5,199.8 540.7,200.7 542.0,201.4" fill="none" stroke="#b8309a" stroke-width="2.1" stroke-linejoin="round"/>
<polyline points="349.0,201.6 350.0,188.4 351.5,179.5 353.0,172.4 354.3,168.3 355.7,163.6 357.0,160.3 358.2,158.3 359.5,155.7 360.8,154.5 362.0,151.9 363.2,150.6 364.4,149.4 365.6,148.0 366.8,146.6 368.0,144.8 369.4,144.0 370.8,142.6 372.2,141.8 373.6,141.0 375.0,139.6 376.2,139.6 377.4,139.9 378.7,139.0 379.9,139.0 381.1,138.4 382.3,138.9 383.6,138.0 384.8,137.9 386.0,138.2 387.2,138.5 388.4,139.1 389.6,139.7 390.8,140.1 392.0,140.5 393.2,140.7 394.4,141.3 395.6,141.8 396.8,142.4 398.0,143.0 399.2,144.1 400.4,143.9 401.6,144.3 402.8,145.0 404.0,145.4 405.2,146.6 406.4,147.2 407.6,147.5 408.8,148.2 410.0,148.4 411.2,148.8 412.4,149.2 413.6,150.0 414.8,150.1 416.0,150.9 417.2,151.3 418.4,152.1 419.6,152.8 420.8,153.1 422.0,153.1 423.2,154.1 424.4,154.7 425.6,155.1 426.8,155.1 428.0,155.6 429.2,156.6 430.4,157.3 431.6,157.6 432.8,158.3 434.0,158.7 435.2,159.5 436.4,159.4 437.6,160.5 438.8,160.9 440.0,160.8 441.2,161.4 442.4,161.9 443.6,162.8 444.8,163.1 446.0,163.0 447.2,164.1 448.4,164.1 449.6,165.2 450.8,165.0 452.0,165.3 453.2,166.0 454.4,166.5 455.6,167.0 456.8,167.5 458.0,167.5 459.2,168.1 460.5,168.4 461.7,169.8 462.9,169.7 464.1,170.0 465.3,170.3 466.5,171.2 467.7,171.0 468.9,171.6 470.1,172.6 471.3,172.9 472.5,173.5 473.7,174.1 474.9,174.0 476.1,174.9 477.3,175.4 478.5,175.9 479.7,176.0 480.9,176.7 482.1,176.4 483.3,177.0 484.5,177.9 485.7,178.3 486.9,178.8 488.1,179.1 489.3,179.1 490.5,179.9 491.7,180.2 492.9,181.1 494.1,181.1 495.3,182.1 496.5,182.3 497.7,182.6 498.9,183.3 500.2,184.0 501.4,183.9 502.6,184.1 503.8,185.3 505.0,185.2 506.2,186.3 507.4,186.3 508.6,186.7 509.8,187.6 511.0,187.3 512.2,188.5 513.4,188.3 514.6,189.3 515.8,189.9 517.0,190.2 518.2,190.2 519.4,191.3 520.7,191.4 521.9,191.8 523.2,192.4 524.4,192.7 525.7,193.9 526.9,194.3 528.2,195.0 529.4,195.9 530.7,196.0 532.0,196.2 533.2,197.4 534.5,197.5 535.7,198.6 537.0,199.1 538.2,199.6 539.5,200.4 540.7,200.4 542.0,201.4" fill="none" stroke="#6a56b8" stroke-width="2.1" stroke-linejoin="round"/>
<polyline points="349.0,201.1 350.0,186.1 351.5,178.5 353.0,170.2 354.3,166.0 355.7,161.8 357.0,157.6 358.2,156.5 359.5,154.3 360.8,151.8 362.0,150.1 363.2,149.0 364.4,148.0 365.6,146.2 366.8,145.0 368.0,143.7 369.4,143.2 370.8,142.6 372.2,141.5 373.6,140.0 375.0,139.4 376.2,138.9 377.4,138.7 378.7,138.9 379.9,138.3 381.1,138.2 382.3,138.0 383.6,137.9 384.8,138.2 386.0,137.3 387.2,138.2 388.4,138.5 389.6,139.0 390.8,139.5 392.0,140.5 393.2,141.1 394.4,141.5 395.6,142.1 396.8,142.5 398.0,142.6 399.2,143.1 400.4,143.9 401.6,144.5 402.8,145.2 404.0,145.8 405.2,146.2 406.4,146.9 407.6,147.1 408.8,147.7 410.0,148.3 411.2,148.5 412.4,149.3 413.6,149.9 414.8,150.1 416.0,150.4 417.2,151.0 418.4,151.8 419.6,152.2 420.8,152.7 422.0,153.1 423.2,154.0 424.4,154.4 425.6,155.2 426.8,155.7 428.0,155.3 429.2,156.2 430.4,157.1 431.6,157.4 432.8,158.0 434.0,158.2 435.2,158.8 436.4,159.8 437.6,160.1 438.8,160.9 440.0,161.4 441.2,161.9 442.4,162.3 443.6,162.7 444.8,163.2 446.0,163.6 447.2,163.6 448.4,164.0 449.6,164.5 450.8,165.3 452.0,165.9 453.2,166.1 454.4,166.3 455.6,166.4 456.8,166.8 458.0,167.2 459.2,167.8 460.5,168.0 461.7,168.9 462.9,169.2 464.1,170.3 465.3,170.0 466.5,170.4 467.7,171.6 468.9,172.1 470.1,172.1 471.3,172.6 472.5,172.8 473.7,173.3 474.9,173.7 476.1,173.9 477.3,175.2 478.5,175.6 479.7,176.0 480.9,175.7 482.1,176.7 483.3,176.5 484.5,177.6 485.7,177.4 486.9,178.4 488.1,178.4 489.3,179.7 490.5,180.1 491.7,180.0 492.9,181.0 494.1,181.3 495.3,181.1 496.5,182.2 497.7,182.7 498.9,182.5 500.2,183.4 501.4,183.4 502.6,183.6 503.8,184.5 505.0,184.6 506.2,185.7 507.4,186.1 508.6,186.0 509.8,186.7 511.0,186.8 512.2,187.5 513.4,188.2 514.6,188.9 515.8,189.4 517.0,189.5 518.2,189.8 519.4,190.7 520.7,191.0 521.9,191.8 523.2,192.0 524.4,193.2 525.7,193.1 526.9,193.9 528.2,194.3 529.4,195.1 530.7,196.0 532.0,196.9 533.2,196.6 534.5,197.8 535.7,198.0 537.0,199.3 538.2,199.8 539.5,200.6 540.7,201.2 542.0,201.4" fill="none" stroke="#c4bcec" stroke-width="2.1" stroke-linejoin="round"/>
<polyline points="349.0,201.1 350.3,201.8 351.5,202.0 352.8,202.7 354.0,203.6 355.3,204.1 356.6,204.4 357.8,205.1 359.1,205.4 360.3,206.2 361.6,206.5 362.8,206.6 364.1,207.5 365.4,208.0 366.6,208.6 367.9,208.9 369.2,209.8 370.5,210.0 371.7,210.7 373.0,211.2 374.3,211.8 375.6,212.3 376.8,213.3 378.1,213.8 379.4,213.9 380.7,214.9 381.9,215.1 383.2,216.1 384.5,216.5 385.8,217.2 387.0,217.9 388.3,218.5 389.6,219.0 390.9,219.3 392.2,219.7 393.4,220.7 394.7,221.2 396.0,222.0 397.3,222.6 398.6,222.6 399.8,223.4 401.1,224.2 402.4,224.5 403.7,225.5 404.9,225.4 406.2,226.3 407.5,227.2 408.8,227.8 410.0,228.0 411.3,228.4 412.6,229.3 413.9,229.6 415.1,230.5 416.4,230.8 417.7,231.2 419.0,232.1 420.2,232.8 421.5,233.2 422.8,233.8 424.0,234.4 425.3,234.9 426.6,235.0 427.9,235.9 429.1,236.8 430.4,237.1 431.7,237.9 433.0,238.5 434.2,238.4 435.5,239.5 436.8,239.8 438.1,240.0 439.3,240.7 440.6,241.5 441.9,242.0 443.2,242.9 444.4,243.0 445.7,243.9 447.0,244.1 448.3,245.1 449.6,245.7 450.8,245.5 452.1,246.6 453.4,246.6 454.7,247.3 456.0,248.3 457.2,248.5 458.5,248.7 459.8,249.2 461.0,250.5 462.3,250.9 463.5,251.5 464.8,251.4 466.0,251.9 467.3,252.7 468.5,252.7 469.8,253.6 471.0,253.8 472.2,254.3 473.5,255.2 474.7,255.3 476.0,256.4 477.2,256.6 478.5,257.1 479.7,257.6 480.9,257.6 482.2,258.4 483.4,258.0 484.6,259.0 485.9,259.0 487.1,259.3 488.4,259.5 489.6,259.7 490.8,259.8 492.1,260.3 493.3,260.8 494.6,260.8 495.8,261.5 497.0,261.7 498.3,261.4 499.5,261.8 500.7,262.4 502.0,262.3 503.2,262.0 504.5,262.4 505.7,262.5 506.9,262.7 508.2,262.5 509.4,263.0 510.7,262.3 511.9,263.1 513.2,263.0 514.4,262.8 515.9,260.2 517.4,257.8 518.7,257.6 520.0,256.9 521.3,256.1 522.7,255.1 524.0,254.4 525.3,254.1 526.5,252.3 527.7,250.9 528.9,249.2 530.1,247.9 531.3,246.6 532.8,242.4 534.2,237.3 535.7,233.0 537.2,228.6 538.5,223.2 539.9,218.1 541.2,212.5 543.2,201.4" fill="none" stroke="#f4a034" stroke-width="2.1" stroke-linejoin="round"/>
<polyline points="349.0,201.7 350.3,201.9 351.5,202.0 352.8,202.1 354.0,202.9 355.3,203.6 356.6,203.4 357.8,204.1 359.1,203.7 360.3,204.5 361.6,204.5 362.8,205.2 364.1,205.6 365.4,206.1 366.7,205.9 367.9,206.5 369.2,206.2 370.5,206.2 371.8,206.7 373.0,207.2 374.3,207.4 375.6,206.9 376.9,207.8 378.1,208.5 379.4,209.3 380.7,210.4 381.9,210.4 383.2,210.8 384.5,212.2 385.8,212.7 387.0,213.1 388.3,212.9 389.6,213.6 390.9,214.0 392.2,215.3 393.4,215.0 394.7,215.5 396.0,216.1 397.3,217.2 398.6,217.1 399.8,218.4 401.1,218.2 402.4,219.1 403.7,219.1 404.9,219.7 406.2,220.8 407.5,221.4 408.8,221.2 410.0,221.8 411.3,222.0 412.6,222.6 413.9,223.3 415.1,224.0 416.4,224.5 417.7,224.8 419.0,225.1 420.2,226.0 421.5,226.3 422.8,226.9 424.0,228.1 425.3,228.3 426.6,228.3 427.9,229.9 429.1,230.4 430.4,230.4 431.7,231.6 433.0,231.3 434.2,232.7 435.5,232.5 436.8,233.8 438.1,234.2 439.3,235.1 440.6,235.0 441.9,235.8 443.2,236.6 444.4,236.3 445.7,236.9 447.0,237.7 448.3,237.8 449.6,238.2 450.8,238.7 452.1,239.5 453.4,240.3 454.7,240.6 456.0,241.2 457.2,241.1 458.5,241.7 459.8,242.7 461.0,242.7 462.3,243.0 463.5,243.5 464.8,244.5 466.0,245.2 467.3,245.2 468.5,245.2 469.8,245.8 471.0,246.7 472.2,247.3 473.5,247.1 474.7,247.8 476.0,247.8 477.2,248.8 478.5,249.4 479.7,249.6 480.9,250.1 482.1,249.8 483.4,250.4 484.6,250.5 485.8,250.8 487.0,250.5 488.3,251.1 489.5,251.5 490.7,251.3 491.9,251.9 493.2,251.6 494.4,252.2 495.6,252.9 496.9,252.8 498.2,252.8 499.5,253.3 500.8,253.3 502.1,253.2 503.3,253.2 504.6,253.9 505.9,253.7 507.2,253.7 508.5,253.8 509.9,252.5 511.3,251.5 512.6,250.8 514.0,249.7 515.4,248.9 516.7,246.5 518.1,244.5 519.4,242.7 520.9,241.4 522.3,241.1 523.8,239.8 525.3,238.5 526.5,237.3 527.7,236.2 528.9,235.0 530.1,233.3 531.3,232.1 532.8,229.3 534.2,226.1 535.7,223.4 537.2,220.8 538.7,216.4 540.2,213.0 542.2,202.0" fill="none" stroke="#28bce6" stroke-width="2.1" stroke-linejoin="round"/>
<line x1="349" y1="201.4" x2="545" y2="201.4" stroke="#1a1a1a" stroke-width="1"/>
<rect x="311" y="265.9" width="4.4" height="4.4" fill="#f4a034"/>
<text x="317" y="270.2" font-size="5.8" fill="#333" stroke="#333" stroke-width="0.22" text-anchor="start" font-weight="normal" >KO00280</text>
<rect x="390" y="265.7" width="1" height="9.8" fill="#f7c17b"/>
<rect x="413" y="265.7" width="1" height="9.8" fill="#f4a034"/>
<rect x="435" y="265.7" width="1" height="9.8" fill="#f7c17b"/>
<rect x="454" y="265.7" width="1" height="9.8" fill="#f7c17b"/>
<rect x="476" y="265.7" width="1" height="9.8" fill="#f5ae52"/>
<rect x="477" y="265.7" width="1" height="9.8" fill="#f9cf99"/>
<rect x="478" y="265.7" width="1" height="9.8" fill="#f4a034"/>
<rect x="480" y="265.7" width="1" height="9.8" fill="#f5ae52"/>
<rect x="482" y="265.7" width="1" height="9.8" fill="#f5ae52"/>
<rect x="483" y="265.7" width="1" height="9.8" fill="#f7c17b"/>
<rect x="484" y="265.7" width="1" height="9.8" fill="#f5ae52"/>
<rect x="485" y="265.7" width="1" height="9.8" fill="#f4a034"/>
<rect x="486" y="265.7" width="1" height="9.8" fill="#f4a034"/>
<rect x="487" y="265.7" width="1" height="9.8" fill="#f9cf99"/>
<rect x="493" y="265.7" width="1" height="9.8" fill="#f4a034"/>
<rect x="497" y="265.7" width="1" height="9.8" fill="#f4a034"/>
<rect x="498" y="265.7" width="1" height="9.8" fill="#f5ae52"/>
<rect x="499" y="265.7" width="1" height="9.8" fill="#f4a034"/>
<rect x="503" y="265.7" width="1" height="9.8" fill="#f7c17b"/>
<rect x="507" y="265.7" width="1" height="9.8" fill="#f4a034"/>
<rect x="511" y="265.7" width="1" height="9.8" fill="#f4a034"/>
<rect x="513" y="265.7" width="1" height="9.8" fill="#f4a034"/>
<rect x="514" y="265.7" width="1" height="9.8" fill="#f4a034"/>
<rect x="518" y="265.7" width="1" height="9.8" fill="#f4a034"/>
<rect x="519" y="265.7" width="1" height="9.8" fill="#f4a034"/>
<rect x="521" y="265.7" width="1" height="9.8" fill="#f5ae52"/>
<rect x="524" y="265.7" width="1" height="9.8" fill="#f5ae52"/>
<rect x="526" y="265.7" width="1" height="9.8" fill="#f4a034"/>
<rect x="527" y="265.7" width="1" height="9.8" fill="#f4a034"/>
<rect x="530" y="265.7" width="1" height="9.8" fill="#f7c17b"/>
<rect x="532" y="265.7" width="1" height="9.8" fill="#f5ae52"/>
<rect x="533" y="265.7" width="1" height="9.8" fill="#f5ae52"/>
<rect x="534" y="265.7" width="1" height="9.8" fill="#f5ae52"/>
<rect x="535" y="265.7" width="1" height="9.8" fill="#f4a034"/>
<rect x="536" y="265.7" width="1" height="9.8" fill="#f7c17b"/>
<rect x="537" y="265.7" width="1" height="9.8" fill="#f7c17b"/>
<rect x="538" y="265.7" width="1" height="9.8" fill="#f5ae52"/>
<rect x="541" y="265.7" width="1" height="9.8" fill="#f4a034"/>
<rect x="542" y="265.7" width="1" height="9.8" fill="#f9cf99"/>
<rect x="544" y="265.7" width="1" height="9.8" fill="#f7c17b"/>
<rect x="311" y="277.3" width="4.4" height="4.4" fill="#28bce6"/>
<text x="317" y="281.6" font-size="5.8" fill="#333" stroke="#333" stroke-width="0.22" text-anchor="start" font-weight="normal" >KO01200</text>
<rect x="352" y="276.4" width="1" height="9.8" fill="#28bce6"/>
<rect x="358" y="276.4" width="1" height="9.8" fill="#48c6e9"/>
<rect x="362" y="276.4" width="1" height="9.8" fill="#28bce6"/>
<rect x="369" y="276.4" width="1" height="9.8" fill="#93ddf2"/>
<rect x="373" y="276.4" width="1" height="9.8" fill="#28bce6"/>
<rect x="374" y="276.4" width="1" height="9.8" fill="#93ddf2"/>
<rect x="377" y="276.4" width="1" height="9.8" fill="#28bce6"/>
<rect x="385" y="276.4" width="1" height="9.8" fill="#28bce6"/>
<rect x="390" y="276.4" width="1" height="9.8" fill="#48c6e9"/>
<rect x="399" y="276.4" width="1" height="9.8" fill="#28bce6"/>
<rect x="407" y="276.4" width="1" height="9.8" fill="#73d3ee"/>
<rect x="409" y="276.4" width="1" height="9.8" fill="#28bce6"/>
<rect x="418" y="276.4" width="1" height="9.8" fill="#73d3ee"/>
<rect x="435" y="276.4" width="1" height="9.8" fill="#28bce6"/>
<rect x="438" y="276.4" width="1" height="9.8" fill="#28bce6"/>
<rect x="441" y="276.4" width="1" height="9.8" fill="#73d3ee"/>
<rect x="446" y="276.4" width="1" height="9.8" fill="#48c6e9"/>
<rect x="453" y="276.4" width="1" height="9.8" fill="#28bce6"/>
<rect x="456" y="276.4" width="1" height="9.8" fill="#93ddf2"/>
<rect x="463" y="276.4" width="1" height="9.8" fill="#28bce6"/>
<rect x="465" y="276.4" width="1" height="9.8" fill="#73d3ee"/>
<rect x="468" y="276.4" width="1" height="9.8" fill="#28bce6"/>
<rect x="482" y="276.4" width="1" height="9.8" fill="#48c6e9"/>
<rect x="484" y="276.4" width="1" height="9.8" fill="#48c6e9"/>
<rect x="486" y="276.4" width="1" height="9.8" fill="#28bce6"/>
<rect x="490" y="276.4" width="1" height="9.8" fill="#28bce6"/>
<rect x="495" y="276.4" width="1" height="9.8" fill="#48c6e9"/>
<rect x="500" y="276.4" width="1" height="9.8" fill="#28bce6"/>
<rect x="501" y="276.4" width="1" height="9.8" fill="#28bce6"/>
<rect x="503" y="276.4" width="1" height="9.8" fill="#73d3ee"/>
<rect x="471" y="276.4" width="1" height="9.8" fill="#93ddf2"/>
<rect x="472" y="276.4" width="1" height="9.8" fill="#28bce6"/>
<rect x="473" y="276.4" width="1" height="9.8" fill="#28bce6"/>
<rect x="474" y="276.4" width="1" height="9.8" fill="#28bce6"/>
<rect x="475" y="276.4" width="1" height="9.8" fill="#28bce6"/>
<rect x="476" y="276.4" width="1" height="9.8" fill="#28bce6"/>
<rect x="509" y="276.4" width="1" height="9.8" fill="#93ddf2"/>
<rect x="511" y="276.4" width="1" height="9.8" fill="#73d3ee"/>
<rect x="513" y="276.4" width="1" height="9.8" fill="#93ddf2"/>
<rect x="514" y="276.4" width="1" height="9.8" fill="#28bce6"/>
<rect x="515" y="276.4" width="1" height="9.8" fill="#28bce6"/>
<rect x="518" y="276.4" width="1" height="9.8" fill="#73d3ee"/>
<rect x="519" y="276.4" width="1" height="9.8" fill="#48c6e9"/>
<rect x="521" y="276.4" width="1" height="9.8" fill="#73d3ee"/>
<rect x="525" y="276.4" width="1" height="9.8" fill="#28bce6"/>
<rect x="526" y="276.4" width="1" height="9.8" fill="#48c6e9"/>
<rect x="527" y="276.4" width="1" height="9.8" fill="#93ddf2"/>
<rect x="529" y="276.4" width="1" height="9.8" fill="#28bce6"/>
<rect x="530" y="276.4" width="1" height="9.8" fill="#28bce6"/>
<rect x="533" y="276.4" width="1" height="9.8" fill="#28bce6"/>
<rect x="535" y="276.4" width="1" height="9.8" fill="#28bce6"/>
<rect x="537" y="276.4" width="1" height="9.8" fill="#28bce6"/>
<rect x="538" y="276.4" width="1" height="9.8" fill="#28bce6"/>
<rect x="540" y="276.4" width="1" height="9.8" fill="#28bce6"/>
<rect x="541" y="276.4" width="1" height="9.8" fill="#28bce6"/>
<rect x="542" y="276.4" width="1" height="9.8" fill="#48c6e9"/>
<rect x="543" y="276.4" width="1" height="9.8" fill="#28bce6"/>
<rect x="544" y="276.4" width="1" height="9.8" fill="#48c6e9"/>
<rect x="311" y="288.6" width="4.4" height="4.4" fill="#f04848"/>
<text x="317" y="292.9" font-size="5.8" fill="#333" stroke="#333" stroke-width="0.22" text-anchor="start" font-weight="normal" >KO04672</text>
<rect x="350" y="287.2" width="1" height="9.8" fill="#f7a3a3"/>
<rect x="351" y="287.2" width="1" height="9.8" fill="#f04848"/>
<rect x="352" y="287.2" width="1" height="9.8" fill="#f7a3a3"/>
<rect x="353" y="287.2" width="1" height="9.8" fill="#f58888"/>
<rect x="354" y="287.2" width="1" height="9.8" fill="#f7a3a3"/>
<rect x="355" y="287.2" width="1" height="9.8" fill="#f26363"/>
<rect x="356" y="287.2" width="1" height="9.8" fill="#f04848"/>
<rect x="357" y="287.2" width="1" height="9.8" fill="#f58888"/>
<rect x="358" y="287.2" width="1" height="9.8" fill="#f58888"/>
<rect x="360" y="287.2" width="1" height="9.8" fill="#f04848"/>
<rect x="361" y="287.2" width="1" height="9.8" fill="#f26363"/>
<rect x="362" y="287.2" width="1" height="9.8" fill="#f04848"/>
<rect x="363" y="287.2" width="1" height="9.8" fill="#f04848"/>
<rect x="364" y="287.2" width="1" height="9.8" fill="#f26363"/>
<rect x="366" y="287.2" width="1" height="9.8" fill="#f04848"/>
<rect x="367" y="287.2" width="1" height="9.8" fill="#f26363"/>
<rect x="368" y="287.2" width="1" height="9.8" fill="#f7a3a3"/>
<rect x="370" y="287.2" width="1" height="9.8" fill="#f04848"/>
<rect x="371" y="287.2" width="1" height="9.8" fill="#f7a3a3"/>
<rect x="372" y="287.2" width="1" height="9.8" fill="#f7a3a3"/>
<rect x="373" y="287.2" width="1" height="9.8" fill="#f7a3a3"/>
<rect x="374" y="287.2" width="1" height="9.8" fill="#f7a3a3"/>
<rect x="375" y="287.2" width="1" height="9.8" fill="#f26363"/>
<rect x="376" y="287.2" width="1" height="9.8" fill="#f04848"/>
<rect x="377" y="287.2" width="1" height="9.8" fill="#f04848"/>
<rect x="378" y="287.2" width="1" height="9.8" fill="#f04848"/>
<rect x="379" y="287.2" width="1" height="9.8" fill="#f04848"/>
<rect x="380" y="287.2" width="1" height="9.8" fill="#f58888"/>
<rect x="381" y="287.2" width="1" height="9.8" fill="#f26363"/>
<rect x="382" y="287.2" width="1" height="9.8" fill="#f7a3a3"/>
<rect x="383" y="287.2" width="1" height="9.8" fill="#f58888"/>
<rect x="385" y="287.2" width="1" height="9.8" fill="#f04848"/>
<rect x="386" y="287.2" width="1" height="9.8" fill="#f58888"/>
<rect x="387" y="287.2" width="1" height="9.8" fill="#f04848"/>
<rect x="388" y="287.2" width="1" height="9.8" fill="#f04848"/>
<rect x="389" y="287.2" width="1" height="9.8" fill="#f04848"/>
<rect x="390" y="287.2" width="1" height="9.8" fill="#f26363"/>
<rect x="392" y="287.2" width="1" height="9.8" fill="#f58888"/>
<rect x="393" y="287.2" width="1" height="9.8" fill="#f7a3a3"/>
<rect x="394" y="287.2" width="1" height="9.8" fill="#f26363"/>
<rect x="399" y="287.2" width="1" height="9.8" fill="#f58888"/>
<rect x="402" y="287.2" width="1" height="9.8" fill="#f58888"/>
<rect x="406" y="287.2" width="1" height="9.8" fill="#f04848"/>
<rect x="413" y="287.2" width="1" height="9.8" fill="#f04848"/>
<rect x="414" y="287.2" width="1" height="9.8" fill="#f58888"/>
<rect x="417" y="287.2" width="1" height="9.8" fill="#f04848"/>
<rect x="418" y="287.2" width="1" height="9.8" fill="#f04848"/>
<rect x="422" y="287.2" width="1" height="9.8" fill="#f7a3a3"/>
<rect x="427" y="287.2" width="1" height="9.8" fill="#f26363"/>
<rect x="429" y="287.2" width="1" height="9.8" fill="#f26363"/>
<rect x="430" y="287.2" width="1" height="9.8" fill="#f04848"/>
<rect x="437" y="287.2" width="1" height="9.8" fill="#f04848"/>
<rect x="447" y="287.2" width="1" height="9.8" fill="#f04848"/>
<rect x="452" y="287.2" width="1" height="9.8" fill="#f26363"/>
<rect x="454" y="287.2" width="1" height="9.8" fill="#f58888"/>
<rect x="457" y="287.2" width="1" height="9.8" fill="#f7a3a3"/>
<rect x="461" y="287.2" width="1" height="9.8" fill="#f04848"/>
<rect x="464" y="287.2" width="1" height="9.8" fill="#f04848"/>
<rect x="469" y="287.2" width="1" height="9.8" fill="#f7a3a3"/>
<rect x="470" y="287.2" width="1" height="9.8" fill="#f58888"/>
<rect x="476" y="287.2" width="1" height="9.8" fill="#f04848"/>
<rect x="477" y="287.2" width="1" height="9.8" fill="#f7a3a3"/>
<rect x="483" y="287.2" width="1" height="9.8" fill="#f7a3a3"/>
<rect x="488" y="287.2" width="1" height="9.8" fill="#f04848"/>
<rect x="494" y="287.2" width="1" height="9.8" fill="#f04848"/>
<rect x="506" y="287.2" width="1" height="9.8" fill="#f04848"/>
<rect x="511" y="287.2" width="1" height="9.8" fill="#f26363"/>
<rect x="516" y="287.2" width="1" height="9.8" fill="#f7a3a3"/>
<rect x="521" y="287.2" width="1" height="9.8" fill="#f04848"/>
<rect x="522" y="287.2" width="1" height="9.8" fill="#f04848"/>
<rect x="535" y="287.2" width="1" height="9.8" fill="#f04848"/>
<rect x="311" y="300.0" width="4.4" height="4.4" fill="#10a46c"/>
<text x="317" y="304.3" font-size="5.8" fill="#333" stroke="#333" stroke-width="0.22" text-anchor="start" font-weight="normal" >KO05322</text>
<rect x="349" y="297.9" width="1" height="9.8" fill="#10a46c"/>
<rect x="351" y="297.9" width="1" height="9.8" fill="#87d1b5"/>
<rect x="354" y="297.9" width="1" height="9.8" fill="#63c39f"/>
<rect x="355" y="297.9" width="1" height="9.8" fill="#10a46c"/>
<rect x="356" y="297.9" width="1" height="9.8" fill="#10a46c"/>
<rect x="357" y="297.9" width="1" height="9.8" fill="#33b182"/>
<rect x="358" y="297.9" width="1" height="9.8" fill="#33b182"/>
<rect x="359" y="297.9" width="1" height="9.8" fill="#10a46c"/>
<rect x="360" y="297.9" width="1" height="9.8" fill="#10a46c"/>
<rect x="361" y="297.9" width="1" height="9.8" fill="#63c39f"/>
<rect x="362" y="297.9" width="1" height="9.8" fill="#33b182"/>
<rect x="363" y="297.9" width="1" height="9.8" fill="#87d1b5"/>
<rect x="364" y="297.9" width="1" height="9.8" fill="#10a46c"/>
<rect x="365" y="297.9" width="1" height="9.8" fill="#63c39f"/>
<rect x="366" y="297.9" width="1" height="9.8" fill="#33b182"/>
<rect x="368" y="297.9" width="1" height="9.8" fill="#10a46c"/>
<rect x="369" y="297.9" width="1" height="9.8" fill="#10a46c"/>
<rect x="370" y="297.9" width="1" height="9.8" fill="#33b182"/>
<rect x="372" y="297.9" width="1" height="9.8" fill="#87d1b5"/>
<rect x="373" y="297.9" width="1" height="9.8" fill="#33b182"/>
<rect x="374" y="297.9" width="1" height="9.8" fill="#33b182"/>
<rect x="375" y="297.9" width="1" height="9.8" fill="#10a46c"/>
<rect x="376" y="297.9" width="1" height="9.8" fill="#63c39f"/>
<rect x="377" y="297.9" width="1" height="9.8" fill="#10a46c"/>
<rect x="378" y="297.9" width="1" height="9.8" fill="#33b182"/>
<rect x="379" y="297.9" width="1" height="9.8" fill="#33b182"/>
<rect x="380" y="297.9" width="1" height="9.8" fill="#10a46c"/>
<rect x="381" y="297.9" width="1" height="9.8" fill="#10a46c"/>
<rect x="384" y="297.9" width="1" height="9.8" fill="#33b182"/>
<rect x="387" y="297.9" width="1" height="9.8" fill="#63c39f"/>
<rect x="388" y="297.9" width="1" height="9.8" fill="#87d1b5"/>
<rect x="389" y="297.9" width="1" height="9.8" fill="#10a46c"/>
<rect x="390" y="297.9" width="1" height="9.8" fill="#10a46c"/>
<rect x="391" y="297.9" width="1" height="9.8" fill="#63c39f"/>
<rect x="392" y="297.9" width="1" height="9.8" fill="#63c39f"/>
<rect x="393" y="297.9" width="1" height="9.8" fill="#33b182"/>
<rect x="394" y="297.9" width="1" height="9.8" fill="#63c39f"/>
<rect x="402" y="297.9" width="1" height="9.8" fill="#87d1b5"/>
<rect x="405" y="297.9" width="1" height="9.8" fill="#10a46c"/>
<rect x="406" y="297.9" width="1" height="9.8" fill="#10a46c"/>
<rect x="422" y="297.9" width="1" height="9.8" fill="#87d1b5"/>
<rect x="427" y="297.9" width="1" height="9.8" fill="#10a46c"/>
<rect x="430" y="297.9" width="1" height="9.8" fill="#10a46c"/>
<rect x="437" y="297.9" width="1" height="9.8" fill="#10a46c"/>
<rect x="443" y="297.9" width="1" height="9.8" fill="#10a46c"/>
<rect x="447" y="297.9" width="1" height="9.8" fill="#87d1b5"/>
<rect x="451" y="297.9" width="1" height="9.8" fill="#10a46c"/>
<rect x="452" y="297.9" width="1" height="9.8" fill="#87d1b5"/>
<rect x="454" y="297.9" width="1" height="9.8" fill="#87d1b5"/>
<rect x="457" y="297.9" width="1" height="9.8" fill="#10a46c"/>
<rect x="461" y="297.9" width="1" height="9.8" fill="#10a46c"/>
<rect x="464" y="297.9" width="1" height="9.8" fill="#33b182"/>
<rect x="469" y="297.9" width="1" height="9.8" fill="#10a46c"/>
<rect x="470" y="297.9" width="1" height="9.8" fill="#10a46c"/>
<rect x="477" y="297.9" width="1" height="9.8" fill="#63c39f"/>
<rect x="483" y="297.9" width="1" height="9.8" fill="#10a46c"/>
<rect x="488" y="297.9" width="1" height="9.8" fill="#10a46c"/>
<rect x="491" y="297.9" width="1" height="9.8" fill="#10a46c"/>
<rect x="494" y="297.9" width="1" height="9.8" fill="#87d1b5"/>
<rect x="506" y="297.9" width="1" height="9.8" fill="#10a46c"/>
<rect x="516" y="297.9" width="1" height="9.8" fill="#63c39f"/>
<rect x="521" y="297.9" width="1" height="9.8" fill="#10a46c"/>
<rect x="535" y="297.9" width="1" height="9.8" fill="#63c39f"/>
<rect x="311" y="311.3" width="4.4" height="4.4" fill="#f4e828"/>
<text x="317" y="315.6" font-size="5.8" fill="#333" stroke="#333" stroke-width="0.22" text-anchor="start" font-weight="normal" >KO05332</text>
<rect x="349" y="308.6" width="1" height="9.8" fill="#f4e828"/>
<rect x="350" y="308.6" width="1" height="9.8" fill="#f7f073"/>
<rect x="351" y="308.6" width="1" height="9.8" fill="#f9f393"/>
<rect x="352" y="308.6" width="1" height="9.8" fill="#f7f073"/>
<rect x="353" y="308.6" width="1" height="9.8" fill="#f9f393"/>
<rect x="354" y="308.6" width="1" height="9.8" fill="#f4e828"/>
<rect x="355" y="308.6" width="1" height="9.8" fill="#f4e828"/>
<rect x="356" y="308.6" width="1" height="9.8" fill="#f4e828"/>
<rect x="357" y="308.6" width="1" height="9.8" fill="#f4e828"/>
<rect x="358" y="308.6" width="1" height="9.8" fill="#f7f073"/>
<rect x="359" y="308.6" width="1" height="9.8" fill="#f4e828"/>
<rect x="360" y="308.6" width="1" height="9.8" fill="#f5eb48"/>
<rect x="362" y="308.6" width="1" height="9.8" fill="#f7f073"/>
<rect x="363" y="308.6" width="1" height="9.8" fill="#f5eb48"/>
<rect x="364" y="308.6" width="1" height="9.8" fill="#f4e828"/>
<rect x="365" y="308.6" width="1" height="9.8" fill="#f4e828"/>
<rect x="366" y="308.6" width="1" height="9.8" fill="#f4e828"/>
<rect x="369" y="308.6" width="1" height="9.8" fill="#f7f073"/>
<rect x="370" y="308.6" width="1" height="9.8" fill="#f4e828"/>
<rect x="371" y="308.6" width="1" height="9.8" fill="#f4e828"/>
<rect x="372" y="308.6" width="1" height="9.8" fill="#f4e828"/>
<rect x="373" y="308.6" width="1" height="9.8" fill="#f9f393"/>
<rect x="374" y="308.6" width="1" height="9.8" fill="#f5eb48"/>
<rect x="375" y="308.6" width="1" height="9.8" fill="#f5eb48"/>
<rect x="377" y="308.6" width="1" height="9.8" fill="#f4e828"/>
<rect x="378" y="308.6" width="1" height="9.8" fill="#f7f073"/>
<rect x="379" y="308.6" width="1" height="9.8" fill="#f5eb48"/>
<rect x="380" y="308.6" width="1" height="9.8" fill="#f9f393"/>
<rect x="381" y="308.6" width="1" height="9.8" fill="#f5eb48"/>
<rect x="382" y="308.6" width="1" height="9.8" fill="#f7f073"/>
<rect x="383" y="308.6" width="1" height="9.8" fill="#f5eb48"/>
<rect x="384" y="308.6" width="1" height="9.8" fill="#f5eb48"/>
<rect x="386" y="308.6" width="1" height="9.8" fill="#f4e828"/>
<rect x="387" y="308.6" width="1" height="9.8" fill="#f4e828"/>
<rect x="388" y="308.6" width="1" height="9.8" fill="#f9f393"/>
<rect x="389" y="308.6" width="1" height="9.8" fill="#f9f393"/>
<rect x="390" y="308.6" width="1" height="9.8" fill="#f9f393"/>
<rect x="391" y="308.6" width="1" height="9.8" fill="#f5eb48"/>
<rect x="393" y="308.6" width="1" height="9.8" fill="#f7f073"/>
<rect x="394" y="308.6" width="1" height="9.8" fill="#f9f393"/>
<rect x="399" y="308.6" width="1" height="9.8" fill="#f4e828"/>
<rect x="402" y="308.6" width="1" height="9.8" fill="#f4e828"/>
<rect x="406" y="308.6" width="1" height="9.8" fill="#f4e828"/>
<rect x="407" y="308.6" width="1" height="9.8" fill="#f9f393"/>
<rect x="413" y="308.6" width="1" height="9.8" fill="#f4e828"/>
<rect x="417" y="308.6" width="1" height="9.8" fill="#f5eb48"/>
<rect x="418" y="308.6" width="1" height="9.8" fill="#f4e828"/>
<rect x="422" y="308.6" width="1" height="9.8" fill="#f4e828"/>
<rect x="427" y="308.6" width="1" height="9.8" fill="#f9f393"/>
<rect x="429" y="308.6" width="1" height="9.8" fill="#f9f393"/>
<rect x="430" y="308.6" width="1" height="9.8" fill="#f7f073"/>
<rect x="435" y="308.6" width="1" height="9.8" fill="#f4e828"/>
<rect x="437" y="308.6" width="1" height="9.8" fill="#f4e828"/>
<rect x="443" y="308.6" width="1" height="9.8" fill="#f7f073"/>
<rect x="451" y="308.6" width="1" height="9.8" fill="#f7f073"/>
<rect x="452" y="308.6" width="1" height="9.8" fill="#f4e828"/>
<rect x="454" y="308.6" width="1" height="9.8" fill="#f7f073"/>
<rect x="457" y="308.6" width="1" height="9.8" fill="#f4e828"/>
<rect x="461" y="308.6" width="1" height="9.8" fill="#f4e828"/>
<rect x="464" y="308.6" width="1" height="9.8" fill="#f5eb48"/>
<rect x="469" y="308.6" width="1" height="9.8" fill="#f5eb48"/>
<rect x="470" y="308.6" width="1" height="9.8" fill="#f4e828"/>
<rect x="476" y="308.6" width="1" height="9.8" fill="#f4e828"/>
<rect x="477" y="308.6" width="1" height="9.8" fill="#f9f393"/>
<rect x="483" y="308.6" width="1" height="9.8" fill="#f5eb48"/>
<rect x="488" y="308.6" width="1" height="9.8" fill="#f4e828"/>
<rect x="491" y="308.6" width="1" height="9.8" fill="#f4e828"/>
<rect x="494" y="308.6" width="1" height="9.8" fill="#f4e828"/>
<rect x="511" y="308.6" width="1" height="9.8" fill="#f7f073"/>
<rect x="521" y="308.6" width="1" height="9.8" fill="#f5eb48"/>
<rect x="522" y="308.6" width="1" height="9.8" fill="#f4e828"/>
<rect x="535" y="308.6" width="1" height="9.8" fill="#f4e828"/>
<rect x="311" y="322.7" width="4.4" height="4.4" fill="#b8309a"/>
<text x="317" y="327.0" font-size="5.8" fill="#333" stroke="#333" stroke-width="0.22" text-anchor="start" font-weight="normal" >KO05310</text>
<rect x="349" y="319.4" width="1" height="9.8" fill="#db97cc"/>
<rect x="350" y="319.4" width="1" height="9.8" fill="#d078bd"/>
<rect x="351" y="319.4" width="1" height="9.8" fill="#db97cc"/>
<rect x="352" y="319.4" width="1" height="9.8" fill="#b8309a"/>
<rect x="353" y="319.4" width="1" height="9.8" fill="#c24fa9"/>
<rect x="354" y="319.4" width="1" height="9.8" fill="#b8309a"/>
<rect x="355" y="319.4" width="1" height="9.8" fill="#d078bd"/>
<rect x="356" y="319.4" width="1" height="9.8" fill="#b8309a"/>
<rect x="357" y="319.4" width="1" height="9.8" fill="#b8309a"/>
<rect x="358" y="319.4" width="1" height="9.8" fill="#b8309a"/>
<rect x="359" y="319.4" width="1" height="9.8" fill="#c24fa9"/>
<rect x="360" y="319.4" width="1" height="9.8" fill="#c24fa9"/>
<rect x="362" y="319.4" width="1" height="9.8" fill="#b8309a"/>
<rect x="364" y="319.4" width="1" height="9.8" fill="#b8309a"/>
<rect x="365" y="319.4" width="1" height="9.8" fill="#d078bd"/>
<rect x="367" y="319.4" width="1" height="9.8" fill="#b8309a"/>
<rect x="368" y="319.4" width="1" height="9.8" fill="#b8309a"/>
<rect x="369" y="319.4" width="1" height="9.8" fill="#db97cc"/>
<rect x="370" y="319.4" width="1" height="9.8" fill="#db97cc"/>
<rect x="372" y="319.4" width="1" height="9.8" fill="#b8309a"/>
<rect x="375" y="319.4" width="1" height="9.8" fill="#b8309a"/>
<rect x="376" y="319.4" width="1" height="9.8" fill="#b8309a"/>
<rect x="377" y="319.4" width="1" height="9.8" fill="#c24fa9"/>
<rect x="378" y="319.4" width="1" height="9.8" fill="#db97cc"/>
<rect x="379" y="319.4" width="1" height="9.8" fill="#d078bd"/>
<rect x="380" y="319.4" width="1" height="9.8" fill="#b8309a"/>
<rect x="381" y="319.4" width="1" height="9.8" fill="#d078bd"/>
<rect x="382" y="319.4" width="1" height="9.8" fill="#b8309a"/>
<rect x="383" y="319.4" width="1" height="9.8" fill="#c24fa9"/>
<rect x="384" y="319.4" width="1" height="9.8" fill="#d078bd"/>
<rect x="385" y="319.4" width="1" height="9.8" fill="#b8309a"/>
<rect x="386" y="319.4" width="1" height="9.8" fill="#b8309a"/>
<rect x="387" y="319.4" width="1" height="9.8" fill="#b8309a"/>
<rect x="388" y="319.4" width="1" height="9.8" fill="#b8309a"/>
<rect x="389" y="319.4" width="1" height="9.8" fill="#c24fa9"/>
<rect x="390" y="319.4" width="1" height="9.8" fill="#c24fa9"/>
<rect x="392" y="319.4" width="1" height="9.8" fill="#c24fa9"/>
<rect x="393" y="319.4" width="1" height="9.8" fill="#b8309a"/>
<rect x="394" y="319.4" width="1" height="9.8" fill="#c24fa9"/>
<rect x="399" y="319.4" width="1" height="9.8" fill="#db97cc"/>
<rect x="402" y="319.4" width="1" height="9.8" fill="#db97cc"/>
<rect x="406" y="319.4" width="1" height="9.8" fill="#b8309a"/>
<rect x="407" y="319.4" width="1" height="9.8" fill="#c24fa9"/>
<rect x="409" y="319.4" width="1" height="9.8" fill="#d078bd"/>
<rect x="412" y="319.4" width="1" height="9.8" fill="#c24fa9"/>
<rect x="413" y="319.4" width="1" height="9.8" fill="#b8309a"/>
<rect x="415" y="319.4" width="1" height="9.8" fill="#db97cc"/>
<rect x="417" y="319.4" width="1" height="9.8" fill="#b8309a"/>
<rect x="418" y="319.4" width="1" height="9.8" fill="#c24fa9"/>
<rect x="422" y="319.4" width="1" height="9.8" fill="#b8309a"/>
<rect x="430" y="319.4" width="1" height="9.8" fill="#db97cc"/>
<rect x="435" y="319.4" width="1" height="9.8" fill="#b8309a"/>
<rect x="437" y="319.4" width="1" height="9.8" fill="#b8309a"/>
<rect x="443" y="319.4" width="1" height="9.8" fill="#c24fa9"/>
<rect x="447" y="319.4" width="1" height="9.8" fill="#b8309a"/>
<rect x="452" y="319.4" width="1" height="9.8" fill="#db97cc"/>
<rect x="454" y="319.4" width="1" height="9.8" fill="#b8309a"/>
<rect x="461" y="319.4" width="1" height="9.8" fill="#b8309a"/>
<rect x="464" y="319.4" width="1" height="9.8" fill="#b8309a"/>
<rect x="470" y="319.4" width="1" height="9.8" fill="#db97cc"/>
<rect x="476" y="319.4" width="1" height="9.8" fill="#c24fa9"/>
<rect x="477" y="319.4" width="1" height="9.8" fill="#d078bd"/>
<rect x="483" y="319.4" width="1" height="9.8" fill="#b8309a"/>
<rect x="488" y="319.4" width="1" height="9.8" fill="#b8309a"/>
<rect x="491" y="319.4" width="1" height="9.8" fill="#d078bd"/>
<rect x="494" y="319.4" width="1" height="9.8" fill="#b8309a"/>
<rect x="506" y="319.4" width="1" height="9.8" fill="#c24fa9"/>
<rect x="516" y="319.4" width="1" height="9.8" fill="#d078bd"/>
<rect x="522" y="319.4" width="1" height="9.8" fill="#b8309a"/>
<rect x="535" y="319.4" width="1" height="9.8" fill="#db97cc"/>
<rect x="311" y="334.1" width="4.4" height="4.4" fill="#20b4a4"/>
<text x="317" y="338.4" font-size="5.8" fill="#333" stroke="#333" stroke-width="0.22" text-anchor="start" font-weight="normal" >KO05150</text>
<rect x="349" y="330.1" width="1" height="9.8" fill="#20b4a4"/>
<rect x="350" y="330.1" width="1" height="9.8" fill="#20b4a4"/>
<rect x="351" y="330.1" width="1" height="9.8" fill="#41bfb1"/>
<rect x="352" y="330.1" width="1" height="9.8" fill="#41bfb1"/>
<rect x="353" y="330.1" width="1" height="9.8" fill="#41bfb1"/>
<rect x="354" y="330.1" width="1" height="9.8" fill="#20b4a4"/>
<rect x="355" y="330.1" width="1" height="9.8" fill="#41bfb1"/>
<rect x="356" y="330.1" width="1" height="9.8" fill="#8fd9d1"/>
<rect x="357" y="330.1" width="1" height="9.8" fill="#8fd9d1"/>
<rect x="358" y="330.1" width="1" height="9.8" fill="#8fd9d1"/>
<rect x="360" y="330.1" width="1" height="9.8" fill="#6ecec3"/>
<rect x="362" y="330.1" width="1" height="9.8" fill="#20b4a4"/>
<rect x="363" y="330.1" width="1" height="9.8" fill="#20b4a4"/>
<rect x="364" y="330.1" width="1" height="9.8" fill="#20b4a4"/>
<rect x="365" y="330.1" width="1" height="9.8" fill="#41bfb1"/>
<rect x="366" y="330.1" width="1" height="9.8" fill="#6ecec3"/>
<rect x="368" y="330.1" width="1" height="9.8" fill="#41bfb1"/>
<rect x="370" y="330.1" width="1" height="9.8" fill="#20b4a4"/>
<rect x="371" y="330.1" width="1" height="9.8" fill="#41bfb1"/>
<rect x="372" y="330.1" width="1" height="9.8" fill="#20b4a4"/>
<rect x="373" y="330.1" width="1" height="9.8" fill="#20b4a4"/>
<rect x="374" y="330.1" width="1" height="9.8" fill="#41bfb1"/>
<rect x="375" y="330.1" width="1" height="9.8" fill="#20b4a4"/>
<rect x="376" y="330.1" width="1" height="9.8" fill="#20b4a4"/>
<rect x="377" y="330.1" width="1" height="9.8" fill="#20b4a4"/>
<rect x="378" y="330.1" width="1" height="9.8" fill="#6ecec3"/>
<rect x="379" y="330.1" width="1" height="9.8" fill="#6ecec3"/>
<rect x="382" y="330.1" width="1" height="9.8" fill="#6ecec3"/>
<rect x="383" y="330.1" width="1" height="9.8" fill="#20b4a4"/>
<rect x="384" y="330.1" width="1" height="9.8" fill="#6ecec3"/>
<rect x="385" y="330.1" width="1" height="9.8" fill="#41bfb1"/>
<rect x="386" y="330.1" width="1" height="9.8" fill="#20b4a4"/>
<rect x="387" y="330.1" width="1" height="9.8" fill="#6ecec3"/>
<rect x="388" y="330.1" width="1" height="9.8" fill="#8fd9d1"/>
<rect x="389" y="330.1" width="1" height="9.8" fill="#20b4a4"/>
<rect x="390" y="330.1" width="1" height="9.8" fill="#20b4a4"/>
<rect x="391" y="330.1" width="1" height="9.8" fill="#41bfb1"/>
<rect x="392" y="330.1" width="1" height="9.8" fill="#20b4a4"/>
<rect x="393" y="330.1" width="1" height="9.8" fill="#6ecec3"/>
<rect x="394" y="330.1" width="1" height="9.8" fill="#20b4a4"/>
<rect x="399" y="330.1" width="1" height="9.8" fill="#20b4a4"/>
<rect x="405" y="330.1" width="1" height="9.8" fill="#41bfb1"/>
<rect x="406" y="330.1" width="1" height="9.8" fill="#8fd9d1"/>
<rect x="407" y="330.1" width="1" height="9.8" fill="#20b4a4"/>
<rect x="408" y="330.1" width="1" height="9.8" fill="#6ecec3"/>
<rect x="412" y="330.1" width="1" height="9.8" fill="#20b4a4"/>
<rect x="413" y="330.1" width="1" height="9.8" fill="#6ecec3"/>
<rect x="414" y="330.1" width="1" height="9.8" fill="#8fd9d1"/>
<rect x="415" y="330.1" width="1" height="9.8" fill="#8fd9d1"/>
<rect x="417" y="330.1" width="1" height="9.8" fill="#20b4a4"/>
<rect x="418" y="330.1" width="1" height="9.8" fill="#41bfb1"/>
<rect x="421" y="330.1" width="1" height="9.8" fill="#8fd9d1"/>
<rect x="422" y="330.1" width="1" height="9.8" fill="#41bfb1"/>
<rect x="423" y="330.1" width="1" height="9.8" fill="#41bfb1"/>
<rect x="424" y="330.1" width="1" height="9.8" fill="#20b4a4"/>
<rect x="427" y="330.1" width="1" height="9.8" fill="#41bfb1"/>
<rect x="429" y="330.1" width="1" height="9.8" fill="#20b4a4"/>
<rect x="430" y="330.1" width="1" height="9.8" fill="#6ecec3"/>
<rect x="437" y="330.1" width="1" height="9.8" fill="#8fd9d1"/>
<rect x="447" y="330.1" width="1" height="9.8" fill="#20b4a4"/>
<rect x="451" y="330.1" width="1" height="9.8" fill="#8fd9d1"/>
<rect x="454" y="330.1" width="1" height="9.8" fill="#6ecec3"/>
<rect x="461" y="330.1" width="1" height="9.8" fill="#41bfb1"/>
<rect x="464" y="330.1" width="1" height="9.8" fill="#6ecec3"/>
<rect x="469" y="330.1" width="1" height="9.8" fill="#8fd9d1"/>
<rect x="476" y="330.1" width="1" height="9.8" fill="#20b4a4"/>
<rect x="477" y="330.1" width="1" height="9.8" fill="#20b4a4"/>
<rect x="488" y="330.1" width="1" height="9.8" fill="#6ecec3"/>
<rect x="506" y="330.1" width="1" height="9.8" fill="#41bfb1"/>
<rect x="511" y="330.1" width="1" height="9.8" fill="#41bfb1"/>
<rect x="522" y="330.1" width="1" height="9.8" fill="#8fd9d1"/>
<rect x="535" y="330.1" width="1" height="9.8" fill="#41bfb1"/>
<rect x="311" y="345.4" width="4.4" height="4.4" fill="#f88a52"/>
<text x="317" y="349.7" font-size="5.8" fill="#333" stroke="#333" stroke-width="0.22" text-anchor="start" font-weight="normal" >KO04940</text>
<rect x="349" y="340.8" width="1" height="9.8" fill="#f88a52"/>
<rect x="350" y="340.8" width="1" height="9.8" fill="#fbc4a8"/>
<rect x="351" y="340.8" width="1" height="9.8" fill="#f88a52"/>
<rect x="352" y="340.8" width="1" height="9.8" fill="#f99b6b"/>
<rect x="353" y="340.8" width="1" height="9.8" fill="#f88a52"/>
<rect x="354" y="340.8" width="1" height="9.8" fill="#fab28e"/>
<rect x="355" y="340.8" width="1" height="9.8" fill="#fab28e"/>
<rect x="356" y="340.8" width="1" height="9.8" fill="#fbc4a8"/>
<rect x="357" y="340.8" width="1" height="9.8" fill="#f88a52"/>
<rect x="358" y="340.8" width="1" height="9.8" fill="#f88a52"/>
<rect x="359" y="340.8" width="1" height="9.8" fill="#f88a52"/>
<rect x="360" y="340.8" width="1" height="9.8" fill="#fab28e"/>
<rect x="361" y="340.8" width="1" height="9.8" fill="#f88a52"/>
<rect x="362" y="340.8" width="1" height="9.8" fill="#f88a52"/>
<rect x="364" y="340.8" width="1" height="9.8" fill="#fbc4a8"/>
<rect x="365" y="340.8" width="1" height="9.8" fill="#f99b6b"/>
<rect x="366" y="340.8" width="1" height="9.8" fill="#fab28e"/>
<rect x="367" y="340.8" width="1" height="9.8" fill="#f88a52"/>
<rect x="368" y="340.8" width="1" height="9.8" fill="#f88a52"/>
<rect x="369" y="340.8" width="1" height="9.8" fill="#fab28e"/>
<rect x="370" y="340.8" width="1" height="9.8" fill="#fab28e"/>
<rect x="371" y="340.8" width="1" height="9.8" fill="#fbc4a8"/>
<rect x="372" y="340.8" width="1" height="9.8" fill="#f88a52"/>
<rect x="373" y="340.8" width="1" height="9.8" fill="#fab28e"/>
<rect x="374" y="340.8" width="1" height="9.8" fill="#f88a52"/>
<rect x="376" y="340.8" width="1" height="9.8" fill="#f88a52"/>
<rect x="377" y="340.8" width="1" height="9.8" fill="#f99b6b"/>
<rect x="378" y="340.8" width="1" height="9.8" fill="#f88a52"/>
<rect x="379" y="340.8" width="1" height="9.8" fill="#fab28e"/>
<rect x="380" y="340.8" width="1" height="9.8" fill="#f88a52"/>
<rect x="381" y="340.8" width="1" height="9.8" fill="#f88a52"/>
<rect x="382" y="340.8" width="1" height="9.8" fill="#f88a52"/>
<rect x="383" y="340.8" width="1" height="9.8" fill="#f88a52"/>
<rect x="384" y="340.8" width="1" height="9.8" fill="#f88a52"/>
<rect x="385" y="340.8" width="1" height="9.8" fill="#f88a52"/>
<rect x="387" y="340.8" width="1" height="9.8" fill="#fab28e"/>
<rect x="388" y="340.8" width="1" height="9.8" fill="#fbc4a8"/>
<rect x="389" y="340.8" width="1" height="9.8" fill="#f99b6b"/>
<rect x="390" y="340.8" width="1" height="9.8" fill="#f88a52"/>
<rect x="392" y="340.8" width="1" height="9.8" fill="#fbc4a8"/>
<rect x="393" y="340.8" width="1" height="9.8" fill="#f99b6b"/>
<rect x="394" y="340.8" width="1" height="9.8" fill="#fbc4a8"/>
<rect x="399" y="340.8" width="1" height="9.8" fill="#f88a52"/>
<rect x="402" y="340.8" width="1" height="9.8" fill="#f88a52"/>
<rect x="405" y="340.8" width="1" height="9.8" fill="#f88a52"/>
<rect x="406" y="340.8" width="1" height="9.8" fill="#f88a52"/>
<rect x="407" y="340.8" width="1" height="9.8" fill="#f88a52"/>
<rect x="410" y="340.8" width="1" height="9.8" fill="#fbc4a8"/>
<rect x="411" y="340.8" width="1" height="9.8" fill="#f88a52"/>
<rect x="413" y="340.8" width="1" height="9.8" fill="#f88a52"/>
<rect x="414" y="340.8" width="1" height="9.8" fill="#fbc4a8"/>
<rect x="417" y="340.8" width="1" height="9.8" fill="#f88a52"/>
<rect x="418" y="340.8" width="1" height="9.8" fill="#fab28e"/>
<rect x="420" y="340.8" width="1" height="9.8" fill="#f88a52"/>
<rect x="422" y="340.8" width="1" height="9.8" fill="#f88a52"/>
<rect x="427" y="340.8" width="1" height="9.8" fill="#f88a52"/>
<rect x="429" y="340.8" width="1" height="9.8" fill="#fab28e"/>
<rect x="430" y="340.8" width="1" height="9.8" fill="#fbc4a8"/>
<rect x="443" y="340.8" width="1" height="9.8" fill="#f88a52"/>
<rect x="447" y="340.8" width="1" height="9.8" fill="#f88a52"/>
<rect x="451" y="340.8" width="1" height="9.8" fill="#fab28e"/>
<rect x="452" y="340.8" width="1" height="9.8" fill="#fbc4a8"/>
<rect x="454" y="340.8" width="1" height="9.8" fill="#fab28e"/>
<rect x="457" y="340.8" width="1" height="9.8" fill="#fab28e"/>
<rect x="461" y="340.8" width="1" height="9.8" fill="#fab28e"/>
<rect x="464" y="340.8" width="1" height="9.8" fill="#f99b6b"/>
<rect x="469" y="340.8" width="1" height="9.8" fill="#f88a52"/>
<rect x="470" y="340.8" width="1" height="9.8" fill="#fbc4a8"/>
<rect x="476" y="340.8" width="1" height="9.8" fill="#f99b6b"/>
<rect x="483" y="340.8" width="1" height="9.8" fill="#fab28e"/>
<rect x="488" y="340.8" width="1" height="9.8" fill="#f88a52"/>
<rect x="491" y="340.8" width="1" height="9.8" fill="#fab28e"/>
<rect x="494" y="340.8" width="1" height="9.8" fill="#f99b6b"/>
<rect x="506" y="340.8" width="1" height="9.8" fill="#f99b6b"/>
<rect x="511" y="340.8" width="1" height="9.8" fill="#fab28e"/>
<rect x="516" y="340.8" width="1" height="9.8" fill="#f88a52"/>
<rect x="521" y="340.8" width="1" height="9.8" fill="#fab28e"/>
<rect x="522" y="340.8" width="1" height="9.8" fill="#f99b6b"/>
<rect x="311" y="356.8" width="4.4" height="4.4" fill="#6a56b8"/>
<text x="317" y="361.1" font-size="5.8" fill="#333" stroke="#333" stroke-width="0.22" text-anchor="start" font-weight="normal" >KO05320</text>
<rect x="349" y="351.5" width="1" height="9.8" fill="#6a56b8"/>
<rect x="351" y="351.5" width="1" height="9.8" fill="#9e91d0"/>
<rect x="352" y="351.5" width="1" height="9.8" fill="#b4aadb"/>
<rect x="353" y="351.5" width="1" height="9.8" fill="#9e91d0"/>
<rect x="354" y="351.5" width="1" height="9.8" fill="#6a56b8"/>
<rect x="355" y="351.5" width="1" height="9.8" fill="#6a56b8"/>
<rect x="358" y="351.5" width="1" height="9.8" fill="#9e91d0"/>
<rect x="359" y="351.5" width="1" height="9.8" fill="#b4aadb"/>
<rect x="360" y="351.5" width="1" height="9.8" fill="#b4aadb"/>
<rect x="361" y="351.5" width="1" height="9.8" fill="#806fc2"/>
<rect x="362" y="351.5" width="1" height="9.8" fill="#6a56b8"/>
<rect x="363" y="351.5" width="1" height="9.8" fill="#806fc2"/>
<rect x="364" y="351.5" width="1" height="9.8" fill="#b4aadb"/>
<rect x="365" y="351.5" width="1" height="9.8" fill="#9e91d0"/>
<rect x="366" y="351.5" width="1" height="9.8" fill="#806fc2"/>
<rect x="367" y="351.5" width="1" height="9.8" fill="#806fc2"/>
<rect x="368" y="351.5" width="1" height="9.8" fill="#6a56b8"/>
<rect x="370" y="351.5" width="1" height="9.8" fill="#6a56b8"/>
<rect x="371" y="351.5" width="1" height="9.8" fill="#6a56b8"/>
<rect x="372" y="351.5" width="1" height="9.8" fill="#6a56b8"/>
<rect x="373" y="351.5" width="1" height="9.8" fill="#6a56b8"/>
<rect x="374" y="351.5" width="1" height="9.8" fill="#9e91d0"/>
<rect x="375" y="351.5" width="1" height="9.8" fill="#b4aadb"/>
<rect x="376" y="351.5" width="1" height="9.8" fill="#6a56b8"/>
<rect x="377" y="351.5" width="1" height="9.8" fill="#9e91d0"/>
<rect x="379" y="351.5" width="1" height="9.8" fill="#9e91d0"/>
<rect x="380" y="351.5" width="1" height="9.8" fill="#806fc2"/>
<rect x="381" y="351.5" width="1" height="9.8" fill="#b4aadb"/>
<rect x="382" y="351.5" width="1" height="9.8" fill="#6a56b8"/>
<rect x="383" y="351.5" width="1" height="9.8" fill="#6a56b8"/>
<rect x="384" y="351.5" width="1" height="9.8" fill="#806fc2"/>
<rect x="385" y="351.5" width="1" height="9.8" fill="#6a56b8"/>
<rect x="386" y="351.5" width="1" height="9.8" fill="#6a56b8"/>
<rect x="387" y="351.5" width="1" height="9.8" fill="#b4aadb"/>
<rect x="388" y="351.5" width="1" height="9.8" fill="#9e91d0"/>
<rect x="389" y="351.5" width="1" height="9.8" fill="#6a56b8"/>
<rect x="390" y="351.5" width="1" height="9.8" fill="#6a56b8"/>
<rect x="391" y="351.5" width="1" height="9.8" fill="#6a56b8"/>
<rect x="392" y="351.5" width="1" height="9.8" fill="#b4aadb"/>
<rect x="393" y="351.5" width="1" height="9.8" fill="#6a56b8"/>
<rect x="394" y="351.5" width="1" height="9.8" fill="#6a56b8"/>
<rect x="399" y="351.5" width="1" height="9.8" fill="#6a56b8"/>
<rect x="402" y="351.5" width="1" height="9.8" fill="#b4aadb"/>
<rect x="405" y="351.5" width="1" height="9.8" fill="#6a56b8"/>
<rect x="406" y="351.5" width="1" height="9.8" fill="#9e91d0"/>
<rect x="407" y="351.5" width="1" height="9.8" fill="#6a56b8"/>
<rect x="414" y="351.5" width="1" height="9.8" fill="#6a56b8"/>
<rect x="418" y="351.5" width="1" height="9.8" fill="#6a56b8"/>
<rect x="427" y="351.5" width="1" height="9.8" fill="#806fc2"/>
<rect x="429" y="351.5" width="1" height="9.8" fill="#9e91d0"/>
<rect x="430" y="351.5" width="1" height="9.8" fill="#9e91d0"/>
<rect x="435" y="351.5" width="1" height="9.8" fill="#6a56b8"/>
<rect x="437" y="351.5" width="1" height="9.8" fill="#9e91d0"/>
<rect x="443" y="351.5" width="1" height="9.8" fill="#6a56b8"/>
<rect x="447" y="351.5" width="1" height="9.8" fill="#6a56b8"/>
<rect x="457" y="351.5" width="1" height="9.8" fill="#6a56b8"/>
<rect x="461" y="351.5" width="1" height="9.8" fill="#9e91d0"/>
<rect x="469" y="351.5" width="1" height="9.8" fill="#b4aadb"/>
<rect x="470" y="351.5" width="1" height="9.8" fill="#6a56b8"/>
<rect x="476" y="351.5" width="1" height="9.8" fill="#9e91d0"/>
<rect x="477" y="351.5" width="1" height="9.8" fill="#6a56b8"/>
<rect x="483" y="351.5" width="1" height="9.8" fill="#9e91d0"/>
<rect x="488" y="351.5" width="1" height="9.8" fill="#9e91d0"/>
<rect x="491" y="351.5" width="1" height="9.8" fill="#6a56b8"/>
<rect x="494" y="351.5" width="1" height="9.8" fill="#6a56b8"/>
<rect x="511" y="351.5" width="1" height="9.8" fill="#6a56b8"/>
<rect x="516" y="351.5" width="1" height="9.8" fill="#6a56b8"/>
<rect x="521" y="351.5" width="1" height="9.8" fill="#806fc2"/>
<rect x="522" y="351.5" width="1" height="9.8" fill="#9e91d0"/>
<rect x="311" y="368.1" width="4.4" height="4.4" fill="#c4bcec"/>
<text x="317" y="372.4" font-size="5.8" fill="#333" stroke="#333" stroke-width="0.22" text-anchor="start" font-weight="normal" >KO05330</text>
<rect x="349" y="362.3" width="1" height="9.8" fill="#d8d3f2"/>
<rect x="350" y="362.3" width="1" height="9.8" fill="#d8d3f2"/>
<rect x="351" y="362.3" width="1" height="9.8" fill="#ccc6ee"/>
<rect x="353" y="362.3" width="1" height="9.8" fill="#ccc6ee"/>
<rect x="354" y="362.3" width="1" height="9.8" fill="#c4bcec"/>
<rect x="355" y="362.3" width="1" height="9.8" fill="#c4bcec"/>
<rect x="356" y="362.3" width="1" height="9.8" fill="#e1ddf5"/>
<rect x="357" y="362.3" width="1" height="9.8" fill="#c4bcec"/>
<rect x="358" y="362.3" width="1" height="9.8" fill="#c4bcec"/>
<rect x="360" y="362.3" width="1" height="9.8" fill="#c4bcec"/>
<rect x="361" y="362.3" width="1" height="9.8" fill="#c4bcec"/>
<rect x="362" y="362.3" width="1" height="9.8" fill="#e1ddf5"/>
<rect x="363" y="362.3" width="1" height="9.8" fill="#ccc6ee"/>
<rect x="364" y="362.3" width="1" height="9.8" fill="#ccc6ee"/>
<rect x="365" y="362.3" width="1" height="9.8" fill="#e1ddf5"/>
<rect x="366" y="362.3" width="1" height="9.8" fill="#ccc6ee"/>
<rect x="367" y="362.3" width="1" height="9.8" fill="#d8d3f2"/>
<rect x="368" y="362.3" width="1" height="9.8" fill="#ccc6ee"/>
<rect x="369" y="362.3" width="1" height="9.8" fill="#c4bcec"/>
<rect x="370" y="362.3" width="1" height="9.8" fill="#e1ddf5"/>
<rect x="372" y="362.3" width="1" height="9.8" fill="#ccc6ee"/>
<rect x="373" y="362.3" width="1" height="9.8" fill="#c4bcec"/>
<rect x="374" y="362.3" width="1" height="9.8" fill="#c4bcec"/>
<rect x="375" y="362.3" width="1" height="9.8" fill="#c4bcec"/>
<rect x="376" y="362.3" width="1" height="9.8" fill="#c4bcec"/>
<rect x="377" y="362.3" width="1" height="9.8" fill="#c4bcec"/>
<rect x="378" y="362.3" width="1" height="9.8" fill="#c4bcec"/>
<rect x="379" y="362.3" width="1" height="9.8" fill="#d8d3f2"/>
<rect x="380" y="362.3" width="1" height="9.8" fill="#d8d3f2"/>
<rect x="381" y="362.3" width="1" height="9.8" fill="#d8d3f2"/>
<rect x="382" y="362.3" width="1" height="9.8" fill="#d8d3f2"/>
<rect x="384" y="362.3" width="1" height="9.8" fill="#e1ddf5"/>
<rect x="385" y="362.3" width="1" height="9.8" fill="#c4bcec"/>
<rect x="386" y="362.3" width="1" height="9.8" fill="#c4bcec"/>
<rect x="387" y="362.3" width="1" height="9.8" fill="#e1ddf5"/>
<rect x="388" y="362.3" width="1" height="9.8" fill="#d8d3f2"/>
<rect x="389" y="362.3" width="1" height="9.8" fill="#c4bcec"/>
<rect x="390" y="362.3" width="1" height="9.8" fill="#d8d3f2"/>
<rect x="391" y="362.3" width="1" height="9.8" fill="#e1ddf5"/>
<rect x="392" y="362.3" width="1" height="9.8" fill="#ccc6ee"/>
<rect x="394" y="362.3" width="1" height="9.8" fill="#d8d3f2"/>
<rect x="399" y="362.3" width="1" height="9.8" fill="#d8d3f2"/>
<rect x="402" y="362.3" width="1" height="9.8" fill="#c4bcec"/>
<rect x="405" y="362.3" width="1" height="9.8" fill="#c4bcec"/>
<rect x="406" y="362.3" width="1" height="9.8" fill="#c4bcec"/>
<rect x="407" y="362.3" width="1" height="9.8" fill="#c4bcec"/>
<rect x="413" y="362.3" width="1" height="9.8" fill="#d8d3f2"/>
<rect x="418" y="362.3" width="1" height="9.8" fill="#c4bcec"/>
<rect x="422" y="362.3" width="1" height="9.8" fill="#ccc6ee"/>
<rect x="427" y="362.3" width="1" height="9.8" fill="#e1ddf5"/>
<rect x="429" y="362.3" width="1" height="9.8" fill="#e1ddf5"/>
<rect x="430" y="362.3" width="1" height="9.8" fill="#ccc6ee"/>
<rect x="435" y="362.3" width="1" height="9.8" fill="#d8d3f2"/>
<rect x="443" y="362.3" width="1" height="9.8" fill="#e1ddf5"/>
<rect x="447" y="362.3" width="1" height="9.8" fill="#c4bcec"/>
<rect x="451" y="362.3" width="1" height="9.8" fill="#c4bcec"/>
<rect x="454" y="362.3" width="1" height="9.8" fill="#e1ddf5"/>
<rect x="457" y="362.3" width="1" height="9.8" fill="#ccc6ee"/>
<rect x="461" y="362.3" width="1" height="9.8" fill="#d8d3f2"/>
<rect x="464" y="362.3" width="1" height="9.8" fill="#c4bcec"/>
<rect x="469" y="362.3" width="1" height="9.8" fill="#c4bcec"/>
<rect x="476" y="362.3" width="1" height="9.8" fill="#c4bcec"/>
<rect x="477" y="362.3" width="1" height="9.8" fill="#c4bcec"/>
<rect x="488" y="362.3" width="1" height="9.8" fill="#e1ddf5"/>
<rect x="491" y="362.3" width="1" height="9.8" fill="#c4bcec"/>
<rect x="494" y="362.3" width="1" height="9.8" fill="#e1ddf5"/>
<rect x="506" y="362.3" width="1" height="9.8" fill="#c4bcec"/>
<rect x="516" y="362.3" width="1" height="9.8" fill="#e1ddf5"/>
<rect x="521" y="362.3" width="1" height="9.8" fill="#d8d3f2"/>
<rect x="522" y="362.3" width="1" height="9.8" fill="#c4bcec"/>
<rect x="535" y="362.3" width="1" height="9.8" fill="#c4bcec"/>
<line x1="349" y1="136.3" x2="545" y2="136.3" stroke="#222" stroke-width="1"/>
<line x1="348.6" y1="136.3" x2="348.6" y2="372.5" stroke="#222" stroke-width="1.3"/>
<line x1="545" y1="136.3" x2="545" y2="372.5" stroke="#222" stroke-width="1"/>
<line x1="349" y1="372.5" x2="545" y2="372.5" stroke="#222" stroke-width="1"/>
<line x1="349.6" y1="372.5" x2="349.6" y2="374.5" stroke="#222" stroke-width="0.6"/>
<text x="349.6" y="379.4" font-size="5" fill="#333" stroke="#333" stroke-width="0.22" text-anchor="middle" font-weight="normal" >0</text>
<line x1="367.9" y1="372.5" x2="367.9" y2="374.5" stroke="#222" stroke-width="0.6"/>
<text x="367.9" y="379.4" font-size="5" fill="#333" stroke="#333" stroke-width="0.22" text-anchor="middle" font-weight="normal" >2,000</text>
<line x1="386.1" y1="372.5" x2="386.1" y2="374.5" stroke="#222" stroke-width="0.6"/>
<text x="386.1" y="379.4" font-size="5" fill="#333" stroke="#333" stroke-width="0.22" text-anchor="middle" font-weight="normal" >4,000</text>
<line x1="404.4" y1="372.5" x2="404.4" y2="374.5" stroke="#222" stroke-width="0.6"/>
<text x="404.4" y="379.4" font-size="5" fill="#333" stroke="#333" stroke-width="0.22" text-anchor="middle" font-weight="normal" >6,000</text>
<line x1="422.7" y1="372.5" x2="422.7" y2="374.5" stroke="#222" stroke-width="0.6"/>
<text x="422.7" y="379.4" font-size="5" fill="#333" stroke="#333" stroke-width="0.22" text-anchor="middle" font-weight="normal" >8,000</text>
<line x1="441.0" y1="372.5" x2="441.0" y2="374.5" stroke="#222" stroke-width="0.6"/>
<text x="441.0" y="379.4" font-size="5" fill="#333" stroke="#333" stroke-width="0.22" text-anchor="middle" font-weight="normal" >10,000</text>
<line x1="459.2" y1="372.5" x2="459.2" y2="374.5" stroke="#222" stroke-width="0.6"/>
<text x="459.2" y="379.4" font-size="5" fill="#333" stroke="#333" stroke-width="0.22" text-anchor="middle" font-weight="normal" >12,000</text>
<line x1="477.5" y1="372.5" x2="477.5" y2="374.5" stroke="#222" stroke-width="0.6"/>
<text x="477.5" y="379.4" font-size="5" fill="#333" stroke="#333" stroke-width="0.22" text-anchor="middle" font-weight="normal" >14,000</text>
<line x1="495.8" y1="372.5" x2="495.8" y2="374.5" stroke="#222" stroke-width="0.6"/>
<text x="495.8" y="379.4" font-size="5" fill="#333" stroke="#333" stroke-width="0.22" text-anchor="middle" font-weight="normal" >16,000</text>
<line x1="514.0" y1="372.5" x2="514.0" y2="374.5" stroke="#222" stroke-width="0.6"/>
<text x="514.0" y="379.4" font-size="5" fill="#333" stroke="#333" stroke-width="0.22" text-anchor="middle" font-weight="normal" >18,000</text>
<line x1="532.3" y1="372.5" x2="532.3" y2="374.5" stroke="#222" stroke-width="0.6"/>
<text x="532.3" y="379.4" font-size="5" fill="#333" stroke="#333" stroke-width="0.22" text-anchor="middle" font-weight="normal" >20,000</text>
<text x="449.7" y="130.4" font-size="7.6" fill="#111" stroke="#111" stroke-width="0" text-anchor="middle" font-weight="bold" >GSEA - top 10</text>
<rect x="32.80" y="411.40" width="9.79" height="18.40" fill="#f86060" shape-rendering="crispEdges"/>
<rect x="42.29" y="411.40" width="9.79" height="18.40" fill="#f87878" shape-rendering="crispEdges"/>
<rect x="51.78" y="411.40" width="9.79" height="18.40" fill="#f88080" shape-rendering="crispEdges"/>
<rect x="61.28" y="411.40" width="9.79" height="18.40" fill="#f89090" shape-rendering="crispEdges"/>
<rect x="70.77" y="411.40" width="9.79" height="18.40" fill="#f8b0b0" shape-rendering="crispEdges"/>
<rect x="80.26" y="411.40" width="9.79" height="18.40" fill="#e8e8f5" shape-rendering="crispEdges"/>
<rect x="89.75" y="411.40" width="9.79" height="18.40" fill="#f85050" shape-rendering="crispEdges"/>
<rect x="99.25" y="411.40" width="9.79" height="18.40" fill="#f02020" shape-rendering="crispEdges"/>
<rect x="108.74" y="411.40" width="9.79" height="18.40" fill="#f8a0a0" shape-rendering="crispEdges"/>
<rect x="118.23" y="411.40" width="9.79" height="18.40" fill="#f8a0a0" shape-rendering="crispEdges"/>
<rect x="127.72" y="411.40" width="9.79" height="18.40" fill="#f87070" shape-rendering="crispEdges"/>
<rect x="137.22" y="411.40" width="9.79" height="18.40" fill="#f89090" shape-rendering="crispEdges"/>
<rect x="146.71" y="411.40" width="9.79" height="18.40" fill="#1040a0" shape-rendering="crispEdges"/>
<rect x="156.20" y="411.40" width="9.79" height="18.40" fill="#1048a0" shape-rendering="crispEdges"/>
<rect x="165.69" y="411.40" width="9.79" height="18.40" fill="#a8a8d8" shape-rendering="crispEdges"/>
<rect x="175.18" y="411.40" width="9.79" height="18.40" fill="#8088c8" shape-rendering="crispEdges"/>
<rect x="184.68" y="411.40" width="9.79" height="18.40" fill="#7880c0" shape-rendering="crispEdges"/>
<rect x="194.17" y="411.40" width="9.79" height="18.40" fill="#8088c8" shape-rendering="crispEdges"/>
<rect x="203.66" y="411.40" width="9.79" height="18.40" fill="#1848a8" shape-rendering="crispEdges"/>
<rect x="213.15" y="411.40" width="9.79" height="18.40" fill="#3050a8" shape-rendering="crispEdges"/>
<rect x="222.65" y="411.40" width="9.79" height="18.40" fill="#4058a8" shape-rendering="crispEdges"/>
<rect x="232.14" y="411.40" width="9.79" height="18.40" fill="#4858b0" shape-rendering="crispEdges"/>
<rect x="241.63" y="411.40" width="9.79" height="18.40" fill="#6070b8" shape-rendering="crispEdges"/>
<rect x="251.12" y="411.40" width="9.79" height="18.40" fill="#8088c8" shape-rendering="crispEdges"/>
<rect x="260.62" y="411.40" width="9.79" height="18.40" fill="#7078c0" shape-rendering="crispEdges"/>
<rect x="270.11" y="411.40" width="9.79" height="18.40" fill="#6070b8" shape-rendering="crispEdges"/>
<rect x="32.80" y="429.50" width="9.79" height="18.40" fill="#f86868" shape-rendering="crispEdges"/>
<rect x="42.29" y="429.50" width="9.79" height="18.40" fill="#f86868" shape-rendering="crispEdges"/>
<rect x="51.78" y="429.50" width="9.79" height="18.40" fill="#f86868" shape-rendering="crispEdges"/>
<rect x="61.28" y="429.50" width="9.79" height="18.40" fill="#f86868" shape-rendering="crispEdges"/>
<rect x="70.77" y="429.50" width="9.79" height="18.40" fill="#f86868" shape-rendering="crispEdges"/>
<rect x="80.26" y="429.50" width="9.79" height="18.40" fill="#f8b0b0" shape-rendering="crispEdges"/>
<rect x="89.75" y="429.50" width="9.79" height="18.40" fill="#f88080" shape-rendering="crispEdges"/>
<rect x="99.25" y="429.50" width="9.79" height="18.40" fill="#fcd8d8" shape-rendering="crispEdges"/>
<rect x="108.74" y="429.50" width="9.79" height="18.40" fill="#fcd8d8" shape-rendering="crispEdges"/>
<rect x="118.23" y="429.50" width="9.79" height="18.40" fill="#e8e8f5" shape-rendering="crispEdges"/>
<rect x="127.72" y="429.50" width="9.79" height="18.40" fill="#b8b8e0" shape-rendering="crispEdges"/>
<rect x="137.22" y="429.50" width="9.79" height="18.40" fill="#9090c8" shape-rendering="crispEdges"/>
<rect x="146.71" y="429.50" width="9.79" height="18.40" fill="#b0b0d8" shape-rendering="crispEdges"/>
<rect x="156.20" y="429.50" width="9.79" height="18.40" fill="#6070b8" shape-rendering="crispEdges"/>
<rect x="165.69" y="429.50" width="9.79" height="18.40" fill="#a0a8d8" shape-rendering="crispEdges"/>
<rect x="175.18" y="429.50" width="9.79" height="18.40" fill="#8890c8" shape-rendering="crispEdges"/>
<rect x="184.68" y="429.50" width="9.79" height="18.40" fill="#9098d0" shape-rendering="crispEdges"/>
<rect x="194.17" y="429.50" width="9.79" height="18.40" fill="#8890c8" shape-rendering="crispEdges"/>
<rect x="203.66" y="429.50" width="9.79" height="18.40" fill="#6878b8" shape-rendering="crispEdges"/>
<rect x="213.15" y="429.50" width="9.79" height="18.40" fill="#5060b0" shape-rendering="crispEdges"/>
<rect x="222.65" y="429.50" width="9.79" height="18.40" fill="#3850a8" shape-rendering="crispEdges"/>
<rect x="232.14" y="429.50" width="9.79" height="18.40" fill="#9898d0" shape-rendering="crispEdges"/>
<rect x="241.63" y="429.50" width="9.79" height="18.40" fill="#5868b8" shape-rendering="crispEdges"/>
<rect x="251.12" y="429.50" width="9.79" height="18.40" fill="#5868b8" shape-rendering="crispEdges"/>
<rect x="260.62" y="429.50" width="9.79" height="18.40" fill="#4858b0" shape-rendering="crispEdges"/>
<rect x="270.11" y="429.50" width="9.79" height="18.40" fill="#6878c0" shape-rendering="crispEdges"/>
<rect x="32.80" y="447.60" width="9.79" height="18.40" fill="#f89090" shape-rendering="crispEdges"/>
<rect x="42.29" y="447.60" width="9.79" height="18.40" fill="#f88888" shape-rendering="crispEdges"/>
<rect x="51.78" y="447.60" width="9.79" height="18.40" fill="#f89090" shape-rendering="crispEdges"/>
<rect x="61.28" y="447.60" width="9.79" height="18.40" fill="#f87070" shape-rendering="crispEdges"/>
<rect x="70.77" y="447.60" width="9.79" height="18.40" fill="#f87070" shape-rendering="crispEdges"/>
<rect x="80.26" y="447.60" width="9.79" height="18.40" fill="#f01010" shape-rendering="crispEdges"/>
<rect x="89.75" y="447.60" width="9.79" height="18.40" fill="#fcc0c0" shape-rendering="crispEdges"/>
<rect x="99.25" y="447.60" width="9.79" height="18.40" fill="#fff0f0" shape-rendering="crispEdges"/>
<rect x="108.74" y="447.60" width="9.79" height="18.40" fill="#ffffff" shape-rendering="crispEdges"/>
<rect x="118.23" y="447.60" width="9.79" height="18.40" fill="#9090c8" shape-rendering="crispEdges"/>
<rect x="127.72" y="447.60" width="9.79" height="18.40" fill="#1048a8" shape-rendering="crispEdges"/>
<rect x="137.22" y="447.60" width="9.79" height="18.40" fill="#1048a8" shape-rendering="crispEdges"/>
<rect x="146.71" y="447.60" width="9.79" height="18.40" fill="#f88080" shape-rendering="crispEdges"/>
<rect x="156.20" y="447.60" width="9.79" height="18.40" fill="#f88888" shape-rendering="crispEdges"/>
<rect x="165.69" y="447.60" width="9.79" height="18.40" fill="#a0a8d8" shape-rendering="crispEdges"/>
<rect x="175.18" y="447.60" width="9.79" height="18.40" fill="#8890c8" shape-rendering="crispEdges"/>
<rect x="184.68" y="447.60" width="9.79" height="18.40" fill="#8088c8" shape-rendering="crispEdges"/>
<rect x="194.17" y="447.60" width="9.79" height="18.40" fill="#9898d0" shape-rendering="crispEdges"/>
<rect x="203.66" y="447.60" width="9.79" height="18.40" fill="#e0e0f4" shape-rendering="crispEdges"/>
<rect x="213.15" y="447.60" width="9.79" height="18.40" fill="#d8d8f0" shape-rendering="crispEdges"/>
<rect x="222.65" y="447.60" width="9.79" height="18.40" fill="#c8c8e8" shape-rendering="crispEdges"/>
<rect x="232.14" y="447.60" width="9.79" height="18.40" fill="#7078c0" shape-rendering="crispEdges"/>
<rect x="241.63" y="447.60" width="9.79" height="18.40" fill="#8088c8" shape-rendering="crispEdges"/>
<rect x="251.12" y="447.60" width="9.79" height="18.40" fill="#4858b0" shape-rendering="crispEdges"/>
<rect x="260.62" y="447.60" width="9.79" height="18.40" fill="#6070b8" shape-rendering="crispEdges"/>
<rect x="270.11" y="447.60" width="9.79" height="18.40" fill="#6878c0" shape-rendering="crispEdges"/>
<rect x="32.80" y="465.70" width="9.79" height="18.40" fill="#5060b0" shape-rendering="crispEdges"/>
<rect x="42.29" y="465.70" width="9.79" height="18.40" fill="#5868b8" shape-rendering="crispEdges"/>
<rect x="51.78" y="465.70" width="9.79" height="18.40" fill="#3850a8" shape-rendering="crispEdges"/>
<rect x="61.28" y="465.70" width="9.79" height="18.40" fill="#3850a8" shape-rendering="crispEdges"/>
<rect x="70.77" y="465.70" width="9.79" height="18.40" fill="#1040a0" shape-rendering="crispEdges"/>
<rect x="80.26" y="465.70" width="9.79" height="18.40" fill="#b0b0d8" shape-rendering="crispEdges"/>
<rect x="89.75" y="465.70" width="9.79" height="18.40" fill="#c0c0e0" shape-rendering="crispEdges"/>
<rect x="99.25" y="465.70" width="9.79" height="18.40" fill="#fcd8d8" shape-rendering="crispEdges"/>
<rect x="108.74" y="465.70" width="9.79" height="18.40" fill="#f85050" shape-rendering="crispEdges"/>
<rect x="118.23" y="465.70" width="9.79" height="18.40" fill="#f01818" shape-rendering="crispEdges"/>
<rect x="127.72" y="465.70" width="9.79" height="18.40" fill="#f86060" shape-rendering="crispEdges"/>
<rect x="137.22" y="465.70" width="9.79" height="18.40" fill="#fcc0c0" shape-rendering="crispEdges"/>
<rect x="146.71" y="465.70" width="9.79" height="18.40" fill="#fcd0d0" shape-rendering="crispEdges"/>
<rect x="156.20" y="465.70" width="9.79" height="18.40" fill="#f8f8fc" shape-rendering="crispEdges"/>
<rect x="165.69" y="465.70" width="9.79" height="18.40" fill="#6070b8" shape-rendering="crispEdges"/>
<rect x="175.18" y="465.70" width="9.79" height="18.40" fill="#c0c0e0" shape-rendering="crispEdges"/>
<rect x="184.68" y="465.70" width="9.79" height="18.40" fill="#d0d0ec" shape-rendering="crispEdges"/>
<rect x="194.17" y="465.70" width="9.79" height="18.40" fill="#c0c0e0" shape-rendering="crispEdges"/>
<rect x="203.66" y="465.70" width="9.79" height="18.40" fill="#f86060" shape-rendering="crispEdges"/>
<rect x="213.15" y="465.70" width="9.79" height="18.40" fill="#f89090" shape-rendering="crispEdges"/>
<rect x="222.65" y="465.70" width="9.79" height="18.40" fill="#f87878" shape-rendering="crispEdges"/>
<rect x="232.14" y="465.70" width="9.79" height="18.40" fill="#f8a8a8" shape-rendering="crispEdges"/>
<rect x="241.63" y="465.70" width="9.79" height="18.40" fill="#f85050" shape-rendering="crispEdges"/>
<rect x="251.12" y="465.70" width="9.79" height="18.40" fill="#f85050" shape-rendering="crispEdges"/>
<rect x="260.62" y="465.70" width="9.79" height="18.40" fill="#f86868" shape-rendering="crispEdges"/>
<rect x="270.11" y="465.70" width="9.79" height="18.40" fill="#f86868" shape-rendering="crispEdges"/>
<rect x="32.80" y="483.80" width="9.79" height="18.40" fill="#8088c0" shape-rendering="crispEdges"/>
<rect x="42.29" y="483.80" width="9.79" height="18.40" fill="#6070b8" shape-rendering="crispEdges"/>
<rect x="51.78" y="483.80" width="9.79" height="18.40" fill="#4058a8" shape-rendering="crispEdges"/>
<rect x="61.28" y="483.80" width="9.79" height="18.40" fill="#7078b8" shape-rendering="crispEdges"/>
<rect x="70.77" y="483.80" width="9.79" height="18.40" fill="#a0a0d0" shape-rendering="crispEdges"/>
<rect x="80.26" y="483.80" width="9.79" height="18.40" fill="#a8a8d8" shape-rendering="crispEdges"/>
<rect x="89.75" y="483.80" width="9.79" height="18.40" fill="#1048a0" shape-rendering="crispEdges"/>
<rect x="99.25" y="483.80" width="9.79" height="18.40" fill="#a0a8d8" shape-rendering="crispEdges"/>
<rect x="108.74" y="483.80" width="9.79" height="18.40" fill="#1048a0" shape-rendering="crispEdges"/>
<rect x="118.23" y="483.80" width="9.79" height="18.40" fill="#5060b0" shape-rendering="crispEdges"/>
<rect x="127.72" y="483.80" width="9.79" height="18.40" fill="#fcd0d0" shape-rendering="crispEdges"/>
<rect x="137.22" y="483.80" width="9.79" height="18.40" fill="#f8a0a0" shape-rendering="crispEdges"/>
<rect x="146.71" y="483.80" width="9.79" height="18.40" fill="#d8d8ee" shape-rendering="crispEdges"/>
<rect x="156.20" y="483.80" width="9.79" height="18.40" fill="#f04040" shape-rendering="crispEdges"/>
<rect x="165.69" y="483.80" width="9.79" height="18.40" fill="#f89090" shape-rendering="crispEdges"/>
<rect x="175.18" y="483.80" width="9.79" height="18.40" fill="#f84040" shape-rendering="crispEdges"/>
<rect x="184.68" y="483.80" width="9.79" height="18.40" fill="#f88080" shape-rendering="crispEdges"/>
<rect x="194.17" y="483.80" width="9.79" height="18.40" fill="#f86060" shape-rendering="crispEdges"/>
<rect x="203.66" y="483.80" width="9.79" height="18.40" fill="#f8a8a8" shape-rendering="crispEdges"/>
<rect x="213.15" y="483.80" width="9.79" height="18.40" fill="#f88080" shape-rendering="crispEdges"/>
<rect x="222.65" y="483.80" width="9.79" height="18.40" fill="#f87070" shape-rendering="crispEdges"/>
<rect x="232.14" y="483.80" width="9.79" height="18.40" fill="#f88080" shape-rendering="crispEdges"/>
<rect x="241.63" y="483.80" width="9.79" height="18.40" fill="#f89090" shape-rendering="crispEdges"/>
<rect x="251.12" y="483.80" width="9.79" height="18.40" fill="#f8a0a0" shape-rendering="crispEdges"/>
<rect x="260.62" y="483.80" width="9.79" height="18.40" fill="#f89090" shape-rendering="crispEdges"/>
<rect x="270.11" y="483.80" width="9.79" height="18.40" fill="#f89090" shape-rendering="crispEdges"/>
<rect x="32.80" y="501.90" width="9.79" height="18.40" fill="#4860b0" shape-rendering="crispEdges"/>
<rect x="42.29" y="501.90" width="9.79" height="18.40" fill="#5868b8" shape-rendering="crispEdges"/>
<rect x="51.78" y="501.90" width="9.79" height="18.40" fill="#b0b0d8" shape-rendering="crispEdges"/>
<rect x="61.28" y="501.90" width="9.79" height="18.40" fill="#a8a8d8" shape-rendering="crispEdges"/>
<rect x="70.77" y="501.90" width="9.79" height="18.40" fill="#e0e0f4" shape-rendering="crispEdges"/>
<rect x="80.26" y="501.90" width="9.79" height="18.40" fill="#4058a8" shape-rendering="crispEdges"/>
<rect x="89.75" y="501.90" width="9.79" height="18.40" fill="#9898d0" shape-rendering="crispEdges"/>
<rect x="99.25" y="501.90" width="9.79" height="18.40" fill="#1048a0" shape-rendering="crispEdges"/>
<rect x="108.74" y="501.90" width="9.79" height="18.40" fill="#c8c8e8" shape-rendering="crispEdges"/>
<rect x="118.23" y="501.90" width="9.79" height="18.40" fill="#b8b8e0" shape-rendering="crispEdges"/>
<rect x="127.72" y="501.90" width="9.79" height="18.40" fill="#c8c8e8" shape-rendering="crispEdges"/>
<rect x="137.22" y="501.90" width="9.79" height="18.40" fill="#f8b0b0" shape-rendering="crispEdges"/>
<rect x="146.71" y="501.90" width="9.79" height="18.40" fill="#f04040" shape-rendering="crispEdges"/>
<rect x="156.20" y="501.90" width="9.79" height="18.40" fill="#fcc0c0" shape-rendering="crispEdges"/>
<rect x="165.69" y="501.90" width="9.79" height="18.40" fill="#f01010" shape-rendering="crispEdges"/>
<rect x="175.18" y="501.90" width="9.79" height="18.40" fill="#f84040" shape-rendering="crispEdges"/>
<rect x="184.68" y="501.90" width="9.79" height="18.40" fill="#f01818" shape-rendering="crispEdges"/>
<rect x="194.17" y="501.90" width="9.79" height="18.40" fill="#f02020" shape-rendering="crispEdges"/>
<rect x="203.66" y="501.90" width="9.79" height="18.40" fill="#f87070" shape-rendering="crispEdges"/>
<rect x="213.15" y="501.90" width="9.79" height="18.40" fill="#f86868" shape-rendering="crispEdges"/>
<rect x="222.65" y="501.90" width="9.79" height="18.40" fill="#f89090" shape-rendering="crispEdges"/>
<rect x="232.14" y="501.90" width="9.79" height="18.40" fill="#f03838" shape-rendering="crispEdges"/>
<rect x="241.63" y="501.90" width="9.79" height="18.40" fill="#f88888" shape-rendering="crispEdges"/>
<rect x="251.12" y="501.90" width="9.79" height="18.40" fill="#f86060" shape-rendering="crispEdges"/>
<rect x="260.62" y="501.90" width="9.79" height="18.40" fill="#f86060" shape-rendering="crispEdges"/>
<rect x="270.11" y="501.90" width="9.79" height="18.40" fill="#f87070" shape-rendering="crispEdges"/>
<text x="281.4" y="422.6" font-size="6.1" fill="#222" stroke="#222" stroke-width="0.22" text-anchor="start" font-weight="normal" >VAT3</text>
<text x="281.4" y="440.6" font-size="6.1" fill="#222" stroke="#222" stroke-width="0.22" text-anchor="start" font-weight="normal" >VAT2</text>
<text x="281.4" y="458.8" font-size="6.1" fill="#222" stroke="#222" stroke-width="0.22" text-anchor="start" font-weight="normal" >VAT1</text>
<text x="281.4" y="476.9" font-size="6.1" fill="#222" stroke="#222" stroke-width="0.22" text-anchor="start" font-weight="normal" >SAT3</text>
<text x="281.4" y="495.0" font-size="6.1" fill="#222" stroke="#222" stroke-width="0.22" text-anchor="start" font-weight="normal" >SAT2</text>
<text x="281.4" y="513.0" font-size="6.1" fill="#222" stroke="#222" stroke-width="0.22" text-anchor="start" font-weight="normal" >SAT1</text>
<text transform="translate(35.2,521.6) rotate(90)" font-size="6.2" fill="#222" stroke="#222" stroke-width="0.2">C18:0</text>
<text transform="translate(44.7,521.6) rotate(90)" font-size="6.2" fill="#222" stroke="#222" stroke-width="0.2">C16:0</text>
<text transform="translate(54.2,521.6) rotate(90)" font-size="6.2" fill="#222" stroke="#222" stroke-width="0.2">C14:0</text>
<text transform="translate(63.7,521.6) rotate(90)" font-size="6.2" fill="#222" stroke="#222" stroke-width="0.2">C12:0</text>
<text transform="translate(73.2,521.6) rotate(90)" font-size="6.2" fill="#222" stroke="#222" stroke-width="0.2">C10:0</text>
<text transform="translate(82.7,521.6) rotate(90)" font-size="6.2" fill="#222" stroke="#222" stroke-width="0.2">C18:3n6</text>
<text transform="translate(92.2,521.6) rotate(90)" font-size="6.2" fill="#222" stroke="#222" stroke-width="0.2">C20:4n6</text>
<text transform="translate(101.7,521.6) rotate(90)" font-size="6.2" fill="#222" stroke="#222" stroke-width="0.2">C24:0</text>
<text transform="translate(111.2,521.6) rotate(90)" font-size="6.2" fill="#222" stroke="#222" stroke-width="0.2">C20:0</text>
<text transform="translate(120.7,521.6) rotate(90)" font-size="6.2" fill="#222" stroke="#222" stroke-width="0.2">C22:0</text>
<text transform="translate(130.2,521.6) rotate(90)" font-size="6.2" fill="#222" stroke="#222" stroke-width="0.2">C15:1</text>
<text transform="translate(139.7,521.6) rotate(90)" font-size="6.2" fill="#222" stroke="#222" stroke-width="0.2">C23:0</text>
<text transform="translate(149.2,521.6) rotate(90)" font-size="6.2" fill="#222" stroke="#222" stroke-width="0.2">C20:3n6</text>
<text transform="translate(158.6,521.6) rotate(90)" font-size="6.2" fill="#222" stroke="#222" stroke-width="0.2">C18:3n3</text>
<text transform="translate(168.1,521.6) rotate(90)" font-size="6.2" fill="#222" stroke="#222" stroke-width="0.2">C17:0</text>
<text transform="translate(177.6,521.6) rotate(90)" font-size="6.2" fill="#222" stroke="#222" stroke-width="0.2">C13:0</text>
<text transform="translate(187.1,521.6) rotate(90)" font-size="6.2" fill="#222" stroke="#222" stroke-width="0.2">C17:1</text>
<text transform="translate(196.6,521.6) rotate(90)" font-size="6.2" fill="#222" stroke="#222" stroke-width="0.2">C15:0</text>
<text transform="translate(206.1,521.6) rotate(90)" font-size="6.2" fill="#222" stroke="#222" stroke-width="0.2">C22:2n6</text>
<text transform="translate(215.6,521.6) rotate(90)" font-size="6.2" fill="#222" stroke="#222" stroke-width="0.2">C20:3n3</text>
<text transform="translate(225.1,521.6) rotate(90)" font-size="6.2" fill="#222" stroke="#222" stroke-width="0.2">C18:2n6c</text>
<text transform="translate(234.6,521.6) rotate(90)" font-size="6.2" fill="#222" stroke="#222" stroke-width="0.2">C16:1</text>
<text transform="translate(244.1,521.6) rotate(90)" font-size="6.2" fill="#222" stroke="#222" stroke-width="0.2">C20:2</text>
<text transform="translate(253.6,521.6) rotate(90)" font-size="6.2" fill="#222" stroke="#222" stroke-width="0.2">C20:1</text>
<text transform="translate(263.1,521.6) rotate(90)" font-size="6.2" fill="#222" stroke="#222" stroke-width="0.2">C22:1n9</text>
<text transform="translate(272.6,521.6) rotate(90)" font-size="6.2" fill="#222" stroke="#222" stroke-width="0.2">C18:1n9c</text>
<path d="M37.54615384615384,411.4 V409.5 H47.03846153846153 V411.4" stroke="#2a2a2a" stroke-width="0.9" fill="none"/>
<path d="M56.530769230769224,411.4 V409.9 H66.02307692307693 V411.4" stroke="#2a2a2a" stroke-width="0.9" fill="none"/>
<path d="M42.29230769230769,409.5 V408 H61.276923076923076 V409.9" stroke="#2a2a2a" stroke-width="0.9" fill="none"/>
<path d="M51.78461538461538,408 V405.4 H75.51538461538462 V411.4" stroke="#2a2a2a" stroke-width="0.9" fill="none"/>
<path d="M63.5,405.4 V403.2 H85.00769230769231 V411.4" stroke="#2a2a2a" stroke-width="0.9" fill="none"/>
<path d="M94.5,411.4 V404.1 H103.99230769230769 V411.4" stroke="#2a2a2a" stroke-width="0.9" fill="none"/>
<path d="M113.48461538461538,411.4 V406 H122.97692307692307 V411.4" stroke="#2a2a2a" stroke-width="0.9" fill="none"/>
<path d="M132.46923076923076,411.4 V405.4 H141.96153846153845 V411.4" stroke="#2a2a2a" stroke-width="0.9" fill="none"/>
<path d="M99.24615384615385,404.1 V399.4 H118.23076923076923 V406" stroke="#2a2a2a" stroke-width="0.9" fill="none"/>
<path d="M108.5,399.4 V394.2 H137.2153846153846 V405.4" stroke="#2a2a2a" stroke-width="0.9" fill="none"/>
<path d="M151.45384615384614,411.4 V403.5 H160.94615384615383 V411.4" stroke="#2a2a2a" stroke-width="0.9" fill="none"/>
<path d="M170.43846153846152,411.4 V409.5 H179.93076923076922 V411.4" stroke="#2a2a2a" stroke-width="0.9" fill="none"/>
<path d="M189.4230769230769,411.4 V409.8 H198.9153846153846 V411.4" stroke="#2a2a2a" stroke-width="0.9" fill="none"/>
<path d="M175.18461538461537,409.5 V407.7 H194.16923076923075 V409.8" stroke="#2a2a2a" stroke-width="0.9" fill="none"/>
<path d="M217.89999999999998,411.4 V410 H227.39230769230767 V411.4" stroke="#2a2a2a" stroke-width="0.9" fill="none"/>
<path d="M208.4076923076923,411.4 V408.6 H222.64615384615382 V410" stroke="#2a2a2a" stroke-width="0.9" fill="none"/>
<path d="M215.5,408.6 V406.6 H255.1 V409.3" stroke="#2a2a2a" stroke-width="0.9" fill="none"/>
<path d="M236.88461538461536,406.6 V411.4" stroke="#2a2a2a" stroke-width="0.9" fill="none"/>
<path d="M246.37692307692305,411.4 V409.3 H264.5 V410.2" stroke="#2a2a2a" stroke-width="0.9" fill="none"/>
<path d="M255.86923076923074,411.4 V410.2 H270.10769230769233 V410.6" stroke="#2a2a2a" stroke-width="0.9" fill="none"/>
<path d="M265.3615384615385,411.4 V410.6 H274.8538461538462 V411.4" stroke="#2a2a2a" stroke-width="0.9" fill="none"/>
<path d="M156.2,403.5 V400.9 H231.2 V406.6" stroke="#2a2a2a" stroke-width="0.9" fill="none"/>
<path d="M184.67692307692306,407.7 V400.9" stroke="#2a2a2a" stroke-width="0.9" fill="none"/>
<path d="M74,403.2 V390.8 H180.6 V400.9" stroke="#2a2a2a" stroke-width="0.9" fill="none"/>
<path d="M122.9,390.8 V394.2" stroke="#2a2a2a" stroke-width="0.9" fill="none"/>
<path d="M32.8,420.4 H26.2 V438.5 H32.8" stroke="#2a2a2a" stroke-width="0.9" fill="none"/>
<path d="M26.2,429.5 H20.8 V456.6 H32.8" stroke="#2a2a2a" stroke-width="0.9" fill="none"/>
<path d="M32.8,492.9 H25.8 V510.9 H32.8" stroke="#2a2a2a" stroke-width="0.9" fill="none"/>
<path d="M25.8,501.9 H20.8 V474.8 H32.8" stroke="#2a2a2a" stroke-width="0.9" fill="none"/>
<path d="M20.8,443.1 H12.5 V488.3 H20.8" stroke="#2a2a2a" stroke-width="0.9" fill="none"/>
<defs><linearGradient id="eG" x1="0" y1="0" x2="0" y2="1"><stop offset="0" stop-color="#ee1c1c"/><stop offset="0.5" stop-color="#ffffff"/><stop offset="1" stop-color="#1446a0"/></linearGradient></defs>
<rect x="301.8" y="414.5" width="3.4" height="57.5" fill="url(#eG)"/>
<text x="307" y="420.6" font-size="5.8" fill="#222" stroke="#222" stroke-width="0.22" text-anchor="start" font-weight="normal" >1.5</text>
<text x="307" y="428.6" font-size="5.8" fill="#222" stroke="#222" stroke-width="0.22" text-anchor="start" font-weight="normal" >1</text>
<text x="307" y="436.0" font-size="5.8" fill="#222" stroke="#222" stroke-width="0.22" text-anchor="start" font-weight="normal" >0.5</text>
<text x="307" y="444.5" font-size="5.8" fill="#222" stroke="#222" stroke-width="0.22" text-anchor="start" font-weight="normal" >0</text>
<text x="307" y="453.1" font-size="5.8" fill="#222" stroke="#222" stroke-width="0.22" text-anchor="start" font-weight="normal" >−0.5</text>
<text x="307" y="461.5" font-size="5.8" fill="#222" stroke="#222" stroke-width="0.22" text-anchor="start" font-weight="normal" >−1</text>
<text x="307" y="469.5" font-size="5.8" fill="#222" stroke="#222" stroke-width="0.22" text-anchor="start" font-weight="normal" >−1.5</text>
<polygon points="350.7,515.8 475.4,515.8 527,484.0 401.5,484.0" fill="#f6f6f6"/>
<line x1="360.9" y1="509.4" x2="485.7" y2="509.4" stroke="#c4c4c4" stroke-width="1.1"/>
<line x1="371.0" y1="503.1" x2="496.0" y2="503.1" stroke="#c4c4c4" stroke-width="1.1"/>
<line x1="381.2" y1="496.7" x2="506.4" y2="496.7" stroke="#c4c4c4" stroke-width="1.1"/>
<line x1="391.3" y1="490.4" x2="516.7" y2="490.4" stroke="#c4c4c4" stroke-width="1.1"/>
<line x1="371.5" y1="515.8" x2="422.3" y2="484.0" stroke="#c4c4c4" stroke-width="1.1"/>
<line x1="392.3" y1="515.8" x2="443.1" y2="484.0" stroke="#c4c4c4" stroke-width="1.1"/>
<line x1="413.1" y1="515.8" x2="463.9" y2="484.0" stroke="#c4c4c4" stroke-width="1.1"/>
<line x1="433.9" y1="515.8" x2="484.7" y2="484.0" stroke="#c4c4c4" stroke-width="1.1"/>
<line x1="454.7" y1="515.8" x2="505.5" y2="484.0" stroke="#c4c4c4" stroke-width="1.1"/>
<path d="M401.5,484.0 V401 H527 V484.0 H401.5" stroke="#111" stroke-width="1.9" fill="none" stroke-linejoin="round"/>
<line x1="386.4" y1="452" x2="386.4" y2="503.5" stroke="#1d9ee0" stroke-width="3.4"/>
<circle cx="387.1" cy="451.4" r="2.8" fill="#1d9ee0"/>
<circle cx="388.4" cy="459.9" r="2.8" fill="#1d9ee0"/>
<circle cx="386.2" cy="472.6" r="2.8" fill="#1d9ee0"/>
<line x1="416" y1="443.6" x2="416" y2="513" stroke="#ec1c86" stroke-width="1.7"/>
<circle cx="416" cy="443.6" r="2.9" fill="#ec1c86"/>
<line x1="469" y1="446.3" x2="469" y2="491" stroke="#ec1c86" stroke-width="1.7"/>
<circle cx="469" cy="446.3" r="2.9" fill="#ec1c86"/>
<line x1="427.6" y1="495.4" x2="427.6" y2="509.3" stroke="#ec1c86" stroke-width="1.7"/>
<circle cx="427.6" cy="495.4" r="2.9" fill="#ec1c86"/>
<path d="M350.7,515.8 V432.7 H475.4 V515.8 Z" stroke="#111" stroke-width="1.9" fill="none" stroke-linejoin="round"/>
<path d="M350.7,432.7 L401.5,401 M475.4,432.7 L527,401 M475.4,515.8 L527,484.0 M350.7,515.8 L401.5,484.0" stroke="#111" stroke-width="1.9" fill="none" stroke-linejoin="round"/>
<line x1="348.8" y1="453.5" x2="352.6" y2="453.5" stroke="#111" stroke-width="1.6"/>
<line x1="348.8" y1="474.5" x2="352.6" y2="474.5" stroke="#111" stroke-width="1.6"/>
<line x1="348.8" y1="495.2" x2="352.6" y2="495.2" stroke="#111" stroke-width="1.6"/>
<line x1="371.1" y1="514.3" x2="371.1" y2="517.5999999999999" stroke="#111" stroke-width="1.6"/>
<line x1="392.1" y1="514.3" x2="392.1" y2="517.5999999999999" stroke="#111" stroke-width="1.6"/>
<line x1="413" y1="514.3" x2="413" y2="517.5999999999999" stroke="#111" stroke-width="1.6"/>
<line x1="433.9" y1="514.3" x2="433.9" y2="517.5999999999999" stroke="#111" stroke-width="1.6"/>
<line x1="454.8" y1="514.3" x2="454.8" y2="517.5999999999999" stroke="#111" stroke-width="1.6"/>
<text x="383.4" y="453.6" font-size="6.5" fill="#222" stroke="#222" stroke-width="0.22" text-anchor="end" font-weight="normal" >SAT1</text>
<text x="384.6" y="462.1" font-size="6.5" fill="#222" stroke="#222" stroke-width="0.22" text-anchor="end" font-weight="normal" >SAT3</text>
<text x="382.6" y="474.8" font-size="6.5" fill="#222" stroke="#222" stroke-width="0.22" text-anchor="end" font-weight="normal" >SAT2</text>
<text x="421.7" y="445.8" font-size="6.5" fill="#222" stroke="#222" stroke-width="0.22" text-anchor="start" font-weight="normal" >VAT1</text>
<text x="465.1" y="448.5" font-size="6.5" fill="#222" stroke="#222" stroke-width="0.22" text-anchor="end" font-weight="normal" >VAT2</text>
<text x="432.5" y="497.5" font-size="6.5" fill="#222" stroke="#222" stroke-width="0.22" text-anchor="start" font-weight="normal" >VAT3</text>
<circle cx="494.4" cy="449" r="2.4" fill="#1d9ee0"/>
<circle cx="494.4" cy="457.4" r="2.4" fill="#ec1c86"/>
<text x="499" y="451.4" font-size="6.5" fill="#222" stroke="#222" stroke-width="0.22" text-anchor="start" font-weight="normal" >SAT</text>
<text x="499" y="459.8" font-size="6.5" fill="#222" stroke="#222" stroke-width="0.22" text-anchor="start" font-weight="normal" >VAT</text>
<text x="354.5" y="524" font-size="5" fill="#222" stroke="#222" stroke-width="0.22" text-anchor="middle" font-weight="normal" >−0.10</text>
<text x="373.5" y="524" font-size="5" fill="#222" stroke="#222" stroke-width="0.22" text-anchor="middle" font-weight="normal" >−0.05</text>
<text x="394" y="524" font-size="5" fill="#222" stroke="#222" stroke-width="0.22" text-anchor="middle" font-weight="normal" >0.00</text>
<text x="414.2" y="524" font-size="5" fill="#222" stroke="#222" stroke-width="0.22" text-anchor="middle" font-weight="normal" >0.05</text>
<text x="435.2" y="524" font-size="5" fill="#222" stroke="#222" stroke-width="0.22" text-anchor="middle" font-weight="normal" >0.10</text>
<text x="455" y="524" font-size="5" fill="#222" stroke="#222" stroke-width="0.22" text-anchor="middle" font-weight="normal" >0.15</text>
<text transform="translate(345,430) rotate(-90)" font-size="5" fill="#222" stroke="#222" stroke-width="0.15" text-anchor="middle">0.010</text>
<text transform="translate(345,452) rotate(-90)" font-size="5" fill="#222" stroke="#222" stroke-width="0.15" text-anchor="middle">0.005</text>
<text transform="translate(345,474) rotate(-90)" font-size="5" fill="#222" stroke="#222" stroke-width="0.15" text-anchor="middle">0.000</text>
<text transform="translate(345,494) rotate(-90)" font-size="5" fill="#222" stroke="#222" stroke-width="0.15" text-anchor="middle">−0.005</text>
<text transform="translate(345,516) rotate(-90)" font-size="5" fill="#222" stroke="#222" stroke-width="0.15" text-anchor="middle">−0.010</text>
<text x="481.9" y="522" font-size="5" fill="#222" stroke="#222" stroke-width="0.22" text-anchor="middle" font-weight="normal" >0.20</text>
<text x="489.2" y="516.6" font-size="5" fill="#222" stroke="#222" stroke-width="0.22" text-anchor="middle" font-weight="normal" >−0.04</text>
<text x="499.7" y="510" font-size="5" fill="#222" stroke="#222" stroke-width="0.22" text-anchor="middle" font-weight="normal" >−0.02</text>
<text x="509.4" y="503.6" font-size="5" fill="#222" stroke="#222" stroke-width="0.22" text-anchor="middle" font-weight="normal" >0.00</text>
<text x="519.2" y="497" font-size="5" fill="#222" stroke="#222" stroke-width="0.22" text-anchor="middle" font-weight="normal" >0.02</text>
<text x="529.7" y="491" font-size="5" fill="#222" stroke="#222" stroke-width="0.22" text-anchor="middle" font-weight="normal" >0.04</text>
<text x="540.2" y="484.5" font-size="5" fill="#222" stroke="#222" stroke-width="0.22" text-anchor="middle" font-weight="normal" >0.06</text>
<text x="414.2" y="538.2" font-size="11.2" fill="#222" stroke="#222" stroke-width="0.22" text-anchor="middle" font-weight="normal" >PC1(91.3%)</text>
<text transform="translate(335,458.7) rotate(-90)" font-size="11.3" fill="#222" stroke="#222" stroke-width="0.2" text-anchor="middle">PC3(0.3%)</text>
<text transform="translate(523,517) rotate(-36)" font-size="11.2" fill="#222" stroke="#222" stroke-width="0.2" text-anchor="middle">PC2(8.4%)</text>
<text x="5.3" y="17.6" font-size="16" fill="#111" stroke="#111" stroke-width="0.22" text-anchor="start" font-weight="normal" >A</text>
<text x="333.9" y="17.1" font-size="16" fill="#111" stroke="#111" stroke-width="0.22" text-anchor="start" font-weight="normal" >B</text>
<text x="13.4" y="136.8" font-size="16" fill="#111" stroke="#111" stroke-width="0.22" text-anchor="start" font-weight="normal" >C</text>
<text x="334.9" y="136.1" font-size="16" fill="#111" stroke="#111" stroke-width="0.22" text-anchor="start" font-weight="normal" >D</text>
<text x="20.8" y="406.3" font-size="16" fill="#111" stroke="#111" stroke-width="0.22" text-anchor="start" font-weight="normal" >E</text>
<text x="337.0" y="406.0" font-size="16" fill="#111" stroke="#111" stroke-width="0.22" text-anchor="start" font-weight="normal" >F</text>
</svg></body></html>
